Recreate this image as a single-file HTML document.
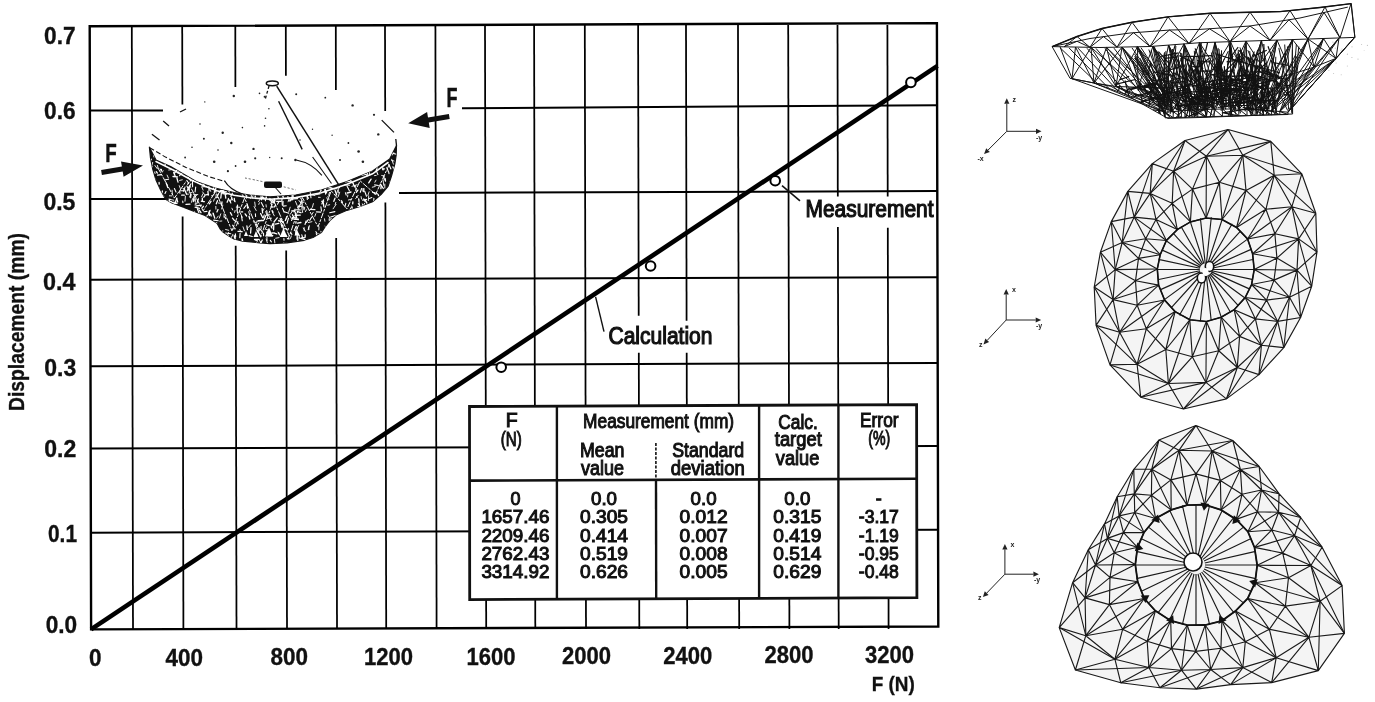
<!DOCTYPE html>
<html><head><meta charset="utf-8"><title>Displacement vs force</title>
<style>html,body{margin:0;padding:0;background:#fff;} body{width:1375px;height:702px;overflow:hidden} svg{display:block}</style>
</head><body>
<svg width="1375" height="702" viewBox="0 0 1375 702">
<rect width="1375" height="702" fill="#fff"/>
<g id="grid">
<line x1="131.8" y1="25.0" x2="133.0" y2="629.0" stroke="#000" stroke-width="1.75" />
<line x1="182.2" y1="25.0" x2="182.4" y2="104.6" stroke="#000" stroke-width="1.75" />
<line x1="182.6" y1="216.4" x2="183.4" y2="629.0" stroke="#000" stroke-width="1.75" />
<line x1="235.3" y1="25.0" x2="235.4" y2="87.0" stroke="#000" stroke-width="1.75" />
<line x1="235.7" y1="245.8" x2="236.5" y2="629.0" stroke="#000" stroke-width="1.75" />
<line x1="285.8" y1="25.0" x2="285.9" y2="75.7" stroke="#000" stroke-width="1.75" />
<line x1="286.2" y1="250.4" x2="287.0" y2="629.0" stroke="#000" stroke-width="1.75" />
<line x1="335.8" y1="25.0" x2="335.9" y2="90.0" stroke="#000" stroke-width="1.75" />
<line x1="336.2" y1="238.0" x2="337.0" y2="629.0" stroke="#000" stroke-width="1.75" />
<line x1="385.0" y1="25.0" x2="385.2" y2="111.0" stroke="#000" stroke-width="1.75" />
<line x1="385.4" y1="202.5" x2="386.2" y2="629.0" stroke="#000" stroke-width="1.75" />
<line x1="435.4" y1="25.0" x2="436.6" y2="629.0" stroke="#000" stroke-width="1.75" />
<line x1="485.0" y1="25.0" x2="486.2" y2="629.0" stroke="#000" stroke-width="1.75" />
<line x1="534.1" y1="25.0" x2="535.3" y2="629.0" stroke="#000" stroke-width="1.75" />
<line x1="584.8" y1="25.0" x2="586.0" y2="629.0" stroke="#000" stroke-width="1.75" />
<line x1="638.1" y1="25.0" x2="638.7" y2="315.8" stroke="#000" stroke-width="1.75" />
<line x1="638.8" y1="352.7" x2="639.3" y2="629.0" stroke="#000" stroke-width="1.75" />
<line x1="686.0" y1="25.0" x2="686.6" y2="320.8" stroke="#000" stroke-width="1.75" />
<line x1="686.7" y1="352.7" x2="687.2" y2="629.0" stroke="#000" stroke-width="1.75" />
<line x1="738.0" y1="25.0" x2="739.2" y2="629.0" stroke="#000" stroke-width="1.75" />
<line x1="788.2" y1="25.0" x2="789.4" y2="629.0" stroke="#000" stroke-width="1.75" />
<line x1="837.5" y1="25.0" x2="837.8" y2="196.6" stroke="#000" stroke-width="1.75" />
<line x1="837.9" y1="227.0" x2="838.7" y2="629.0" stroke="#000" stroke-width="1.75" />
<line x1="887.4" y1="25.0" x2="887.7" y2="196.6" stroke="#000" stroke-width="1.75" />
<line x1="887.8" y1="227.7" x2="888.6" y2="629.0" stroke="#000" stroke-width="1.75" />
<line x1="91.0" y1="279.7" x2="937.0" y2="277.2" stroke="#000" stroke-width="2.0" />
<line x1="91.0" y1="366.3" x2="937.0" y2="362.9" stroke="#000" stroke-width="2.0" />
<line x1="91.0" y1="448.6" x2="937.0" y2="446.0" stroke="#000" stroke-width="2.0" />
<line x1="91.0" y1="532.7" x2="937.0" y2="529.7" stroke="#000" stroke-width="2.0" />
<line x1="91.0" y1="110.6" x2="163.0" y2="110.4" stroke="#000" stroke-width="2.0" />
<line x1="462.0" y1="108.2" x2="937.0" y2="105.2" stroke="#000" stroke-width="2.0" />
<line x1="91.0" y1="199.1" x2="166.0" y2="199.0" stroke="#000" stroke-width="2.0" />
<line x1="399.0" y1="193.0" x2="937.0" y2="191.0" stroke="#000" stroke-width="2.0" />
</g>
<polygon points="149.5,147.5 156.0,160.0 170.6,166.5 183.0,173.8 196.3,181.5 215.0,188.0 234.0,192.5 250.0,195.2 270.0,196.8 295.6,195.0 321.3,190.0 347.0,181.5 372.6,171.0 389.7,159.1 396.5,145.4 396.2,155.0 394.8,164.2 391.5,176.0 388.0,186.4 381.0,194.5 372.6,201.8 360.0,206.5 347.0,210.3 336.0,215.0 329.8,220.6 325.0,227.0 321.3,232.6 313.0,237.5 304.2,240.3 287.1,242.8 270.0,243.7 259.7,242.8 242.6,241.1 234.0,239.0 228.9,236.0 223.0,232.0 220.3,229.1 217.0,223.2 205.0,215.5 193.0,211.0 182.7,206.9 172.0,203.0 165.6,199.2 160.5,189.8 156.0,180.0 152.8,169.3 150.5,158.0 149.4,147.1" fill="#111" stroke="#111" stroke-width="1.2" stroke-linejoin="round"/>
<clipPath id="bandclip"><polygon points="149.5,147.5 156.0,160.0 170.6,166.5 183.0,173.8 196.3,181.5 215.0,188.0 234.0,192.5 250.0,195.2 270.0,196.8 295.6,195.0 321.3,190.0 347.0,181.5 372.6,171.0 389.7,159.1 396.5,145.4 396.2,155.0 394.8,164.2 391.5,176.0 388.0,186.4 381.0,194.5 372.6,201.8 360.0,206.5 347.0,210.3 336.0,215.0 329.8,220.6 325.0,227.0 321.3,232.6 313.0,237.5 304.2,240.3 287.1,242.8 270.0,243.7 259.7,242.8 242.6,241.1 234.0,239.0 228.9,236.0 223.0,232.0 220.3,229.1 217.0,223.2 205.0,215.5 193.0,211.0 182.7,206.9 172.0,203.0 165.6,199.2 160.5,189.8 156.0,180.0 152.8,169.3 150.5,158.0 149.4,147.1"/></clipPath>
<g clip-path="url(#bandclip)" stroke="#fff" stroke-linecap="round">
<line x1="261.3" y1="202.6" x2="263.5" y2="206.8" stroke-width="1.1"/>
<line x1="305.0" y1="224.5" x2="306.1" y2="220.8" stroke-width="1.1"/>
<line x1="387.3" y1="211.5" x2="388.1" y2="210.0" stroke-width="0.9"/>
<line x1="297.5" y1="223.1" x2="300.9" y2="222.5" stroke-width="1.3"/>
<line x1="170.9" y1="211.6" x2="173.6" y2="212.3" stroke-width="0.9"/>
<line x1="276.2" y1="152.8" x2="278.7" y2="148.1" stroke-width="1.3"/>
<line x1="150.1" y1="169.7" x2="152.4" y2="166.7" stroke-width="0.9"/>
<line x1="341.5" y1="175.4" x2="342.1" y2="173.4" stroke-width="1.3"/>
<line x1="174.9" y1="155.6" x2="177.9" y2="160.1" stroke-width="0.9"/>
<line x1="253.1" y1="186.1" x2="258.4" y2="184.5" stroke-width="0.9"/>
<line x1="201.8" y1="187.1" x2="203.1" y2="190.1" stroke-width="0.9"/>
<line x1="340.1" y1="180.9" x2="341.0" y2="182.2" stroke-width="1.1"/>
<line x1="241.4" y1="192.6" x2="243.3" y2="196.2" stroke-width="1.1"/>
<line x1="373.5" y1="226.9" x2="375.9" y2="230.4" stroke-width="1.1"/>
<line x1="367.0" y1="206.7" x2="369.6" y2="210.3" stroke-width="1.1"/>
<line x1="213.2" y1="227.4" x2="214.2" y2="225.7" stroke-width="1.1"/>
<line x1="287.6" y1="230.1" x2="288.5" y2="228.6" stroke-width="1.1"/>
<line x1="259.6" y1="155.7" x2="261.7" y2="155.8" stroke-width="1.1"/>
<line x1="391.2" y1="211.8" x2="393.0" y2="208.8" stroke-width="1.1"/>
<line x1="322.4" y1="240.5" x2="324.5" y2="240.5" stroke-width="0.9"/>
<line x1="168.5" y1="201.3" x2="171.4" y2="201.7" stroke-width="1.3"/>
<line x1="266.4" y1="157.3" x2="268.7" y2="154.0" stroke-width="1.1"/>
<line x1="243.3" y1="151.2" x2="243.7" y2="155.6" stroke-width="1.1"/>
<line x1="379.8" y1="215.3" x2="381.0" y2="212.8" stroke-width="0.9"/>
<line x1="268.3" y1="171.6" x2="273.4" y2="172.0" stroke-width="1.1"/>
<line x1="224.1" y1="213.7" x2="224.0" y2="217.2" stroke-width="0.9"/>
<line x1="230.4" y1="212.6" x2="231.9" y2="215.3" stroke-width="1.3"/>
<line x1="376.5" y1="169.7" x2="378.2" y2="164.7" stroke-width="1.1"/>
<line x1="352.2" y1="160.6" x2="352.4" y2="164.8" stroke-width="1.3"/>
<line x1="356.4" y1="242.3" x2="358.3" y2="238.5" stroke-width="1.1"/>
<line x1="290.4" y1="179.0" x2="292.9" y2="175.2" stroke-width="1.1"/>
<line x1="208.4" y1="163.2" x2="213.7" y2="163.1" stroke-width="1.3"/>
<line x1="198.7" y1="227.4" x2="199.5" y2="225.4" stroke-width="1.1"/>
<line x1="341.5" y1="200.7" x2="342.4" y2="202.4" stroke-width="1.3"/>
<line x1="245.4" y1="192.3" x2="248.7" y2="191.4" stroke-width="1.3"/>
<line x1="391.7" y1="159.3" x2="393.4" y2="164.1" stroke-width="0.9"/>
<line x1="390.4" y1="200.5" x2="393.8" y2="201.3" stroke-width="0.9"/>
<line x1="258.5" y1="201.7" x2="260.2" y2="199.0" stroke-width="0.9"/>
<line x1="192.5" y1="181.5" x2="192.6" y2="186.8" stroke-width="1.1"/>
<line x1="292.4" y1="214.8" x2="294.1" y2="217.9" stroke-width="1.3"/>
<line x1="213.1" y1="213.1" x2="214.8" y2="218.2" stroke-width="1.3"/>
<line x1="217.1" y1="196.8" x2="218.7" y2="193.5" stroke-width="1.1"/>
<line x1="283.8" y1="243.0" x2="283.5" y2="246.1" stroke-width="1.1"/>
<line x1="216.2" y1="194.5" x2="215.9" y2="198.1" stroke-width="0.9"/>
<line x1="197.1" y1="208.1" x2="198.3" y2="209.8" stroke-width="0.9"/>
<line x1="319.0" y1="180.3" x2="321.0" y2="175.8" stroke-width="1.3"/>
<line x1="211.6" y1="168.6" x2="213.4" y2="171.8" stroke-width="1.3"/>
<line x1="281.4" y1="170.5" x2="286.5" y2="170.8" stroke-width="1.1"/>
<line x1="298.4" y1="233.7" x2="299.1" y2="235.6" stroke-width="0.9"/>
<line x1="213.8" y1="159.1" x2="214.4" y2="163.1" stroke-width="0.9"/>
<line x1="173.6" y1="203.6" x2="177.1" y2="203.3" stroke-width="1.3"/>
<line x1="354.9" y1="225.5" x2="354.9" y2="227.6" stroke-width="0.9"/>
<line x1="178.3" y1="166.2" x2="181.1" y2="170.7" stroke-width="1.1"/>
<line x1="169.1" y1="159.1" x2="170.6" y2="159.0" stroke-width="1.3"/>
<line x1="160.1" y1="168.8" x2="161.0" y2="170.4" stroke-width="0.9"/>
<line x1="229.6" y1="158.0" x2="230.7" y2="161.3" stroke-width="1.1"/>
<line x1="348.0" y1="174.3" x2="347.8" y2="176.3" stroke-width="1.1"/>
<line x1="366.4" y1="215.3" x2="369.0" y2="211.4" stroke-width="1.1"/>
<line x1="265.3" y1="151.0" x2="268.2" y2="151.2" stroke-width="1.3"/>
<line x1="249.9" y1="167.1" x2="251.3" y2="162.8" stroke-width="1.3"/>
<line x1="155.6" y1="207.8" x2="157.8" y2="211.3" stroke-width="0.9"/>
<line x1="174.2" y1="173.6" x2="176.6" y2="170.3" stroke-width="1.3"/>
<line x1="168.7" y1="206.2" x2="169.4" y2="211.5" stroke-width="1.1"/>
<line x1="283.3" y1="206.1" x2="286.3" y2="205.7" stroke-width="1.1"/>
<line x1="268.9" y1="175.4" x2="270.4" y2="178.9" stroke-width="1.3"/>
<line x1="188.5" y1="220.9" x2="190.3" y2="221.2" stroke-width="0.9"/>
<line x1="255.7" y1="194.9" x2="255.4" y2="197.0" stroke-width="0.9"/>
<line x1="298.5" y1="160.8" x2="299.4" y2="162.6" stroke-width="1.1"/>
<line x1="184.4" y1="189.2" x2="186.5" y2="194.1" stroke-width="1.3"/>
<line x1="181.7" y1="195.2" x2="184.3" y2="195.2" stroke-width="1.3"/>
<line x1="328.4" y1="215.7" x2="331.0" y2="220.0" stroke-width="0.9"/>
<line x1="304.6" y1="150.9" x2="306.3" y2="150.4" stroke-width="0.9"/>
<line x1="374.6" y1="165.1" x2="377.4" y2="165.1" stroke-width="1.3"/>
<line x1="182.8" y1="231.7" x2="184.4" y2="234.6" stroke-width="1.3"/>
<line x1="213.5" y1="226.1" x2="214.8" y2="229.1" stroke-width="1.1"/>
<line x1="292.8" y1="193.4" x2="292.8" y2="196.1" stroke-width="0.9"/>
<line x1="168.7" y1="170.0" x2="171.3" y2="169.7" stroke-width="0.9"/>
<line x1="203.8" y1="211.8" x2="207.0" y2="211.4" stroke-width="1.1"/>
<line x1="262.7" y1="170.8" x2="264.3" y2="170.8" stroke-width="1.3"/>
<line x1="247.3" y1="186.4" x2="248.3" y2="188.4" stroke-width="1.1"/>
<line x1="366.7" y1="176.5" x2="367.8" y2="172.5" stroke-width="1.1"/>
<line x1="165.8" y1="201.4" x2="167.5" y2="200.9" stroke-width="1.3"/>
<line x1="310.8" y1="159.2" x2="315.3" y2="159.7" stroke-width="1.1"/>
<line x1="236.2" y1="225.9" x2="237.9" y2="221.9" stroke-width="0.9"/>
<line x1="251.0" y1="227.7" x2="250.6" y2="233.0" stroke-width="1.3"/>
<line x1="156.0" y1="184.0" x2="158.6" y2="187.6" stroke-width="1.3"/>
<line x1="242.4" y1="165.8" x2="243.5" y2="162.6" stroke-width="1.3"/>
<line x1="178.2" y1="210.9" x2="178.4" y2="216.0" stroke-width="0.9"/>
<line x1="226.9" y1="168.6" x2="228.3" y2="171.5" stroke-width="1.1"/>
<line x1="249.0" y1="235.6" x2="252.3" y2="236.5" stroke-width="1.1"/>
<line x1="374.9" y1="182.2" x2="376.0" y2="180.1" stroke-width="0.9"/>
<line x1="347.1" y1="186.2" x2="349.4" y2="190.7" stroke-width="1.1"/>
<line x1="372.7" y1="192.3" x2="374.7" y2="192.8" stroke-width="1.3"/>
<line x1="182.3" y1="219.7" x2="182.9" y2="221.1" stroke-width="0.9"/>
<line x1="352.2" y1="157.7" x2="352.3" y2="159.6" stroke-width="1.3"/>
<line x1="294.3" y1="230.6" x2="296.1" y2="226.3" stroke-width="1.1"/>
<line x1="201.3" y1="201.1" x2="204.3" y2="201.7" stroke-width="1.3"/>
<line x1="225.2" y1="193.9" x2="225.8" y2="198.1" stroke-width="1.3"/>
<line x1="387.9" y1="228.0" x2="389.5" y2="230.1" stroke-width="0.9"/>
<line x1="262.7" y1="151.0" x2="266.6" y2="150.3" stroke-width="1.3"/>
<line x1="334.4" y1="239.7" x2="334.9" y2="244.1" stroke-width="1.1"/>
<line x1="226.2" y1="175.7" x2="227.1" y2="173.9" stroke-width="0.9"/>
<line x1="182.3" y1="209.3" x2="183.0" y2="207.5" stroke-width="0.9"/>
<line x1="188.6" y1="161.7" x2="191.1" y2="164.9" stroke-width="0.9"/>
<line x1="352.0" y1="186.3" x2="357.2" y2="184.7" stroke-width="0.9"/>
<line x1="312.4" y1="207.2" x2="313.4" y2="203.6" stroke-width="0.9"/>
<line x1="275.3" y1="224.1" x2="278.9" y2="223.4" stroke-width="1.1"/>
<line x1="300.6" y1="198.3" x2="302.7" y2="201.4" stroke-width="0.9"/>
<line x1="304.3" y1="168.6" x2="306.1" y2="168.7" stroke-width="1.1"/>
<line x1="215.5" y1="233.0" x2="217.1" y2="229.6" stroke-width="1.1"/>
<line x1="191.5" y1="220.1" x2="193.0" y2="218.0" stroke-width="1.1"/>
<line x1="209.3" y1="203.9" x2="211.0" y2="201.4" stroke-width="1.3"/>
<line x1="184.0" y1="221.1" x2="185.2" y2="219.3" stroke-width="1.1"/>
<line x1="265.1" y1="163.4" x2="267.6" y2="163.0" stroke-width="1.1"/>
<line x1="163.2" y1="223.7" x2="164.9" y2="220.8" stroke-width="1.1"/>
<line x1="370.6" y1="235.8" x2="370.1" y2="240.7" stroke-width="1.3"/>
<line x1="250.6" y1="190.8" x2="250.7" y2="194.0" stroke-width="0.9"/>
<line x1="228.9" y1="155.1" x2="233.9" y2="155.8" stroke-width="0.9"/>
<line x1="210.1" y1="229.4" x2="211.4" y2="226.0" stroke-width="0.9"/>
<line x1="284.1" y1="211.7" x2="288.8" y2="213.2" stroke-width="1.1"/>
<line x1="288.7" y1="165.4" x2="289.7" y2="167.2" stroke-width="1.3"/>
<line x1="291.7" y1="192.6" x2="292.3" y2="197.6" stroke-width="1.3"/>
<line x1="247.7" y1="183.5" x2="250.4" y2="182.7" stroke-width="0.9"/>
<line x1="379.7" y1="241.9" x2="380.8" y2="239.8" stroke-width="1.1"/>
<line x1="371.2" y1="151.5" x2="372.1" y2="153.6" stroke-width="0.9"/>
<line x1="309.9" y1="178.8" x2="310.7" y2="181.5" stroke-width="1.1"/>
<line x1="252.1" y1="165.9" x2="254.2" y2="168.8" stroke-width="1.1"/>
<line x1="344.5" y1="185.0" x2="349.5" y2="185.3" stroke-width="0.9"/>
<line x1="314.1" y1="176.0" x2="315.9" y2="172.9" stroke-width="0.9"/>
<line x1="151.7" y1="205.1" x2="152.9" y2="207.3" stroke-width="1.1"/>
<line x1="330.6" y1="152.7" x2="330.6" y2="154.2" stroke-width="1.1"/>
<line x1="164.8" y1="156.0" x2="166.8" y2="153.0" stroke-width="1.3"/>
<line x1="353.5" y1="209.7" x2="354.2" y2="211.5" stroke-width="1.1"/>
<line x1="207.9" y1="191.4" x2="208.3" y2="195.1" stroke-width="1.3"/>
<line x1="298.4" y1="174.6" x2="299.2" y2="177.3" stroke-width="1.3"/>
<line x1="154.4" y1="196.6" x2="155.2" y2="194.9" stroke-width="0.9"/>
<line x1="289.9" y1="201.1" x2="292.3" y2="197.5" stroke-width="1.3"/>
<line x1="331.7" y1="223.4" x2="331.7" y2="225.9" stroke-width="0.9"/>
<line x1="272.2" y1="211.9" x2="274.3" y2="215.8" stroke-width="0.9"/>
<line x1="181.6" y1="221.0" x2="182.3" y2="219.7" stroke-width="1.1"/>
<line x1="369.0" y1="163.3" x2="370.7" y2="159.5" stroke-width="1.3"/>
<line x1="337.8" y1="219.0" x2="337.9" y2="220.8" stroke-width="0.9"/>
<line x1="239.5" y1="181.7" x2="242.3" y2="178.2" stroke-width="1.3"/>
<line x1="320.9" y1="231.3" x2="321.8" y2="234.1" stroke-width="0.9"/>
<line x1="203.0" y1="182.7" x2="204.7" y2="186.1" stroke-width="1.1"/>
<line x1="266.3" y1="196.1" x2="266.3" y2="197.9" stroke-width="1.3"/>
<line x1="218.0" y1="239.2" x2="219.2" y2="241.5" stroke-width="1.1"/>
<line x1="164.1" y1="218.4" x2="165.0" y2="217.1" stroke-width="1.1"/>
<line x1="356.3" y1="192.3" x2="357.9" y2="190.1" stroke-width="1.3"/>
<line x1="208.6" y1="153.8" x2="208.9" y2="157.2" stroke-width="1.3"/>
<line x1="183.5" y1="216.4" x2="185.3" y2="220.9" stroke-width="1.3"/>
<line x1="325.3" y1="188.1" x2="329.2" y2="187.5" stroke-width="0.9"/>
<line x1="160.0" y1="152.3" x2="164.1" y2="153.1" stroke-width="0.9"/>
<line x1="376.1" y1="170.3" x2="377.9" y2="174.6" stroke-width="1.1"/>
<line x1="172.1" y1="190.2" x2="172.4" y2="194.5" stroke-width="0.9"/>
<line x1="189.0" y1="187.8" x2="191.0" y2="183.8" stroke-width="1.1"/>
<line x1="347.8" y1="195.0" x2="347.6" y2="196.9" stroke-width="0.9"/>
<line x1="374.5" y1="175.6" x2="376.2" y2="175.4" stroke-width="0.9"/>
<line x1="235.4" y1="233.8" x2="235.7" y2="236.8" stroke-width="1.1"/>
<line x1="384.8" y1="184.1" x2="384.8" y2="188.0" stroke-width="0.9"/>
<line x1="217.9" y1="228.0" x2="220.0" y2="231.7" stroke-width="1.1"/>
<line x1="225.9" y1="183.9" x2="227.3" y2="185.9" stroke-width="0.9"/>
<line x1="377.9" y1="242.1" x2="379.0" y2="238.3" stroke-width="1.3"/>
<line x1="367.5" y1="215.0" x2="369.8" y2="218.6" stroke-width="1.3"/>
<line x1="188.5" y1="168.1" x2="191.4" y2="168.4" stroke-width="1.1"/>
<line x1="240.2" y1="212.8" x2="242.3" y2="217.4" stroke-width="0.9"/>
<line x1="351.2" y1="233.2" x2="352.0" y2="231.3" stroke-width="1.1"/>
<line x1="364.0" y1="155.0" x2="366.9" y2="155.5" stroke-width="1.3"/>
<line x1="230.4" y1="181.4" x2="230.4" y2="185.4" stroke-width="0.9"/>
<line x1="303.3" y1="228.1" x2="305.6" y2="231.5" stroke-width="0.9"/>
<line x1="266.1" y1="215.2" x2="270.1" y2="214.7" stroke-width="1.1"/>
<line x1="245.1" y1="213.9" x2="246.6" y2="216.0" stroke-width="1.3"/>
<line x1="282.5" y1="225.4" x2="283.4" y2="228.2" stroke-width="1.1"/>
<line x1="257.9" y1="231.8" x2="260.9" y2="236.3" stroke-width="1.1"/>
<line x1="316.0" y1="170.4" x2="321.1" y2="170.2" stroke-width="1.1"/>
<line x1="179.6" y1="180.4" x2="182.3" y2="179.8" stroke-width="0.9"/>
<line x1="268.6" y1="184.4" x2="272.7" y2="183.3" stroke-width="0.9"/>
<line x1="194.9" y1="195.4" x2="195.0" y2="198.3" stroke-width="1.3"/>
<line x1="247.4" y1="155.4" x2="252.3" y2="155.8" stroke-width="1.1"/>
<line x1="290.5" y1="238.4" x2="291.3" y2="236.0" stroke-width="0.9"/>
<line x1="335.4" y1="179.1" x2="337.5" y2="175.1" stroke-width="1.1"/>
<line x1="349.3" y1="224.5" x2="352.1" y2="220.0" stroke-width="1.1"/>
<line x1="249.0" y1="216.3" x2="249.8" y2="219.0" stroke-width="1.3"/>
<line x1="240.9" y1="211.8" x2="242.6" y2="211.9" stroke-width="1.3"/>
<line x1="229.1" y1="158.9" x2="233.3" y2="158.1" stroke-width="0.9"/>
<line x1="235.5" y1="164.6" x2="236.7" y2="161.8" stroke-width="1.1"/>
<line x1="383.9" y1="228.9" x2="385.9" y2="225.7" stroke-width="1.1"/>
<line x1="255.8" y1="240.5" x2="257.6" y2="240.7" stroke-width="1.1"/>
<line x1="383.1" y1="180.3" x2="383.8" y2="185.4" stroke-width="0.9"/>
<line x1="202.2" y1="207.9" x2="203.4" y2="206.3" stroke-width="1.3"/>
<line x1="319.7" y1="192.6" x2="321.5" y2="189.5" stroke-width="0.9"/>
<line x1="279.9" y1="192.5" x2="280.1" y2="195.3" stroke-width="1.1"/>
<line x1="331.5" y1="179.4" x2="332.8" y2="183.8" stroke-width="1.1"/>
<line x1="177.3" y1="167.6" x2="179.4" y2="164.7" stroke-width="1.1"/>
<line x1="165.9" y1="231.8" x2="168.6" y2="227.6" stroke-width="0.9"/>
<line x1="270.3" y1="240.4" x2="271.4" y2="241.9" stroke-width="1.1"/>
<line x1="360.3" y1="222.5" x2="362.5" y2="222.8" stroke-width="1.1"/>
<line x1="159.1" y1="182.5" x2="159.2" y2="184.1" stroke-width="1.3"/>
<line x1="301.8" y1="234.8" x2="302.8" y2="238.4" stroke-width="1.1"/>
<line x1="243.0" y1="226.8" x2="244.4" y2="230.8" stroke-width="0.9"/>
<line x1="338.5" y1="166.1" x2="342.4" y2="165.6" stroke-width="1.1"/>
<line x1="225.6" y1="150.8" x2="225.4" y2="153.0" stroke-width="0.9"/>
<line x1="305.3" y1="189.9" x2="306.9" y2="187.5" stroke-width="1.3"/>
<line x1="252.8" y1="196.3" x2="254.1" y2="192.3" stroke-width="1.1"/>
<line x1="205.5" y1="194.9" x2="208.6" y2="194.4" stroke-width="1.1"/>
<line x1="293.7" y1="211.9" x2="294.9" y2="209.0" stroke-width="0.9"/>
<line x1="296.0" y1="231.4" x2="297.5" y2="228.1" stroke-width="0.9"/>
<line x1="261.5" y1="169.7" x2="266.7" y2="168.1" stroke-width="0.9"/>
<line x1="314.3" y1="164.6" x2="315.9" y2="159.5" stroke-width="0.9"/>
<line x1="394.2" y1="187.1" x2="397.3" y2="182.6" stroke-width="1.3"/>
<line x1="248.7" y1="211.7" x2="249.7" y2="215.1" stroke-width="0.9"/>
<line x1="332.5" y1="157.9" x2="336.6" y2="158.2" stroke-width="1.3"/>
<line x1="266.5" y1="233.1" x2="267.4" y2="231.3" stroke-width="1.1"/>
<line x1="281.8" y1="200.2" x2="282.4" y2="198.5" stroke-width="0.9"/>
<line x1="181.9" y1="158.3" x2="182.2" y2="161.7" stroke-width="0.9"/>
<line x1="294.9" y1="166.0" x2="296.1" y2="167.7" stroke-width="1.3"/>
<line x1="279.1" y1="188.2" x2="280.3" y2="186.1" stroke-width="0.9"/>
<line x1="330.7" y1="217.0" x2="335.6" y2="215.5" stroke-width="1.3"/>
<line x1="308.2" y1="229.7" x2="309.4" y2="225.7" stroke-width="1.1"/>
<line x1="230.9" y1="196.0" x2="232.4" y2="193.3" stroke-width="1.1"/>
<line x1="215.8" y1="206.4" x2="215.9" y2="209.2" stroke-width="0.9"/>
<line x1="162.2" y1="228.6" x2="164.1" y2="232.3" stroke-width="1.3"/>
<line x1="241.5" y1="179.6" x2="242.8" y2="176.9" stroke-width="1.3"/>
<line x1="387.7" y1="150.7" x2="392.6" y2="150.3" stroke-width="0.9"/>
<line x1="299.9" y1="205.4" x2="301.8" y2="200.9" stroke-width="0.9"/>
<line x1="212.0" y1="175.4" x2="215.7" y2="176.2" stroke-width="0.9"/>
<line x1="171.0" y1="242.5" x2="175.1" y2="242.1" stroke-width="0.9"/>
<line x1="395.9" y1="196.1" x2="397.6" y2="192.5" stroke-width="1.3"/>
<line x1="335.2" y1="204.5" x2="335.8" y2="202.4" stroke-width="0.9"/>
<line x1="258.4" y1="220.6" x2="263.5" y2="220.5" stroke-width="1.3"/>
<line x1="167.6" y1="160.9" x2="169.3" y2="158.3" stroke-width="1.3"/>
<line x1="384.7" y1="202.7" x2="385.9" y2="201.0" stroke-width="1.1"/>
<line x1="266.2" y1="152.9" x2="265.9" y2="156.2" stroke-width="1.1"/>
<line x1="275.8" y1="195.3" x2="277.2" y2="192.7" stroke-width="0.9"/>
<line x1="310.2" y1="185.4" x2="310.2" y2="188.4" stroke-width="1.3"/>
<line x1="186.4" y1="216.2" x2="190.8" y2="216.1" stroke-width="1.3"/>
<line x1="161.1" y1="236.6" x2="163.2" y2="233.5" stroke-width="1.1"/>
<line x1="373.8" y1="192.8" x2="377.2" y2="193.4" stroke-width="0.9"/>
<line x1="158.6" y1="215.7" x2="163.3" y2="215.2" stroke-width="0.9"/>
<line x1="210.8" y1="164.7" x2="212.2" y2="169.0" stroke-width="1.3"/>
<line x1="191.4" y1="243.6" x2="195.3" y2="242.7" stroke-width="1.3"/>
<line x1="391.6" y1="160.4" x2="394.0" y2="161.0" stroke-width="0.9"/>
<line x1="214.6" y1="157.1" x2="214.9" y2="159.2" stroke-width="1.3"/>
<line x1="360.3" y1="207.3" x2="363.0" y2="207.3" stroke-width="1.1"/>
<line x1="380.4" y1="184.1" x2="383.3" y2="188.5" stroke-width="1.3"/>
<line x1="216.6" y1="218.3" x2="218.2" y2="216.1" stroke-width="0.9"/>
<line x1="175.1" y1="203.2" x2="176.8" y2="198.1" stroke-width="1.3"/>
<line x1="166.7" y1="152.8" x2="168.3" y2="149.9" stroke-width="1.3"/>
<line x1="195.4" y1="199.5" x2="195.3" y2="201.6" stroke-width="0.9"/>
<line x1="169.4" y1="195.8" x2="171.9" y2="195.9" stroke-width="0.9"/>
<line x1="322.7" y1="238.3" x2="325.1" y2="235.1" stroke-width="1.3"/>
<line x1="395.1" y1="203.7" x2="397.9" y2="208.3" stroke-width="0.9"/>
<line x1="176.9" y1="178.0" x2="178.0" y2="182.1" stroke-width="1.3"/>
<line x1="358.3" y1="222.1" x2="361.5" y2="226.4" stroke-width="0.9"/>
<line x1="250.3" y1="181.5" x2="253.8" y2="182.1" stroke-width="1.1"/>
<line x1="278.2" y1="183.1" x2="278.9" y2="185.5" stroke-width="1.1"/>
<line x1="204.4" y1="236.4" x2="208.1" y2="236.6" stroke-width="0.9"/>
<line x1="195.4" y1="171.8" x2="197.3" y2="175.0" stroke-width="0.9"/>
<line x1="318.4" y1="197.3" x2="320.2" y2="197.4" stroke-width="0.9"/>
<line x1="393.7" y1="186.4" x2="394.7" y2="189.2" stroke-width="1.1"/>
<line x1="288.3" y1="238.7" x2="289.2" y2="235.8" stroke-width="0.9"/>
<line x1="254.5" y1="164.9" x2="257.4" y2="164.9" stroke-width="0.9"/>
<line x1="184.9" y1="217.2" x2="184.8" y2="220.1" stroke-width="1.3"/>
<line x1="179.6" y1="175.7" x2="180.8" y2="174.1" stroke-width="1.1"/>
<line x1="195.0" y1="161.5" x2="200.3" y2="161.8" stroke-width="0.9"/>
<line x1="310.8" y1="151.6" x2="311.4" y2="153.6" stroke-width="1.1"/>
<line x1="307.0" y1="159.9" x2="307.2" y2="163.2" stroke-width="0.9"/>
<line x1="186.3" y1="194.1" x2="188.4" y2="194.2" stroke-width="0.9"/>
<line x1="248.7" y1="227.3" x2="250.7" y2="224.7" stroke-width="0.9"/>
<line x1="234.1" y1="165.6" x2="234.1" y2="168.1" stroke-width="1.3"/>
<line x1="228.0" y1="183.5" x2="228.0" y2="186.0" stroke-width="1.1"/>
<line x1="207.4" y1="238.0" x2="211.9" y2="237.1" stroke-width="1.3"/>
<line x1="227.1" y1="202.2" x2="228.3" y2="199.5" stroke-width="1.3"/>
<line x1="177.6" y1="220.1" x2="177.5" y2="222.6" stroke-width="1.3"/>
<line x1="358.3" y1="203.5" x2="361.1" y2="208.1" stroke-width="1.1"/>
<line x1="282.5" y1="154.7" x2="283.4" y2="152.4" stroke-width="1.3"/>
<line x1="274.0" y1="190.1" x2="276.7" y2="190.0" stroke-width="1.3"/>
<line x1="273.7" y1="182.2" x2="276.1" y2="185.7" stroke-width="1.3"/>
<line x1="325.1" y1="226.1" x2="326.0" y2="227.5" stroke-width="0.9"/>
<line x1="385.2" y1="211.8" x2="387.6" y2="207.0" stroke-width="0.9"/>
<line x1="176.9" y1="242.3" x2="182.3" y2="241.3" stroke-width="1.3"/>
<line x1="309.7" y1="220.4" x2="311.6" y2="217.2" stroke-width="1.1"/>
<line x1="307.2" y1="196.2" x2="308.4" y2="198.3" stroke-width="1.3"/>
<line x1="340.7" y1="215.3" x2="344.9" y2="214.7" stroke-width="0.9"/>
<line x1="231.3" y1="237.1" x2="231.3" y2="241.7" stroke-width="1.1"/>
<line x1="176.8" y1="170.4" x2="178.9" y2="167.8" stroke-width="1.3"/>
<line x1="279.4" y1="177.1" x2="281.1" y2="177.0" stroke-width="1.1"/>
<line x1="222.7" y1="230.8" x2="222.2" y2="236.0" stroke-width="0.9"/>
<line x1="180.0" y1="190.7" x2="183.8" y2="190.8" stroke-width="1.1"/>
<line x1="395.3" y1="199.6" x2="399.8" y2="198.4" stroke-width="1.3"/>
<line x1="328.8" y1="180.0" x2="329.0" y2="185.4" stroke-width="1.1"/>
<line x1="197.7" y1="173.7" x2="197.8" y2="178.7" stroke-width="1.1"/>
<line x1="272.6" y1="223.8" x2="272.4" y2="225.4" stroke-width="1.3"/>
<line x1="288.7" y1="173.1" x2="288.5" y2="177.0" stroke-width="0.9"/>
<line x1="384.6" y1="230.1" x2="385.9" y2="227.6" stroke-width="0.9"/>
<line x1="204.4" y1="231.4" x2="206.0" y2="231.3" stroke-width="0.9"/>
<line x1="324.2" y1="192.1" x2="325.5" y2="189.3" stroke-width="1.1"/>
<line x1="303.0" y1="158.4" x2="302.9" y2="163.4" stroke-width="0.9"/>
<line x1="332.3" y1="177.8" x2="332.2" y2="180.2" stroke-width="1.1"/>
<line x1="205.6" y1="222.4" x2="207.9" y2="218.1" stroke-width="1.1"/>
<line x1="338.5" y1="174.4" x2="341.0" y2="178.1" stroke-width="1.1"/>
<line x1="164.7" y1="204.8" x2="169.2" y2="204.5" stroke-width="1.3"/>
<line x1="267.6" y1="174.1" x2="272.3" y2="173.1" stroke-width="1.3"/>
<line x1="383.8" y1="175.8" x2="384.3" y2="179.9" stroke-width="1.1"/>
<line x1="372.9" y1="240.9" x2="373.0" y2="244.7" stroke-width="1.1"/>
<line x1="236.7" y1="221.3" x2="238.3" y2="223.9" stroke-width="1.1"/>
<line x1="186.0" y1="204.4" x2="190.0" y2="204.1" stroke-width="1.3"/>
<line x1="211.4" y1="166.7" x2="213.0" y2="167.0" stroke-width="0.9"/>
<line x1="321.1" y1="152.6" x2="323.9" y2="152.1" stroke-width="0.9"/>
<line x1="358.1" y1="215.9" x2="360.4" y2="216.3" stroke-width="0.9"/>
<line x1="298.1" y1="180.0" x2="299.5" y2="184.6" stroke-width="1.3"/>
<line x1="316.5" y1="166.1" x2="317.8" y2="169.3" stroke-width="0.9"/>
<line x1="206.3" y1="217.5" x2="206.8" y2="215.7" stroke-width="0.9"/>
<line x1="296.0" y1="221.6" x2="295.9" y2="223.2" stroke-width="1.3"/>
<line x1="301.2" y1="202.0" x2="303.6" y2="202.3" stroke-width="0.9"/>
<line x1="237.5" y1="183.8" x2="240.7" y2="183.4" stroke-width="0.9"/>
<line x1="216.1" y1="160.6" x2="216.4" y2="164.9" stroke-width="1.3"/>
<line x1="210.1" y1="226.8" x2="211.5" y2="229.0" stroke-width="1.1"/>
<line x1="224.1" y1="153.0" x2="224.5" y2="157.2" stroke-width="1.3"/>
<line x1="382.3" y1="158.5" x2="383.2" y2="160.0" stroke-width="0.9"/>
<line x1="281.5" y1="181.6" x2="286.7" y2="180.1" stroke-width="0.9"/>
<line x1="280.8" y1="160.6" x2="280.6" y2="164.3" stroke-width="1.1"/>
<line x1="295.5" y1="201.4" x2="297.1" y2="205.3" stroke-width="0.9"/>
<line x1="380.2" y1="211.3" x2="381.5" y2="209.3" stroke-width="1.3"/>
<line x1="377.4" y1="206.8" x2="379.4" y2="201.7" stroke-width="0.9"/>
<line x1="214.5" y1="226.6" x2="216.2" y2="230.9" stroke-width="1.3"/>
<line x1="157.4" y1="165.4" x2="158.1" y2="168.0" stroke-width="0.9"/>
<line x1="301.3" y1="237.9" x2="304.4" y2="237.7" stroke-width="1.3"/>
<line x1="195.6" y1="196.5" x2="196.7" y2="195.1" stroke-width="0.9"/>
<line x1="321.0" y1="185.8" x2="320.9" y2="191.1" stroke-width="1.1"/>
<line x1="271.4" y1="155.5" x2="272.7" y2="152.9" stroke-width="1.3"/>
<line x1="241.3" y1="181.0" x2="242.5" y2="177.7" stroke-width="1.3"/>
<line x1="289.0" y1="172.5" x2="289.7" y2="170.6" stroke-width="1.1"/>
<line x1="265.1" y1="229.3" x2="266.5" y2="226.8" stroke-width="0.9"/>
<line x1="186.3" y1="165.3" x2="187.6" y2="161.1" stroke-width="0.9"/>
<line x1="358.2" y1="206.5" x2="360.2" y2="209.2" stroke-width="1.1"/>
<line x1="199.3" y1="210.2" x2="201.0" y2="212.7" stroke-width="1.3"/>
<line x1="275.0" y1="186.5" x2="280.2" y2="186.8" stroke-width="1.1"/>
<line x1="368.4" y1="205.2" x2="369.0" y2="209.9" stroke-width="1.1"/>
<line x1="377.4" y1="160.1" x2="379.6" y2="156.4" stroke-width="1.3"/>
<line x1="195.7" y1="187.0" x2="195.1" y2="191.9" stroke-width="1.1"/>
<line x1="295.3" y1="213.6" x2="296.8" y2="218.2" stroke-width="1.3"/>
<line x1="216.3" y1="203.8" x2="217.5" y2="200.7" stroke-width="1.3"/>
<line x1="218.8" y1="180.3" x2="220.1" y2="178.1" stroke-width="1.1"/>
<line x1="274.5" y1="206.9" x2="275.4" y2="205.2" stroke-width="1.3"/>
<line x1="150.5" y1="180.9" x2="151.8" y2="185.4" stroke-width="0.9"/>
<line x1="327.8" y1="230.5" x2="332.1" y2="230.0" stroke-width="1.1"/>
<line x1="282.5" y1="208.2" x2="284.1" y2="212.1" stroke-width="1.1"/>
<line x1="251.8" y1="167.2" x2="253.4" y2="164.7" stroke-width="0.9"/>
<line x1="184.2" y1="213.6" x2="184.8" y2="212.0" stroke-width="1.3"/>
<line x1="156.3" y1="171.6" x2="157.4" y2="173.1" stroke-width="1.3"/>
<line x1="352.7" y1="182.4" x2="354.7" y2="186.9" stroke-width="1.3"/>
<line x1="282.7" y1="180.7" x2="283.1" y2="184.1" stroke-width="1.1"/>
<line x1="268.6" y1="235.5" x2="272.8" y2="235.6" stroke-width="1.3"/>
<line x1="221.4" y1="192.8" x2="220.8" y2="198.0" stroke-width="1.3"/>
<line x1="268.0" y1="183.6" x2="270.0" y2="186.2" stroke-width="1.3"/>
<line x1="254.1" y1="206.6" x2="256.2" y2="210.5" stroke-width="0.9"/>
<line x1="367.9" y1="195.4" x2="369.1" y2="191.8" stroke-width="0.9"/>
<line x1="202.6" y1="191.9" x2="204.5" y2="194.5" stroke-width="0.9"/>
<line x1="176.8" y1="153.5" x2="179.1" y2="157.8" stroke-width="1.3"/>
<line x1="193.9" y1="196.5" x2="193.3" y2="201.7" stroke-width="1.1"/>
<line x1="302.0" y1="180.1" x2="302.7" y2="182.1" stroke-width="1.3"/>
<line x1="276.7" y1="201.4" x2="281.2" y2="201.4" stroke-width="1.1"/>
<line x1="315.9" y1="231.7" x2="317.1" y2="233.5" stroke-width="1.1"/>
<line x1="272.1" y1="210.6" x2="273.1" y2="212.3" stroke-width="1.3"/>
<line x1="274.4" y1="198.8" x2="274.2" y2="201.9" stroke-width="1.3"/>
<line x1="390.9" y1="235.6" x2="395.6" y2="234.9" stroke-width="1.3"/>
<line x1="187.9" y1="177.0" x2="191.0" y2="181.1" stroke-width="1.1"/>
<line x1="295.5" y1="209.8" x2="300.2" y2="209.9" stroke-width="1.1"/>
<line x1="205.6" y1="232.5" x2="206.0" y2="237.2" stroke-width="1.1"/>
<line x1="329.4" y1="152.8" x2="331.0" y2="150.1" stroke-width="0.9"/>
<line x1="344.9" y1="206.7" x2="345.8" y2="203.3" stroke-width="1.1"/>
<line x1="237.0" y1="241.4" x2="237.8" y2="244.1" stroke-width="1.3"/>
<line x1="172.2" y1="202.4" x2="176.0" y2="202.2" stroke-width="1.1"/>
<line x1="385.3" y1="221.2" x2="387.0" y2="224.4" stroke-width="1.1"/>
<line x1="348.2" y1="220.0" x2="348.1" y2="221.9" stroke-width="0.9"/>
<line x1="333.4" y1="231.0" x2="334.7" y2="234.5" stroke-width="1.1"/>
<line x1="304.6" y1="207.3" x2="304.6" y2="209.2" stroke-width="0.9"/>
<line x1="167.1" y1="175.1" x2="168.4" y2="178.0" stroke-width="0.9"/>
<line x1="213.3" y1="213.5" x2="213.3" y2="215.0" stroke-width="0.9"/>
<line x1="355.5" y1="185.7" x2="356.1" y2="190.9" stroke-width="0.9"/>
<line x1="308.9" y1="184.4" x2="310.4" y2="189.3" stroke-width="0.9"/>
<line x1="209.3" y1="210.9" x2="209.5" y2="215.6" stroke-width="1.1"/>
<line x1="274.4" y1="239.4" x2="274.9" y2="243.1" stroke-width="0.9"/>
<line x1="285.3" y1="234.1" x2="286.9" y2="236.6" stroke-width="1.1"/>
<line x1="343.2" y1="155.5" x2="344.8" y2="155.4" stroke-width="0.9"/>
<line x1="195.8" y1="226.9" x2="198.5" y2="223.3" stroke-width="1.1"/>
<line x1="160.8" y1="196.0" x2="162.4" y2="191.0" stroke-width="1.3"/>
<line x1="234.4" y1="199.9" x2="235.1" y2="201.8" stroke-width="1.1"/>
<line x1="372.3" y1="157.1" x2="373.2" y2="155.6" stroke-width="1.1"/>
<line x1="374.5" y1="225.8" x2="374.6" y2="228.3" stroke-width="1.3"/>
<line x1="297.1" y1="191.1" x2="300.2" y2="190.8" stroke-width="1.3"/>
<line x1="282.5" y1="184.7" x2="283.6" y2="182.4" stroke-width="0.9"/>
<line x1="151.9" y1="221.3" x2="152.8" y2="218.5" stroke-width="1.1"/>
<line x1="281.9" y1="165.3" x2="283.1" y2="162.7" stroke-width="1.1"/>
<line x1="273.8" y1="224.5" x2="273.6" y2="229.8" stroke-width="1.3"/>
<line x1="355.7" y1="198.5" x2="358.1" y2="195.4" stroke-width="0.9"/>
<line x1="242.3" y1="239.1" x2="242.2" y2="241.1" stroke-width="1.3"/>
<line x1="225.5" y1="233.0" x2="230.8" y2="233.8" stroke-width="1.1"/>
<line x1="324.5" y1="218.8" x2="324.9" y2="221.2" stroke-width="0.9"/>
<line x1="175.7" y1="233.2" x2="177.0" y2="231.4" stroke-width="1.1"/>
<line x1="250.9" y1="194.4" x2="252.8" y2="198.4" stroke-width="0.9"/>
<line x1="263.1" y1="210.5" x2="264.1" y2="208.7" stroke-width="0.9"/>
<line x1="393.6" y1="239.4" x2="396.7" y2="235.4" stroke-width="1.1"/>
<line x1="284.8" y1="191.8" x2="289.4" y2="192.0" stroke-width="1.3"/>
<line x1="337.7" y1="239.8" x2="343.1" y2="240.6" stroke-width="0.9"/>
<line x1="192.8" y1="219.9" x2="196.5" y2="220.4" stroke-width="0.9"/>
<line x1="367.1" y1="237.9" x2="367.1" y2="239.6" stroke-width="1.3"/>
<line x1="393.7" y1="192.0" x2="396.1" y2="188.1" stroke-width="1.1"/>
<line x1="328.0" y1="225.4" x2="328.9" y2="223.5" stroke-width="1.1"/>
<line x1="376.1" y1="228.5" x2="377.3" y2="232.6" stroke-width="0.9"/>
<line x1="314.8" y1="216.4" x2="315.8" y2="213.7" stroke-width="0.9"/>
<line x1="359.0" y1="201.7" x2="359.5" y2="205.0" stroke-width="0.9"/>
<line x1="297.9" y1="206.6" x2="301.9" y2="206.3" stroke-width="1.1"/>
<line x1="296.0" y1="230.2" x2="295.6" y2="234.5" stroke-width="1.3"/>
<line x1="230.2" y1="183.0" x2="232.5" y2="180.0" stroke-width="1.3"/>
<line x1="247.2" y1="161.7" x2="249.0" y2="165.0" stroke-width="1.1"/>
<line x1="205.7" y1="151.3" x2="209.9" y2="150.8" stroke-width="1.1"/>
<line x1="166.1" y1="182.8" x2="167.8" y2="187.5" stroke-width="1.3"/>
<line x1="242.9" y1="182.6" x2="245.7" y2="186.5" stroke-width="0.9"/>
<line x1="303.6" y1="206.8" x2="303.9" y2="209.9" stroke-width="0.9"/>
<line x1="330.8" y1="152.1" x2="333.6" y2="156.3" stroke-width="1.3"/>
<line x1="212.3" y1="227.5" x2="213.3" y2="229.6" stroke-width="1.3"/>
<line x1="279.7" y1="150.1" x2="279.3" y2="155.0" stroke-width="1.1"/>
<line x1="156.9" y1="215.8" x2="157.6" y2="213.1" stroke-width="0.9"/>
<line x1="322.6" y1="181.0" x2="327.5" y2="180.7" stroke-width="1.3"/>
<line x1="368.7" y1="182.9" x2="371.1" y2="179.1" stroke-width="1.3"/>
<line x1="270.0" y1="194.4" x2="272.5" y2="194.2" stroke-width="0.9"/>
<line x1="204.4" y1="163.8" x2="207.1" y2="163.7" stroke-width="0.9"/>
<line x1="281.0" y1="159.7" x2="282.0" y2="161.9" stroke-width="1.3"/>
<line x1="359.3" y1="225.9" x2="361.1" y2="221.0" stroke-width="1.3"/>
<line x1="271.2" y1="227.1" x2="274.1" y2="223.0" stroke-width="1.1"/>
<line x1="363.5" y1="231.5" x2="364.1" y2="233.3" stroke-width="1.3"/>
<line x1="223.4" y1="161.8" x2="224.1" y2="166.5" stroke-width="1.1"/>
<line x1="150.9" y1="202.1" x2="152.9" y2="207.1" stroke-width="0.9"/>
<line x1="268.5" y1="176.4" x2="270.2" y2="173.3" stroke-width="0.9"/>
<line x1="380.1" y1="229.8" x2="380.7" y2="235.0" stroke-width="0.9"/>
<line x1="394.9" y1="172.8" x2="394.8" y2="174.7" stroke-width="1.3"/>
<line x1="153.5" y1="176.6" x2="155.6" y2="179.9" stroke-width="1.1"/>
<line x1="185.4" y1="196.2" x2="185.0" y2="201.2" stroke-width="0.9"/>
<line x1="355.4" y1="227.9" x2="355.9" y2="231.3" stroke-width="0.9"/>
<line x1="221.2" y1="190.5" x2="223.9" y2="190.9" stroke-width="1.3"/>
<line x1="165.6" y1="213.6" x2="167.4" y2="211.2" stroke-width="0.9"/>
<line x1="336.0" y1="195.1" x2="337.8" y2="190.2" stroke-width="0.9"/>
<line x1="290.2" y1="188.3" x2="291.5" y2="184.5" stroke-width="0.9"/>
<line x1="183.8" y1="227.8" x2="188.9" y2="227.9" stroke-width="1.3"/>
<line x1="293.9" y1="210.7" x2="296.2" y2="213.8" stroke-width="1.1"/>
<line x1="189.0" y1="170.4" x2="189.5" y2="171.9" stroke-width="0.9"/>
<line x1="172.8" y1="227.8" x2="174.4" y2="231.5" stroke-width="1.3"/>
<line x1="280.0" y1="218.4" x2="282.8" y2="222.7" stroke-width="1.1"/>
<line x1="191.5" y1="202.3" x2="192.6" y2="198.6" stroke-width="0.9"/>
<line x1="209.5" y1="159.4" x2="214.5" y2="160.2" stroke-width="0.9"/>
<line x1="353.8" y1="228.5" x2="355.7" y2="228.9" stroke-width="1.3"/>
<line x1="290.2" y1="173.2" x2="291.4" y2="171.1" stroke-width="0.9"/>
<line x1="256.8" y1="229.6" x2="258.5" y2="232.9" stroke-width="1.3"/>
<line x1="296.7" y1="177.5" x2="298.5" y2="174.2" stroke-width="1.3"/>
<line x1="378.0" y1="194.3" x2="378.6" y2="195.7" stroke-width="1.3"/>
<line x1="169.6" y1="199.2" x2="169.6" y2="202.6" stroke-width="0.9"/>
<line x1="222.7" y1="193.6" x2="226.6" y2="194.2" stroke-width="1.3"/>
<line x1="335.5" y1="169.6" x2="336.6" y2="172.3" stroke-width="0.9"/>
<line x1="391.6" y1="196.6" x2="393.3" y2="194.4" stroke-width="1.3"/>
<line x1="359.6" y1="171.6" x2="363.8" y2="171.6" stroke-width="1.3"/>
<line x1="216.1" y1="230.9" x2="218.0" y2="233.3" stroke-width="1.3"/>
<line x1="238.1" y1="165.6" x2="241.2" y2="170.1" stroke-width="0.9"/>
<line x1="310.2" y1="192.5" x2="311.0" y2="197.8" stroke-width="1.1"/>
<line x1="240.9" y1="176.9" x2="243.4" y2="173.0" stroke-width="1.3"/>
<line x1="254.5" y1="167.7" x2="257.7" y2="163.6" stroke-width="0.9"/>
<line x1="269.9" y1="177.1" x2="273.3" y2="176.9" stroke-width="1.3"/>
<line x1="266.5" y1="224.8" x2="269.3" y2="225.6" stroke-width="1.1"/>
<line x1="325.3" y1="191.1" x2="325.6" y2="194.1" stroke-width="1.1"/>
<line x1="292.1" y1="199.2" x2="293.5" y2="196.6" stroke-width="0.9"/>
<line x1="153.8" y1="155.0" x2="154.0" y2="156.9" stroke-width="1.1"/>
<line x1="154.9" y1="165.5" x2="157.2" y2="168.6" stroke-width="0.9"/>
<line x1="315.6" y1="172.6" x2="315.4" y2="174.9" stroke-width="0.9"/>
<line x1="270.9" y1="225.7" x2="272.1" y2="228.3" stroke-width="1.1"/>
<line x1="319.2" y1="171.4" x2="321.6" y2="171.7" stroke-width="1.1"/>
<line x1="262.0" y1="197.9" x2="262.6" y2="196.1" stroke-width="0.9"/>
<line x1="283.5" y1="168.4" x2="284.6" y2="171.5" stroke-width="1.3"/>
<line x1="198.9" y1="220.5" x2="199.7" y2="222.1" stroke-width="0.9"/>
<line x1="195.4" y1="202.8" x2="195.2" y2="205.3" stroke-width="0.9"/>
<line x1="271.1" y1="187.5" x2="272.8" y2="188.0" stroke-width="1.1"/>
<line x1="358.0" y1="170.6" x2="357.6" y2="175.0" stroke-width="1.1"/>
<line x1="366.8" y1="151.7" x2="370.4" y2="152.1" stroke-width="0.9"/>
<line x1="271.0" y1="206.8" x2="273.1" y2="207.0" stroke-width="1.3"/>
<line x1="372.3" y1="187.2" x2="375.2" y2="186.5" stroke-width="0.9"/>
<line x1="338.2" y1="196.6" x2="339.7" y2="192.2" stroke-width="0.9"/>
<line x1="264.7" y1="151.6" x2="266.2" y2="153.8" stroke-width="1.3"/>
<line x1="271.7" y1="189.2" x2="276.7" y2="189.2" stroke-width="0.9"/>
<line x1="353.6" y1="222.6" x2="356.1" y2="222.2" stroke-width="1.3"/>
<line x1="187.1" y1="191.0" x2="189.1" y2="186.4" stroke-width="1.1"/>
<line x1="265.0" y1="197.6" x2="265.5" y2="200.8" stroke-width="1.1"/>
<line x1="276.9" y1="176.6" x2="276.7" y2="179.6" stroke-width="0.9"/>
<line x1="349.2" y1="211.3" x2="351.4" y2="207.2" stroke-width="1.1"/>
<line x1="345.6" y1="211.5" x2="347.1" y2="216.4" stroke-width="0.9"/>
<line x1="335.9" y1="171.2" x2="335.6" y2="173.7" stroke-width="0.9"/>
<line x1="392.1" y1="206.6" x2="394.0" y2="203.3" stroke-width="0.9"/>
<line x1="278.3" y1="220.4" x2="281.7" y2="220.1" stroke-width="0.9"/>
<line x1="363.8" y1="198.7" x2="365.2" y2="201.7" stroke-width="1.1"/>
<line x1="285.7" y1="189.3" x2="285.6" y2="193.8" stroke-width="1.1"/>
<line x1="351.9" y1="163.2" x2="353.1" y2="165.1" stroke-width="1.1"/>
<line x1="318.0" y1="166.8" x2="320.7" y2="166.6" stroke-width="0.9"/>
<line x1="189.5" y1="187.6" x2="189.3" y2="192.8" stroke-width="0.9"/>
<line x1="366.4" y1="216.3" x2="366.4" y2="218.1" stroke-width="1.1"/>
<line x1="289.4" y1="187.6" x2="290.8" y2="184.4" stroke-width="0.9"/>
<line x1="305.6" y1="163.9" x2="305.7" y2="166.4" stroke-width="1.3"/>
<line x1="226.3" y1="240.0" x2="228.2" y2="235.6" stroke-width="1.3"/>
<line x1="327.9" y1="196.6" x2="329.0" y2="199.3" stroke-width="0.9"/>
<line x1="194.8" y1="177.0" x2="197.4" y2="180.3" stroke-width="1.3"/>
<line x1="269.3" y1="200.1" x2="272.2" y2="200.0" stroke-width="0.9"/>
<line x1="319.5" y1="153.3" x2="320.7" y2="157.5" stroke-width="1.1"/>
<line x1="380.1" y1="238.2" x2="380.1" y2="240.1" stroke-width="1.3"/>
<line x1="262.4" y1="243.9" x2="262.2" y2="247.3" stroke-width="1.1"/>
<line x1="209.0" y1="179.7" x2="210.7" y2="177.1" stroke-width="1.1"/>
<line x1="283.9" y1="238.5" x2="284.0" y2="240.3" stroke-width="1.1"/>
<line x1="260.6" y1="213.5" x2="262.6" y2="217.5" stroke-width="1.3"/>
<line x1="190.9" y1="194.8" x2="190.7" y2="197.8" stroke-width="1.1"/>
<line x1="156.3" y1="194.1" x2="156.1" y2="195.9" stroke-width="1.3"/>
<line x1="161.2" y1="226.1" x2="163.4" y2="225.5" stroke-width="1.1"/>
<line x1="276.9" y1="153.6" x2="278.0" y2="151.7" stroke-width="1.3"/>
<line x1="192.4" y1="169.8" x2="194.2" y2="166.1" stroke-width="1.1"/>
<line x1="329.7" y1="212.8" x2="334.9" y2="211.6" stroke-width="1.1"/>
<line x1="330.1" y1="220.3" x2="332.5" y2="223.6" stroke-width="0.9"/>
<line x1="393.0" y1="218.5" x2="394.1" y2="220.8" stroke-width="1.1"/>
<line x1="322.5" y1="169.4" x2="324.9" y2="165.7" stroke-width="1.1"/>
<line x1="330.6" y1="221.7" x2="331.9" y2="218.2" stroke-width="0.9"/>
<line x1="291.5" y1="220.5" x2="293.1" y2="217.5" stroke-width="1.1"/>
<line x1="194.1" y1="241.9" x2="194.3" y2="246.9" stroke-width="1.1"/>
<line x1="339.8" y1="178.0" x2="340.5" y2="180.0" stroke-width="1.3"/>
<line x1="324.7" y1="239.9" x2="326.3" y2="237.7" stroke-width="0.9"/>
<line x1="378.0" y1="212.8" x2="377.9" y2="214.4" stroke-width="1.1"/>
<line x1="352.7" y1="169.2" x2="353.6" y2="165.9" stroke-width="1.1"/>
<line x1="278.6" y1="178.6" x2="280.9" y2="178.6" stroke-width="1.1"/>
<line x1="213.6" y1="220.1" x2="218.2" y2="220.8" stroke-width="1.1"/>
<line x1="151.1" y1="183.1" x2="150.9" y2="187.6" stroke-width="1.3"/>
<line x1="348.4" y1="200.0" x2="351.0" y2="199.3" stroke-width="0.9"/>
<line x1="256.1" y1="178.8" x2="259.4" y2="179.5" stroke-width="1.3"/>
<line x1="220.0" y1="239.3" x2="222.1" y2="236.7" stroke-width="0.9"/>
<line x1="381.8" y1="236.1" x2="384.2" y2="239.4" stroke-width="1.3"/>
<line x1="363.1" y1="206.1" x2="364.6" y2="203.4" stroke-width="0.9"/>
<line x1="179.5" y1="159.7" x2="179.5" y2="161.8" stroke-width="0.9"/>
<line x1="287.4" y1="238.6" x2="289.1" y2="238.8" stroke-width="1.3"/>
<line x1="302.8" y1="168.5" x2="304.7" y2="171.0" stroke-width="1.3"/>
<line x1="282.3" y1="170.0" x2="282.7" y2="172.1" stroke-width="1.1"/>
<line x1="221.6" y1="209.0" x2="222.8" y2="205.2" stroke-width="0.9"/>
<line x1="386.5" y1="167.6" x2="387.2" y2="168.9" stroke-width="0.9"/>
<line x1="208.9" y1="152.6" x2="210.4" y2="157.0" stroke-width="1.3"/>
<line x1="297.6" y1="207.9" x2="298.9" y2="205.7" stroke-width="1.1"/>
<line x1="293.0" y1="158.1" x2="294.8" y2="155.5" stroke-width="1.1"/>
<line x1="238.8" y1="179.1" x2="238.9" y2="181.8" stroke-width="1.3"/>
<line x1="377.4" y1="233.3" x2="378.7" y2="230.7" stroke-width="1.3"/>
<line x1="181.7" y1="225.9" x2="182.3" y2="229.3" stroke-width="0.9"/>
<line x1="297.2" y1="235.4" x2="297.1" y2="239.1" stroke-width="1.3"/>
<line x1="223.8" y1="167.9" x2="225.1" y2="165.4" stroke-width="0.9"/>
<line x1="302.3" y1="187.2" x2="304.1" y2="186.8" stroke-width="1.3"/>
<line x1="259.0" y1="227.8" x2="259.0" y2="230.4" stroke-width="1.3"/>
<line x1="266.2" y1="239.0" x2="267.3" y2="242.7" stroke-width="0.9"/>
<line x1="327.7" y1="205.2" x2="329.7" y2="204.7" stroke-width="0.9"/>
<line x1="335.3" y1="177.6" x2="337.1" y2="173.1" stroke-width="1.1"/>
<line x1="331.9" y1="239.9" x2="336.0" y2="238.9" stroke-width="1.3"/>
<line x1="229.4" y1="164.0" x2="231.0" y2="158.8" stroke-width="1.1"/>
<line x1="170.3" y1="212.1" x2="172.3" y2="212.1" stroke-width="1.3"/>
<line x1="165.1" y1="157.7" x2="165.3" y2="159.4" stroke-width="0.9"/>
<line x1="288.7" y1="212.0" x2="290.2" y2="207.2" stroke-width="0.9"/>
<line x1="227.4" y1="189.0" x2="229.4" y2="191.9" stroke-width="1.3"/>
<line x1="239.8" y1="229.6" x2="240.8" y2="231.8" stroke-width="0.9"/>
<line x1="171.0" y1="202.7" x2="171.7" y2="204.5" stroke-width="0.9"/>
<line x1="278.0" y1="155.4" x2="278.6" y2="157.0" stroke-width="1.3"/>
<line x1="173.0" y1="176.5" x2="177.5" y2="176.9" stroke-width="1.3"/>
<line x1="201.5" y1="219.3" x2="201.6" y2="223.3" stroke-width="0.9"/>
<line x1="266.0" y1="204.7" x2="266.3" y2="207.0" stroke-width="0.9"/>
<line x1="221.5" y1="181.8" x2="225.6" y2="180.6" stroke-width="0.9"/>
<line x1="318.9" y1="233.4" x2="321.6" y2="237.5" stroke-width="0.9"/>
<line x1="154.3" y1="152.6" x2="155.0" y2="153.9" stroke-width="1.3"/>
<line x1="201.8" y1="180.0" x2="203.2" y2="184.2" stroke-width="0.9"/>
<line x1="394.7" y1="217.1" x2="396.5" y2="220.3" stroke-width="1.1"/>
<line x1="284.0" y1="195.7" x2="286.3" y2="192.5" stroke-width="0.9"/>
<line x1="369.4" y1="211.8" x2="372.2" y2="211.5" stroke-width="1.3"/>
<line x1="282.7" y1="195.9" x2="283.4" y2="198.0" stroke-width="1.1"/>
<line x1="329.2" y1="218.7" x2="329.3" y2="220.8" stroke-width="1.1"/>
<line x1="338.2" y1="231.7" x2="338.1" y2="236.5" stroke-width="1.1"/>
<line x1="333.2" y1="188.3" x2="336.9" y2="188.8" stroke-width="0.9"/>
<line x1="237.5" y1="205.2" x2="237.1" y2="209.8" stroke-width="1.3"/>
<line x1="380.0" y1="204.3" x2="382.8" y2="199.7" stroke-width="0.9"/>
<line x1="323.6" y1="170.5" x2="327.3" y2="171.1" stroke-width="0.9"/>
<line x1="179.6" y1="191.0" x2="179.9" y2="193.3" stroke-width="1.1"/>
<line x1="162.8" y1="210.5" x2="167.2" y2="210.7" stroke-width="1.3"/>
<line x1="387.4" y1="218.1" x2="388.1" y2="215.7" stroke-width="0.9"/>
<line x1="161.4" y1="169.4" x2="161.3" y2="171.0" stroke-width="1.3"/>
<line x1="232.6" y1="225.2" x2="234.4" y2="228.0" stroke-width="1.1"/>
<line x1="348.9" y1="158.0" x2="351.2" y2="154.3" stroke-width="1.1"/>
<line x1="316.3" y1="173.1" x2="316.8" y2="177.0" stroke-width="1.1"/>
<line x1="309.3" y1="186.5" x2="310.9" y2="191.7" stroke-width="0.9"/>
<line x1="168.3" y1="208.7" x2="172.2" y2="209.0" stroke-width="0.9"/>
<line x1="389.6" y1="238.6" x2="391.3" y2="238.4" stroke-width="1.3"/>
<line x1="305.4" y1="211.6" x2="306.5" y2="209.7" stroke-width="0.9"/>
<line x1="374.8" y1="194.0" x2="377.2" y2="193.8" stroke-width="1.1"/>
<line x1="297.4" y1="211.6" x2="301.0" y2="212.7" stroke-width="1.3"/>
<line x1="295.1" y1="215.4" x2="300.3" y2="215.1" stroke-width="1.3"/>
<line x1="230.9" y1="196.3" x2="232.9" y2="200.3" stroke-width="0.9"/>
<line x1="338.5" y1="153.8" x2="340.1" y2="151.4" stroke-width="1.1"/>
<line x1="169.1" y1="200.4" x2="171.4" y2="203.3" stroke-width="0.9"/>
<line x1="366.2" y1="151.5" x2="368.0" y2="152.0" stroke-width="1.3"/>
<line x1="380.4" y1="234.6" x2="380.2" y2="239.1" stroke-width="1.1"/>
<line x1="290.7" y1="152.4" x2="290.8" y2="156.9" stroke-width="0.9"/>
<line x1="338.1" y1="239.6" x2="339.0" y2="238.3" stroke-width="1.1"/>
<line x1="307.4" y1="169.4" x2="309.8" y2="165.3" stroke-width="1.1"/>
<line x1="285.4" y1="220.4" x2="287.5" y2="216.0" stroke-width="1.1"/>
<line x1="188.7" y1="152.8" x2="190.8" y2="152.4" stroke-width="0.9"/>
<line x1="394.6" y1="185.2" x2="395.8" y2="183.6" stroke-width="1.3"/>
<line x1="281.2" y1="190.3" x2="282.0" y2="187.6" stroke-width="1.3"/>
<line x1="158.5" y1="233.5" x2="158.9" y2="238.6" stroke-width="1.3"/>
<line x1="356.4" y1="196.4" x2="357.4" y2="197.7" stroke-width="0.9"/>
<line x1="265.9" y1="160.7" x2="269.0" y2="160.1" stroke-width="1.1"/>
<line x1="312.3" y1="156.6" x2="315.4" y2="156.5" stroke-width="1.3"/>
<line x1="266.6" y1="155.6" x2="267.0" y2="159.5" stroke-width="1.1"/>
<line x1="387.3" y1="215.7" x2="389.1" y2="220.3" stroke-width="0.9"/>
<line x1="255.4" y1="213.9" x2="255.6" y2="216.5" stroke-width="1.1"/>
<line x1="387.3" y1="223.6" x2="389.3" y2="220.7" stroke-width="0.9"/>
<line x1="260.9" y1="195.1" x2="261.5" y2="199.9" stroke-width="1.1"/>
<line x1="274.0" y1="173.6" x2="275.9" y2="176.4" stroke-width="1.3"/>
<line x1="387.3" y1="219.7" x2="389.2" y2="223.6" stroke-width="1.1"/>
<line x1="293.7" y1="174.9" x2="294.2" y2="178.3" stroke-width="1.3"/>
<line x1="291.4" y1="210.9" x2="295.6" y2="210.8" stroke-width="0.9"/>
<line x1="234.4" y1="189.6" x2="239.6" y2="189.9" stroke-width="0.9"/>
<line x1="259.0" y1="228.3" x2="259.0" y2="231.2" stroke-width="0.9"/>
<line x1="340.0" y1="231.1" x2="340.2" y2="236.3" stroke-width="1.1"/>
<line x1="268.2" y1="186.4" x2="271.2" y2="185.6" stroke-width="0.9"/>
<line x1="191.1" y1="178.0" x2="192.6" y2="174.2" stroke-width="0.9"/>
<line x1="246.1" y1="190.2" x2="248.2" y2="186.7" stroke-width="1.3"/>
<line x1="205.1" y1="162.2" x2="208.7" y2="161.5" stroke-width="1.3"/>
<line x1="193.7" y1="194.5" x2="197.8" y2="194.6" stroke-width="0.9"/>
<line x1="269.8" y1="156.9" x2="269.7" y2="162.3" stroke-width="1.3"/>
<line x1="388.8" y1="164.4" x2="390.8" y2="168.8" stroke-width="1.3"/>
<line x1="258.8" y1="204.4" x2="259.4" y2="202.8" stroke-width="0.9"/>
<line x1="230.0" y1="239.4" x2="230.3" y2="242.3" stroke-width="0.9"/>
<line x1="236.9" y1="166.9" x2="237.2" y2="168.6" stroke-width="1.1"/>
<line x1="277.5" y1="204.2" x2="278.9" y2="201.6" stroke-width="1.1"/>
<line x1="374.1" y1="166.3" x2="374.8" y2="167.9" stroke-width="0.9"/>
<line x1="182.7" y1="201.0" x2="182.9" y2="202.6" stroke-width="1.1"/>
<line x1="242.0" y1="238.8" x2="243.6" y2="243.4" stroke-width="1.1"/>
<line x1="338.0" y1="176.0" x2="343.1" y2="176.6" stroke-width="0.9"/>
<line x1="369.5" y1="172.1" x2="369.7" y2="175.3" stroke-width="0.9"/>
<line x1="256.7" y1="221.3" x2="261.8" y2="220.4" stroke-width="1.1"/>
<line x1="274.0" y1="221.9" x2="277.2" y2="217.8" stroke-width="1.3"/>
<line x1="159.3" y1="205.8" x2="161.2" y2="202.4" stroke-width="0.9"/>
<line x1="209.1" y1="219.4" x2="211.6" y2="223.6" stroke-width="1.3"/>
<line x1="281.1" y1="224.3" x2="282.1" y2="227.5" stroke-width="1.1"/>
<line x1="382.0" y1="151.4" x2="383.0" y2="153.2" stroke-width="1.3"/>
<line x1="152.8" y1="227.9" x2="156.2" y2="228.8" stroke-width="1.1"/>
<line x1="212.2" y1="222.1" x2="216.7" y2="222.8" stroke-width="1.3"/>
<line x1="276.0" y1="159.4" x2="276.2" y2="160.9" stroke-width="1.1"/>
<line x1="219.7" y1="235.0" x2="222.9" y2="234.6" stroke-width="0.9"/>
<line x1="288.4" y1="200.2" x2="292.9" y2="199.6" stroke-width="1.1"/>
<line x1="239.8" y1="152.6" x2="243.8" y2="153.5" stroke-width="1.1"/>
<line x1="220.9" y1="153.1" x2="222.8" y2="156.9" stroke-width="1.1"/>
<line x1="342.7" y1="223.0" x2="345.6" y2="227.0" stroke-width="1.1"/>
<line x1="285.3" y1="158.0" x2="285.1" y2="159.9" stroke-width="1.3"/>
<line x1="388.4" y1="204.5" x2="389.6" y2="202.2" stroke-width="1.1"/>
<line x1="330.2" y1="244.0" x2="331.7" y2="239.7" stroke-width="0.9"/>
<line x1="376.8" y1="160.1" x2="377.0" y2="161.7" stroke-width="1.3"/>
<line x1="202.8" y1="225.7" x2="204.5" y2="221.7" stroke-width="0.9"/>
<line x1="298.9" y1="200.4" x2="301.4" y2="203.8" stroke-width="0.9"/>
<line x1="346.3" y1="230.5" x2="347.2" y2="233.3" stroke-width="1.1"/>
<line x1="193.8" y1="201.4" x2="194.9" y2="199.1" stroke-width="0.9"/>
<line x1="391.2" y1="214.3" x2="392.1" y2="216.4" stroke-width="0.9"/>
<line x1="357.8" y1="206.8" x2="362.5" y2="206.5" stroke-width="1.3"/>
<line x1="256.0" y1="223.7" x2="257.5" y2="226.4" stroke-width="1.1"/>
<line x1="392.2" y1="155.2" x2="393.7" y2="152.7" stroke-width="0.9"/>
<line x1="187.6" y1="184.3" x2="189.0" y2="182.2" stroke-width="1.1"/>
<line x1="234.3" y1="198.5" x2="234.5" y2="201.0" stroke-width="1.3"/>
<line x1="261.1" y1="226.4" x2="261.1" y2="228.6" stroke-width="1.1"/>
<line x1="172.6" y1="229.9" x2="175.0" y2="225.9" stroke-width="0.9"/>
<line x1="363.0" y1="188.4" x2="362.8" y2="191.2" stroke-width="0.9"/>
<line x1="278.6" y1="220.8" x2="283.4" y2="221.8" stroke-width="1.3"/>
<line x1="321.9" y1="203.9" x2="323.5" y2="199.9" stroke-width="1.3"/>
<line x1="178.4" y1="164.3" x2="177.8" y2="169.4" stroke-width="1.3"/>
<line x1="303.7" y1="171.2" x2="305.5" y2="171.2" stroke-width="1.1"/>
<line x1="260.4" y1="229.3" x2="262.3" y2="231.8" stroke-width="1.1"/>
<line x1="357.5" y1="151.7" x2="358.1" y2="153.6" stroke-width="1.1"/>
<line x1="191.2" y1="219.5" x2="193.4" y2="219.7" stroke-width="1.3"/>
<line x1="335.0" y1="155.0" x2="340.1" y2="153.5" stroke-width="0.9"/>
<line x1="209.6" y1="241.9" x2="210.9" y2="245.3" stroke-width="0.9"/>
<line x1="362.2" y1="215.6" x2="365.1" y2="215.9" stroke-width="0.9"/>
<line x1="306.5" y1="222.4" x2="308.3" y2="219.5" stroke-width="1.1"/>
<line x1="259.1" y1="239.4" x2="261.1" y2="243.4" stroke-width="0.9"/>
<line x1="279.3" y1="188.0" x2="279.9" y2="186.3" stroke-width="1.1"/>
<line x1="223.1" y1="187.1" x2="224.2" y2="188.8" stroke-width="1.3"/>
<line x1="286.4" y1="171.9" x2="289.1" y2="176.4" stroke-width="1.3"/>
<line x1="285.2" y1="220.8" x2="286.7" y2="216.4" stroke-width="0.9"/>
<line x1="316.0" y1="153.8" x2="318.0" y2="153.8" stroke-width="1.3"/>
<line x1="240.5" y1="170.1" x2="241.6" y2="171.8" stroke-width="0.9"/>
<line x1="224.7" y1="216.8" x2="225.8" y2="218.8" stroke-width="1.3"/>
<line x1="294.9" y1="219.3" x2="298.4" y2="219.1" stroke-width="1.1"/>
<line x1="364.4" y1="168.5" x2="365.5" y2="170.4" stroke-width="0.9"/>
<line x1="235.3" y1="158.4" x2="235.9" y2="160.1" stroke-width="1.1"/>
<line x1="291.1" y1="181.4" x2="293.2" y2="185.0" stroke-width="0.9"/>
<line x1="186.8" y1="215.6" x2="188.8" y2="220.4" stroke-width="0.9"/>
<line x1="390.8" y1="191.9" x2="391.8" y2="193.1" stroke-width="0.9"/>
<line x1="185.2" y1="219.6" x2="187.9" y2="223.9" stroke-width="1.3"/>
<line x1="304.1" y1="176.3" x2="304.7" y2="179.9" stroke-width="0.9"/>
<line x1="235.4" y1="159.8" x2="236.8" y2="158.0" stroke-width="1.3"/>
<line x1="369.3" y1="160.0" x2="369.8" y2="158.4" stroke-width="1.1"/>
<line x1="354.2" y1="229.6" x2="355.7" y2="225.9" stroke-width="1.1"/>
<line x1="201.4" y1="169.8" x2="205.7" y2="171.0" stroke-width="0.9"/>
<line x1="287.9" y1="196.6" x2="288.1" y2="198.6" stroke-width="1.3"/>
<line x1="264.2" y1="219.7" x2="265.6" y2="215.8" stroke-width="1.3"/>
<line x1="361.1" y1="196.6" x2="361.5" y2="199.0" stroke-width="0.9"/>
<line x1="225.6" y1="229.5" x2="228.7" y2="230.3" stroke-width="0.9"/>
<line x1="393.1" y1="213.9" x2="395.1" y2="216.8" stroke-width="0.9"/>
<line x1="168.9" y1="199.2" x2="173.7" y2="200.2" stroke-width="0.9"/>
<line x1="387.5" y1="169.3" x2="388.4" y2="171.7" stroke-width="1.1"/>
<line x1="326.8" y1="197.8" x2="327.7" y2="199.6" stroke-width="0.9"/>
<line x1="172.6" y1="238.7" x2="174.1" y2="235.9" stroke-width="0.9"/>
<line x1="229.3" y1="243.7" x2="231.0" y2="246.5" stroke-width="1.1"/>
<line x1="320.1" y1="183.1" x2="322.7" y2="183.6" stroke-width="0.9"/>
<line x1="388.4" y1="201.8" x2="392.0" y2="202.3" stroke-width="1.1"/>
<line x1="267.0" y1="166.6" x2="266.9" y2="170.9" stroke-width="0.9"/>
<line x1="221.9" y1="191.1" x2="223.5" y2="191.5" stroke-width="1.3"/>
<line x1="227.1" y1="185.2" x2="228.3" y2="187.7" stroke-width="1.1"/>
<line x1="309.6" y1="210.6" x2="311.7" y2="208.0" stroke-width="0.9"/>
<line x1="165.8" y1="154.1" x2="168.4" y2="149.3" stroke-width="0.9"/>
<line x1="239.2" y1="182.8" x2="240.6" y2="187.0" stroke-width="0.9"/>
<line x1="190.3" y1="193.4" x2="190.5" y2="195.2" stroke-width="0.9"/>
<line x1="154.4" y1="198.4" x2="154.5" y2="200.4" stroke-width="0.9"/>
<line x1="263.5" y1="233.1" x2="263.6" y2="235.7" stroke-width="1.1"/>
<line x1="330.5" y1="229.4" x2="331.4" y2="231.0" stroke-width="1.1"/>
<line x1="368.6" y1="170.6" x2="370.9" y2="171.3" stroke-width="1.3"/>
<line x1="215.7" y1="235.9" x2="218.0" y2="240.0" stroke-width="1.1"/>
<line x1="393.2" y1="187.6" x2="393.4" y2="191.7" stroke-width="0.9"/>
<line x1="304.0" y1="181.0" x2="307.1" y2="181.5" stroke-width="0.9"/>
<line x1="201.8" y1="169.5" x2="202.4" y2="172.9" stroke-width="0.9"/>
<line x1="183.2" y1="241.1" x2="184.7" y2="244.1" stroke-width="0.9"/>
<line x1="283.9" y1="174.2" x2="283.7" y2="176.3" stroke-width="0.9"/>
<line x1="182.2" y1="242.5" x2="182.4" y2="245.3" stroke-width="0.9"/>
<line x1="323.3" y1="203.6" x2="323.5" y2="205.9" stroke-width="0.9"/>
<line x1="271.9" y1="233.0" x2="274.2" y2="232.9" stroke-width="1.3"/>
<line x1="272.0" y1="177.2" x2="274.0" y2="180.9" stroke-width="1.3"/>
<line x1="267.9" y1="218.5" x2="271.5" y2="218.2" stroke-width="0.9"/>
<line x1="334.6" y1="156.5" x2="334.6" y2="159.2" stroke-width="1.3"/>
<line x1="179.3" y1="185.7" x2="180.3" y2="188.4" stroke-width="0.9"/>
<line x1="321.5" y1="201.2" x2="323.7" y2="201.2" stroke-width="1.1"/>
<line x1="192.2" y1="215.1" x2="194.4" y2="211.6" stroke-width="1.3"/>
<line x1="310.1" y1="194.7" x2="314.8" y2="195.5" stroke-width="0.9"/>
<line x1="274.5" y1="233.2" x2="276.8" y2="233.8" stroke-width="1.3"/>
<line x1="216.9" y1="235.0" x2="222.3" y2="235.2" stroke-width="1.1"/>
<line x1="336.6" y1="177.1" x2="336.4" y2="178.8" stroke-width="0.9"/>
<line x1="152.8" y1="238.3" x2="153.7" y2="241.3" stroke-width="1.1"/>
<line x1="362.7" y1="200.2" x2="366.5" y2="199.4" stroke-width="1.3"/>
<line x1="381.7" y1="175.5" x2="384.0" y2="176.1" stroke-width="0.9"/>
<line x1="372.4" y1="162.3" x2="373.4" y2="158.7" stroke-width="1.3"/>
<line x1="346.0" y1="223.4" x2="347.8" y2="219.1" stroke-width="1.3"/>
<line x1="181.9" y1="164.3" x2="181.9" y2="168.8" stroke-width="1.3"/>
<line x1="283.3" y1="228.9" x2="286.1" y2="228.7" stroke-width="1.3"/>
<line x1="364.7" y1="191.3" x2="366.5" y2="196.2" stroke-width="1.1"/>
<line x1="225.1" y1="152.2" x2="225.8" y2="157.5" stroke-width="1.3"/>
<line x1="165.4" y1="179.8" x2="168.6" y2="179.3" stroke-width="1.1"/>
<line x1="225.4" y1="242.7" x2="227.1" y2="239.2" stroke-width="1.1"/>
<line x1="255.7" y1="243.8" x2="257.2" y2="241.7" stroke-width="0.9"/>
<line x1="150.5" y1="212.5" x2="151.9" y2="215.9" stroke-width="0.9"/>
<line x1="158.6" y1="214.3" x2="158.4" y2="218.3" stroke-width="1.3"/>
<line x1="232.5" y1="218.1" x2="234.5" y2="220.6" stroke-width="1.3"/>
<line x1="234.6" y1="212.4" x2="235.1" y2="210.5" stroke-width="0.9"/>
<line x1="191.9" y1="175.1" x2="192.3" y2="178.0" stroke-width="1.1"/>
<line x1="270.5" y1="189.3" x2="273.0" y2="184.5" stroke-width="0.9"/>
<line x1="211.6" y1="195.7" x2="213.9" y2="195.0" stroke-width="0.9"/>
<line x1="369.5" y1="150.3" x2="373.6" y2="149.6" stroke-width="1.1"/>
<line x1="235.4" y1="187.6" x2="235.4" y2="189.3" stroke-width="1.3"/>
<line x1="384.9" y1="215.2" x2="385.8" y2="217.9" stroke-width="0.9"/>
<line x1="192.4" y1="226.2" x2="193.8" y2="229.2" stroke-width="1.1"/>
<line x1="278.0" y1="232.1" x2="280.7" y2="236.6" stroke-width="0.9"/>
<line x1="284.7" y1="175.6" x2="285.7" y2="173.2" stroke-width="1.1"/>
<line x1="234.2" y1="235.4" x2="234.6" y2="238.0" stroke-width="1.3"/>
<line x1="221.6" y1="165.8" x2="221.9" y2="170.0" stroke-width="1.3"/>
<line x1="324.8" y1="189.1" x2="326.6" y2="192.9" stroke-width="1.3"/>
<line x1="387.3" y1="202.1" x2="387.8" y2="205.2" stroke-width="1.1"/>
<line x1="296.7" y1="226.5" x2="297.0" y2="229.0" stroke-width="0.9"/>
<line x1="288.1" y1="201.8" x2="289.6" y2="197.8" stroke-width="0.9"/>
<line x1="216.9" y1="211.9" x2="218.0" y2="209.5" stroke-width="1.3"/>
<line x1="364.3" y1="165.7" x2="365.1" y2="163.8" stroke-width="0.9"/>
<line x1="352.4" y1="168.8" x2="355.6" y2="164.5" stroke-width="0.9"/>
<line x1="328.7" y1="195.2" x2="329.5" y2="192.4" stroke-width="0.9"/>
<line x1="254.8" y1="172.3" x2="257.9" y2="172.5" stroke-width="0.9"/>
<line x1="300.3" y1="238.3" x2="305.0" y2="239.6" stroke-width="1.1"/>
<line x1="302.1" y1="202.6" x2="302.2" y2="207.7" stroke-width="1.1"/>
<line x1="218.3" y1="173.7" x2="218.2" y2="177.8" stroke-width="1.1"/>
<line x1="380.1" y1="232.9" x2="382.4" y2="229.3" stroke-width="0.9"/>
<line x1="254.5" y1="239.5" x2="259.0" y2="239.4" stroke-width="1.3"/>
<line x1="283.2" y1="196.5" x2="285.8" y2="191.8" stroke-width="0.9"/>
<line x1="347.0" y1="160.3" x2="348.5" y2="163.4" stroke-width="0.9"/>
<line x1="390.1" y1="181.8" x2="394.1" y2="181.5" stroke-width="1.3"/>
<line x1="260.9" y1="242.7" x2="262.3" y2="240.0" stroke-width="1.3"/>
<line x1="216.2" y1="185.8" x2="216.3" y2="188.0" stroke-width="1.1"/>
<line x1="297.9" y1="237.0" x2="297.8" y2="240.7" stroke-width="1.1"/>
<line x1="208.8" y1="212.5" x2="210.2" y2="210.3" stroke-width="1.1"/>
<line x1="165.0" y1="193.5" x2="166.0" y2="191.5" stroke-width="1.1"/>
<line x1="283.1" y1="153.8" x2="287.6" y2="153.7" stroke-width="0.9"/>
<line x1="243.2" y1="163.5" x2="243.4" y2="165.0" stroke-width="1.1"/>
<line x1="345.4" y1="192.7" x2="346.2" y2="195.1" stroke-width="1.1"/>
<line x1="328.5" y1="187.8" x2="333.6" y2="188.8" stroke-width="1.1"/>
<line x1="338.9" y1="188.0" x2="340.1" y2="186.3" stroke-width="1.1"/>
<line x1="351.1" y1="228.1" x2="352.2" y2="229.7" stroke-width="1.1"/>
<line x1="260.1" y1="198.2" x2="263.4" y2="197.5" stroke-width="1.3"/>
<line x1="389.7" y1="237.6" x2="392.2" y2="236.9" stroke-width="1.3"/>
<line x1="228.3" y1="198.4" x2="230.9" y2="203.1" stroke-width="1.1"/>
<line x1="311.8" y1="214.6" x2="313.2" y2="212.3" stroke-width="0.9"/>
<line x1="323.7" y1="169.0" x2="325.7" y2="172.1" stroke-width="1.3"/>
<line x1="310.8" y1="178.0" x2="310.4" y2="183.2" stroke-width="1.1"/>
<line x1="353.6" y1="172.2" x2="356.3" y2="172.1" stroke-width="1.3"/>
<line x1="206.1" y1="169.9" x2="206.6" y2="171.4" stroke-width="1.3"/>
<line x1="165.2" y1="220.1" x2="167.9" y2="215.9" stroke-width="0.9"/>
<line x1="299.1" y1="235.2" x2="299.6" y2="238.4" stroke-width="0.9"/>
<line x1="283.0" y1="201.3" x2="282.8" y2="205.4" stroke-width="1.3"/>
<line x1="170.0" y1="150.3" x2="172.3" y2="150.6" stroke-width="0.9"/>
<line x1="186.4" y1="158.6" x2="190.9" y2="158.6" stroke-width="1.1"/>
<line x1="394.9" y1="186.1" x2="395.2" y2="188.5" stroke-width="0.9"/>
<line x1="351.4" y1="223.4" x2="352.4" y2="225.0" stroke-width="1.3"/>
<line x1="387.8" y1="230.5" x2="388.9" y2="226.6" stroke-width="1.1"/>
<line x1="292.8" y1="195.7" x2="295.6" y2="191.4" stroke-width="1.1"/>
<line x1="209.6" y1="188.6" x2="210.7" y2="191.4" stroke-width="0.9"/>
<line x1="369.3" y1="198.4" x2="371.8" y2="197.6" stroke-width="1.1"/>
<line x1="187.3" y1="232.9" x2="188.9" y2="236.2" stroke-width="1.1"/>
<line x1="157.1" y1="200.3" x2="158.5" y2="197.0" stroke-width="0.9"/>
<line x1="202.0" y1="186.8" x2="206.4" y2="186.7" stroke-width="1.1"/>
<line x1="175.0" y1="229.6" x2="179.0" y2="230.2" stroke-width="1.1"/>
<line x1="193.9" y1="238.1" x2="196.0" y2="241.9" stroke-width="1.3"/>
<line x1="305.3" y1="180.0" x2="310.3" y2="179.8" stroke-width="0.9"/>
<line x1="382.5" y1="169.1" x2="384.6" y2="168.9" stroke-width="1.1"/>
<line x1="316.2" y1="233.7" x2="318.8" y2="238.2" stroke-width="1.1"/>
<line x1="368.7" y1="196.0" x2="368.3" y2="200.6" stroke-width="0.9"/>
<line x1="353.9" y1="164.8" x2="355.2" y2="162.3" stroke-width="1.3"/>
<line x1="283.4" y1="188.2" x2="286.2" y2="192.4" stroke-width="1.1"/>
<line x1="281.9" y1="199.9" x2="282.2" y2="205.0" stroke-width="0.9"/>
<line x1="305.2" y1="234.8" x2="305.1" y2="237.3" stroke-width="1.3"/>
<line x1="385.2" y1="155.6" x2="387.5" y2="156.2" stroke-width="1.1"/>
<line x1="286.2" y1="165.5" x2="286.6" y2="169.0" stroke-width="1.1"/>
<line x1="340.6" y1="224.9" x2="340.3" y2="228.9" stroke-width="1.1"/>
<line x1="295.5" y1="214.9" x2="297.2" y2="215.3" stroke-width="0.9"/>
<line x1="299.4" y1="161.3" x2="302.0" y2="165.5" stroke-width="0.9"/>
<line x1="164.9" y1="243.7" x2="166.6" y2="248.5" stroke-width="1.3"/>
<line x1="154.1" y1="189.5" x2="155.2" y2="191.3" stroke-width="0.9"/>
<line x1="356.9" y1="163.5" x2="357.9" y2="162.1" stroke-width="1.1"/>
<line x1="356.9" y1="153.5" x2="358.6" y2="158.7" stroke-width="0.9"/>
<line x1="197.7" y1="162.4" x2="199.9" y2="162.2" stroke-width="1.1"/>
<line x1="196.3" y1="205.9" x2="201.6" y2="205.1" stroke-width="1.1"/>
<line x1="266.2" y1="190.8" x2="270.1" y2="190.6" stroke-width="1.3"/>
<line x1="385.2" y1="178.6" x2="385.5" y2="181.1" stroke-width="1.3"/>
<line x1="200.4" y1="241.2" x2="205.0" y2="242.0" stroke-width="1.1"/>
<line x1="201.7" y1="201.5" x2="203.7" y2="201.7" stroke-width="0.9"/>
<line x1="356.0" y1="169.1" x2="358.5" y2="172.9" stroke-width="1.1"/>
<line x1="292.3" y1="217.6" x2="294.9" y2="217.3" stroke-width="1.1"/>
<line x1="360.3" y1="192.3" x2="361.6" y2="188.5" stroke-width="1.1"/>
<line x1="395.7" y1="203.2" x2="397.5" y2="203.1" stroke-width="0.9"/>
<line x1="299.7" y1="178.2" x2="305.2" y2="178.2" stroke-width="0.9"/>
<line x1="178.8" y1="152.0" x2="182.9" y2="151.9" stroke-width="0.9"/>
<line x1="233.4" y1="182.5" x2="237.7" y2="181.2" stroke-width="1.1"/>
<line x1="280.5" y1="222.5" x2="283.2" y2="226.1" stroke-width="1.1"/>
<line x1="235.2" y1="236.2" x2="235.3" y2="240.5" stroke-width="1.1"/>
<line x1="269.5" y1="216.7" x2="271.2" y2="220.9" stroke-width="0.9"/>
<line x1="274.2" y1="162.2" x2="278.0" y2="161.7" stroke-width="1.3"/>
<line x1="343.5" y1="230.7" x2="344.5" y2="233.0" stroke-width="1.3"/>
<line x1="368.7" y1="241.5" x2="372.7" y2="241.8" stroke-width="1.3"/>
<line x1="379.1" y1="151.2" x2="383.7" y2="151.7" stroke-width="1.1"/>
<line x1="200.1" y1="166.0" x2="203.0" y2="170.1" stroke-width="1.1"/>
<line x1="192.5" y1="182.6" x2="193.9" y2="179.8" stroke-width="0.9"/>
<line x1="272.2" y1="162.3" x2="274.7" y2="166.9" stroke-width="0.9"/>
<line x1="367.7" y1="157.8" x2="367.9" y2="162.1" stroke-width="1.3"/>
<line x1="379.2" y1="220.1" x2="378.6" y2="224.9" stroke-width="1.3"/>
<line x1="375.4" y1="154.4" x2="377.4" y2="158.1" stroke-width="1.3"/>
<line x1="227.0" y1="156.9" x2="226.8" y2="160.8" stroke-width="1.3"/>
<line x1="213.2" y1="189.3" x2="215.0" y2="184.5" stroke-width="1.3"/>
<line x1="189.6" y1="223.0" x2="192.4" y2="223.0" stroke-width="0.9"/>
<line x1="257.3" y1="157.3" x2="259.4" y2="161.1" stroke-width="1.1"/>
<line x1="280.1" y1="173.4" x2="280.0" y2="177.5" stroke-width="0.9"/>
<line x1="378.0" y1="236.2" x2="377.9" y2="238.5" stroke-width="1.3"/>
<line x1="345.4" y1="172.6" x2="346.4" y2="174.0" stroke-width="1.3"/>
<line x1="301.9" y1="207.9" x2="302.6" y2="212.5" stroke-width="0.9"/>
<line x1="183.0" y1="188.6" x2="184.7" y2="188.7" stroke-width="0.9"/>
<line x1="258.7" y1="243.5" x2="258.9" y2="247.6" stroke-width="1.3"/>
<line x1="304.1" y1="227.6" x2="304.3" y2="230.8" stroke-width="0.9"/>
<line x1="167.0" y1="154.8" x2="168.6" y2="158.9" stroke-width="1.1"/>
<line x1="298.8" y1="150.7" x2="301.1" y2="147.8" stroke-width="1.3"/>
<line x1="230.3" y1="201.5" x2="232.0" y2="197.7" stroke-width="1.1"/>
<line x1="257.3" y1="225.5" x2="258.8" y2="223.0" stroke-width="0.9"/>
<line x1="189.9" y1="197.0" x2="190.9" y2="194.4" stroke-width="1.3"/>
<line x1="247.2" y1="204.1" x2="247.5" y2="208.1" stroke-width="1.1"/>
<line x1="203.9" y1="178.2" x2="203.9" y2="182.2" stroke-width="1.3"/>
<line x1="266.7" y1="210.5" x2="267.4" y2="215.1" stroke-width="1.1"/>
<line x1="290.8" y1="186.7" x2="290.6" y2="192.0" stroke-width="1.1"/>
<line x1="184.1" y1="221.7" x2="185.3" y2="220.0" stroke-width="1.3"/>
<line x1="210.5" y1="214.0" x2="211.2" y2="216.0" stroke-width="1.3"/>
<line x1="323.4" y1="202.5" x2="323.9" y2="206.9" stroke-width="1.1"/>
<line x1="200.9" y1="172.0" x2="201.8" y2="174.1" stroke-width="1.3"/>
<line x1="219.8" y1="221.2" x2="221.8" y2="221.0" stroke-width="0.9"/>
<line x1="293.9" y1="184.1" x2="295.9" y2="179.1" stroke-width="1.3"/>
<line x1="277.4" y1="162.6" x2="279.3" y2="158.8" stroke-width="1.1"/>
<line x1="372.1" y1="150.6" x2="373.3" y2="153.2" stroke-width="1.3"/>
<line x1="232.9" y1="228.8" x2="235.6" y2="228.8" stroke-width="0.9"/>
<line x1="269.0" y1="171.2" x2="272.2" y2="171.1" stroke-width="1.3"/>
<line x1="304.1" y1="156.8" x2="304.1" y2="158.5" stroke-width="0.9"/>
<line x1="365.4" y1="225.1" x2="369.5" y2="224.1" stroke-width="0.9"/>
<line x1="310.2" y1="209.3" x2="314.9" y2="209.6" stroke-width="1.3"/>
<line x1="286.7" y1="155.4" x2="286.8" y2="158.1" stroke-width="0.9"/>
<line x1="196.7" y1="203.9" x2="198.5" y2="198.8" stroke-width="1.1"/>
<line x1="279.2" y1="184.2" x2="281.3" y2="180.8" stroke-width="1.3"/>
<line x1="201.6" y1="196.8" x2="202.9" y2="193.8" stroke-width="0.9"/>
<line x1="208.9" y1="186.6" x2="209.0" y2="190.8" stroke-width="1.1"/>
<line x1="203.3" y1="181.8" x2="205.7" y2="182.3" stroke-width="1.3"/>
<line x1="380.8" y1="154.9" x2="380.7" y2="160.3" stroke-width="1.3"/>
<line x1="244.2" y1="182.4" x2="245.3" y2="180.6" stroke-width="1.3"/>
<line x1="308.4" y1="222.5" x2="311.9" y2="221.7" stroke-width="0.9"/>
<line x1="250.5" y1="198.4" x2="251.7" y2="194.6" stroke-width="0.9"/>
<line x1="350.3" y1="180.2" x2="351.2" y2="178.5" stroke-width="1.1"/>
<line x1="199.0" y1="157.7" x2="200.9" y2="158.2" stroke-width="1.3"/>
<line x1="215.7" y1="167.2" x2="218.7" y2="167.8" stroke-width="1.1"/>
<line x1="300.0" y1="161.0" x2="300.9" y2="162.6" stroke-width="1.1"/>
<line x1="342.5" y1="230.7" x2="347.9" y2="229.6" stroke-width="1.3"/>
<line x1="278.6" y1="232.5" x2="279.1" y2="234.1" stroke-width="1.3"/>
<line x1="226.2" y1="160.3" x2="227.6" y2="165.2" stroke-width="1.3"/>
<line x1="231.9" y1="208.2" x2="232.7" y2="210.0" stroke-width="0.9"/>
<line x1="290.9" y1="232.8" x2="291.9" y2="234.6" stroke-width="1.1"/>
<line x1="340.3" y1="234.5" x2="341.9" y2="232.3" stroke-width="0.9"/>
<line x1="335.2" y1="168.9" x2="338.0" y2="172.6" stroke-width="1.3"/>
<line x1="379.9" y1="222.1" x2="383.4" y2="221.8" stroke-width="0.9"/>
<line x1="267.9" y1="172.2" x2="268.0" y2="177.7" stroke-width="1.1"/>
<line x1="166.5" y1="226.7" x2="166.3" y2="228.4" stroke-width="1.3"/>
<line x1="236.3" y1="207.0" x2="240.0" y2="207.3" stroke-width="1.1"/>
<line x1="201.1" y1="227.0" x2="201.6" y2="230.5" stroke-width="0.9"/>
<line x1="382.7" y1="230.8" x2="386.1" y2="230.9" stroke-width="0.9"/>
<line x1="163.6" y1="195.9" x2="163.7" y2="200.9" stroke-width="1.1"/>
<line x1="207.6" y1="215.8" x2="209.8" y2="211.3" stroke-width="1.1"/>
<line x1="374.4" y1="242.3" x2="374.8" y2="245.2" stroke-width="1.1"/>
<line x1="321.1" y1="170.0" x2="321.6" y2="172.6" stroke-width="1.3"/>
<line x1="273.3" y1="172.4" x2="275.9" y2="168.8" stroke-width="0.9"/>
<line x1="202.3" y1="198.1" x2="202.4" y2="200.6" stroke-width="1.3"/>
<line x1="359.6" y1="217.3" x2="361.4" y2="212.5" stroke-width="0.9"/>
<line x1="193.2" y1="156.8" x2="192.5" y2="162.1" stroke-width="1.1"/>
<line x1="358.7" y1="198.8" x2="359.0" y2="201.2" stroke-width="1.3"/>
<line x1="373.1" y1="216.5" x2="376.1" y2="215.6" stroke-width="1.3"/>
<line x1="254.7" y1="202.1" x2="255.3" y2="206.4" stroke-width="0.9"/>
<line x1="345.5" y1="182.0" x2="350.9" y2="181.3" stroke-width="1.1"/>
<line x1="219.3" y1="218.1" x2="220.8" y2="213.8" stroke-width="0.9"/>
<line x1="196.6" y1="222.7" x2="198.6" y2="219.1" stroke-width="1.1"/>
<line x1="190.3" y1="230.4" x2="192.2" y2="227.9" stroke-width="1.3"/>
<line x1="224.3" y1="160.2" x2="225.4" y2="158.7" stroke-width="1.1"/>
<line x1="173.7" y1="172.3" x2="175.3" y2="176.4" stroke-width="1.3"/>
<line x1="347.4" y1="173.5" x2="347.2" y2="175.7" stroke-width="0.9"/>
<line x1="214.2" y1="192.5" x2="216.0" y2="187.3" stroke-width="1.3"/>
<line x1="364.5" y1="151.3" x2="364.3" y2="154.9" stroke-width="1.1"/>
<line x1="319.7" y1="172.0" x2="322.1" y2="168.4" stroke-width="1.3"/>
<line x1="296.2" y1="183.7" x2="297.1" y2="186.0" stroke-width="0.9"/>
<line x1="313.9" y1="174.2" x2="315.0" y2="175.7" stroke-width="1.3"/>
<line x1="346.4" y1="170.5" x2="347.0" y2="174.4" stroke-width="1.3"/>
<line x1="218.5" y1="175.3" x2="219.4" y2="177.1" stroke-width="1.3"/>
<line x1="245.0" y1="190.3" x2="245.6" y2="194.9" stroke-width="1.3"/>
<line x1="355.3" y1="169.1" x2="356.7" y2="166.1" stroke-width="1.3"/>
<line x1="237.9" y1="231.4" x2="242.2" y2="231.6" stroke-width="1.1"/>
<line x1="259.7" y1="175.4" x2="259.9" y2="179.2" stroke-width="1.3"/>
<line x1="242.2" y1="188.2" x2="243.6" y2="191.4" stroke-width="0.9"/>
<line x1="322.9" y1="231.4" x2="322.7" y2="233.0" stroke-width="0.9"/>
<line x1="302.3" y1="164.5" x2="303.1" y2="161.8" stroke-width="1.3"/>
<line x1="395.7" y1="226.7" x2="400.6" y2="226.1" stroke-width="1.1"/>
<line x1="282.5" y1="161.8" x2="286.7" y2="160.7" stroke-width="0.9"/>
<line x1="163.5" y1="202.9" x2="168.4" y2="203.9" stroke-width="1.1"/>
<line x1="188.3" y1="159.6" x2="188.1" y2="162.6" stroke-width="0.9"/>
<line x1="323.0" y1="234.8" x2="327.1" y2="235.8" stroke-width="1.3"/>
<line x1="358.9" y1="239.6" x2="361.6" y2="239.8" stroke-width="0.9"/>
<line x1="373.9" y1="198.2" x2="373.6" y2="203.6" stroke-width="1.1"/>
<line x1="392.3" y1="232.9" x2="392.1" y2="237.3" stroke-width="0.9"/>
<line x1="308.6" y1="227.0" x2="308.9" y2="229.5" stroke-width="0.9"/>
<line x1="354.2" y1="158.9" x2="354.5" y2="164.1" stroke-width="0.9"/>
<line x1="224.5" y1="191.5" x2="226.4" y2="191.5" stroke-width="0.9"/>
<line x1="174.8" y1="204.2" x2="174.5" y2="207.5" stroke-width="1.1"/>
<line x1="351.8" y1="206.1" x2="353.4" y2="210.4" stroke-width="0.9"/>
<line x1="271.6" y1="150.4" x2="272.3" y2="148.6" stroke-width="1.3"/>
<line x1="369.6" y1="211.8" x2="373.9" y2="211.3" stroke-width="0.9"/>
<line x1="218.4" y1="203.0" x2="221.5" y2="203.4" stroke-width="0.9"/>
<line x1="240.1" y1="233.3" x2="239.8" y2="237.6" stroke-width="1.1"/>
<line x1="192.5" y1="156.3" x2="192.9" y2="161.5" stroke-width="0.9"/>
<line x1="333.1" y1="208.8" x2="336.1" y2="204.4" stroke-width="0.9"/>
<line x1="210.6" y1="232.4" x2="211.6" y2="234.1" stroke-width="1.3"/>
<line x1="236.7" y1="158.0" x2="239.1" y2="158.5" stroke-width="0.9"/>
<line x1="270.8" y1="203.2" x2="271.8" y2="205.0" stroke-width="1.1"/>
<line x1="282.3" y1="170.4" x2="287.7" y2="170.4" stroke-width="0.9"/>
<line x1="289.8" y1="215.7" x2="291.5" y2="218.8" stroke-width="0.9"/>
<line x1="191.2" y1="222.3" x2="195.6" y2="222.3" stroke-width="1.3"/>
<line x1="253.3" y1="221.8" x2="257.0" y2="222.8" stroke-width="0.9"/>
<line x1="203.8" y1="197.2" x2="204.9" y2="195.6" stroke-width="1.3"/>
<line x1="374.4" y1="225.8" x2="376.1" y2="225.5" stroke-width="1.3"/>
<line x1="177.6" y1="172.8" x2="182.2" y2="173.5" stroke-width="0.9"/>
<line x1="375.9" y1="224.3" x2="378.0" y2="223.8" stroke-width="1.3"/>
<line x1="363.4" y1="220.0" x2="363.7" y2="225.1" stroke-width="0.9"/>
<line x1="250.7" y1="193.1" x2="252.4" y2="190.2" stroke-width="1.3"/>
<line x1="157.6" y1="175.2" x2="161.4" y2="174.6" stroke-width="1.3"/>
<line x1="262.1" y1="208.3" x2="262.6" y2="212.9" stroke-width="1.3"/>
<line x1="219.2" y1="192.3" x2="220.5" y2="190.6" stroke-width="1.3"/>
<line x1="384.1" y1="222.3" x2="386.2" y2="222.8" stroke-width="1.3"/>
<line x1="325.7" y1="242.6" x2="328.2" y2="238.6" stroke-width="1.1"/>
<line x1="290.2" y1="214.3" x2="293.1" y2="210.2" stroke-width="0.9"/>
<line x1="347.2" y1="193.0" x2="351.0" y2="192.0" stroke-width="1.3"/>
<line x1="169.3" y1="200.8" x2="170.1" y2="199.2" stroke-width="1.1"/>
<line x1="226.9" y1="150.9" x2="229.1" y2="146.4" stroke-width="1.3"/>
<line x1="242.9" y1="175.3" x2="243.5" y2="179.2" stroke-width="1.1"/>
<line x1="276.3" y1="168.4" x2="279.5" y2="172.7" stroke-width="1.3"/>
<line x1="166.7" y1="209.6" x2="168.8" y2="209.4" stroke-width="1.3"/>
<line x1="392.9" y1="166.8" x2="394.2" y2="170.1" stroke-width="1.3"/>
<line x1="307.1" y1="195.3" x2="307.3" y2="199.5" stroke-width="1.1"/>
<line x1="365.3" y1="200.0" x2="366.9" y2="203.1" stroke-width="1.3"/>
<line x1="379.2" y1="218.0" x2="380.9" y2="218.4" stroke-width="1.3"/>
<line x1="224.9" y1="180.7" x2="224.7" y2="182.5" stroke-width="1.1"/>
<line x1="162.4" y1="172.1" x2="163.1" y2="170.6" stroke-width="0.9"/>
<line x1="213.6" y1="201.2" x2="214.4" y2="198.8" stroke-width="0.9"/>
<line x1="292.9" y1="218.9" x2="298.3" y2="219.7" stroke-width="1.3"/>
<line x1="180.5" y1="166.2" x2="184.3" y2="166.9" stroke-width="0.9"/>
<line x1="391.6" y1="184.7" x2="394.2" y2="188.1" stroke-width="0.9"/>
<line x1="162.2" y1="197.0" x2="163.8" y2="201.5" stroke-width="0.9"/>
<line x1="344.2" y1="222.0" x2="345.6" y2="226.4" stroke-width="1.1"/>
<line x1="272.3" y1="200.4" x2="274.1" y2="203.1" stroke-width="1.3"/>
<line x1="369.7" y1="162.2" x2="369.6" y2="164.6" stroke-width="1.3"/>
<line x1="386.5" y1="197.1" x2="388.8" y2="200.4" stroke-width="0.9"/>
<line x1="237.1" y1="210.3" x2="237.6" y2="213.1" stroke-width="1.1"/>
<line x1="160.1" y1="233.7" x2="161.8" y2="233.5" stroke-width="1.1"/>
<line x1="347.2" y1="150.4" x2="349.6" y2="145.6" stroke-width="1.3"/>
<line x1="266.9" y1="237.2" x2="267.1" y2="240.5" stroke-width="0.9"/>
<line x1="390.1" y1="211.9" x2="393.3" y2="212.0" stroke-width="0.9"/>
<line x1="320.9" y1="206.8" x2="321.5" y2="211.0" stroke-width="1.1"/>
<line x1="329.4" y1="187.3" x2="332.2" y2="188.0" stroke-width="0.9"/>
<line x1="173.8" y1="224.0" x2="177.1" y2="228.3" stroke-width="0.9"/>
<line x1="262.3" y1="169.1" x2="262.4" y2="171.0" stroke-width="0.9"/>
<line x1="338.2" y1="188.1" x2="338.3" y2="192.9" stroke-width="0.9"/>
<line x1="246.7" y1="195.3" x2="246.6" y2="198.1" stroke-width="1.1"/>
<line x1="316.4" y1="211.9" x2="320.7" y2="212.1" stroke-width="1.1"/>
<line x1="190.4" y1="214.4" x2="190.7" y2="217.4" stroke-width="0.9"/>
<line x1="382.8" y1="167.8" x2="383.1" y2="169.9" stroke-width="1.3"/>
<line x1="334.9" y1="189.9" x2="336.7" y2="195.0" stroke-width="1.3"/>
<line x1="369.4" y1="235.4" x2="374.5" y2="236.1" stroke-width="1.1"/>
<line x1="277.8" y1="196.4" x2="278.4" y2="198.3" stroke-width="1.3"/>
<line x1="263.1" y1="218.0" x2="264.3" y2="214.9" stroke-width="1.1"/>
<line x1="333.5" y1="228.9" x2="336.5" y2="229.1" stroke-width="1.3"/>
<line x1="174.4" y1="188.6" x2="176.0" y2="192.0" stroke-width="1.1"/>
<line x1="362.4" y1="203.9" x2="363.3" y2="207.1" stroke-width="0.9"/>
<line x1="254.8" y1="193.3" x2="255.1" y2="197.0" stroke-width="1.1"/>
<line x1="351.5" y1="150.1" x2="352.5" y2="153.0" stroke-width="1.3"/>
<line x1="154.6" y1="172.0" x2="155.1" y2="173.5" stroke-width="0.9"/>
<line x1="152.9" y1="220.8" x2="158.1" y2="222.3" stroke-width="1.3"/>
<line x1="151.3" y1="167.1" x2="152.7" y2="162.4" stroke-width="0.9"/>
<line x1="164.3" y1="162.8" x2="165.5" y2="165.0" stroke-width="1.3"/>
<line x1="160.7" y1="228.7" x2="162.8" y2="224.5" stroke-width="1.3"/>
<line x1="202.5" y1="216.3" x2="202.9" y2="219.0" stroke-width="0.9"/>
<line x1="161.0" y1="243.9" x2="161.2" y2="247.8" stroke-width="1.3"/>
<line x1="301.1" y1="173.1" x2="301.9" y2="175.7" stroke-width="0.9"/>
<line x1="269.9" y1="198.5" x2="272.0" y2="203.0" stroke-width="1.3"/>
<line x1="155.2" y1="151.3" x2="156.1" y2="148.7" stroke-width="1.1"/>
<line x1="265.7" y1="211.5" x2="266.6" y2="214.4" stroke-width="0.9"/>
<line x1="220.0" y1="186.0" x2="220.0" y2="187.8" stroke-width="0.9"/>
<line x1="339.0" y1="153.7" x2="342.7" y2="153.8" stroke-width="1.3"/>
<line x1="389.1" y1="150.1" x2="392.4" y2="149.7" stroke-width="1.3"/>
<line x1="179.1" y1="214.1" x2="180.1" y2="217.5" stroke-width="1.1"/>
<line x1="231.7" y1="237.1" x2="232.9" y2="234.3" stroke-width="0.9"/>
<line x1="234.0" y1="177.1" x2="235.0" y2="175.0" stroke-width="1.1"/>
<line x1="373.3" y1="159.8" x2="377.0" y2="160.6" stroke-width="0.9"/>
<line x1="341.5" y1="228.2" x2="341.6" y2="230.9" stroke-width="0.9"/>
<line x1="374.6" y1="184.9" x2="378.4" y2="185.5" stroke-width="1.1"/>
<line x1="246.9" y1="226.0" x2="247.4" y2="229.7" stroke-width="1.3"/>
<line x1="251.3" y1="157.1" x2="251.5" y2="159.4" stroke-width="0.9"/>
<line x1="240.9" y1="191.6" x2="242.8" y2="191.8" stroke-width="1.1"/>
<line x1="178.2" y1="169.0" x2="179.0" y2="171.5" stroke-width="1.1"/>
<line x1="371.1" y1="217.1" x2="371.7" y2="218.8" stroke-width="0.9"/>
<line x1="381.2" y1="185.4" x2="380.9" y2="188.7" stroke-width="1.3"/>
<line x1="322.6" y1="233.1" x2="323.5" y2="231.4" stroke-width="1.3"/>
<line x1="352.9" y1="201.9" x2="352.7" y2="203.9" stroke-width="1.3"/>
<line x1="281.2" y1="177.7" x2="285.3" y2="178.7" stroke-width="1.1"/>
<line x1="275.7" y1="238.2" x2="279.0" y2="237.6" stroke-width="0.9"/>
<line x1="343.5" y1="181.1" x2="345.2" y2="176.9" stroke-width="0.9"/>
<line x1="350.9" y1="180.3" x2="352.8" y2="183.1" stroke-width="0.9"/>
<line x1="333.8" y1="201.3" x2="335.0" y2="198.2" stroke-width="1.3"/>
<line x1="215.6" y1="197.7" x2="218.5" y2="197.3" stroke-width="0.9"/>
<line x1="361.9" y1="175.1" x2="366.5" y2="174.1" stroke-width="1.3"/>
<line x1="225.8" y1="173.0" x2="228.1" y2="168.6" stroke-width="1.1"/>
<line x1="334.1" y1="181.3" x2="335.1" y2="183.1" stroke-width="1.3"/>
<line x1="274.2" y1="199.1" x2="275.0" y2="201.0" stroke-width="1.3"/>
<line x1="208.5" y1="156.7" x2="209.3" y2="158.2" stroke-width="0.9"/>
<line x1="176.6" y1="198.3" x2="177.7" y2="202.0" stroke-width="1.3"/>
<line x1="317.6" y1="183.7" x2="320.3" y2="184.3" stroke-width="1.3"/>
<line x1="315.3" y1="194.8" x2="320.0" y2="194.0" stroke-width="0.9"/>
<line x1="227.4" y1="235.6" x2="228.7" y2="232.3" stroke-width="0.9"/>
<line x1="344.8" y1="150.2" x2="346.8" y2="154.8" stroke-width="1.3"/>
<line x1="263.0" y1="191.4" x2="263.2" y2="195.5" stroke-width="0.9"/>
<line x1="275.2" y1="190.7" x2="276.7" y2="188.4" stroke-width="1.1"/>
<line x1="392.7" y1="233.7" x2="392.9" y2="238.3" stroke-width="1.3"/>
<line x1="319.0" y1="226.9" x2="318.8" y2="229.9" stroke-width="0.9"/>
<line x1="260.5" y1="241.9" x2="262.2" y2="245.4" stroke-width="1.1"/>
<line x1="199.6" y1="241.8" x2="204.0" y2="242.0" stroke-width="1.3"/>
<line x1="251.6" y1="173.5" x2="251.4" y2="178.3" stroke-width="0.9"/>
<line x1="222.0" y1="201.9" x2="221.7" y2="204.7" stroke-width="1.3"/>
<line x1="181.1" y1="160.5" x2="181.5" y2="163.7" stroke-width="1.1"/>
<line x1="195.1" y1="207.1" x2="199.4" y2="208.3" stroke-width="1.3"/>
<line x1="348.4" y1="165.4" x2="348.8" y2="170.0" stroke-width="1.3"/>
<line x1="198.6" y1="216.7" x2="199.1" y2="221.4" stroke-width="0.9"/>
<line x1="306.3" y1="168.1" x2="306.4" y2="170.7" stroke-width="1.1"/>
<line x1="341.9" y1="170.2" x2="343.0" y2="166.4" stroke-width="1.1"/>
<line x1="264.2" y1="157.9" x2="267.4" y2="153.6" stroke-width="1.1"/>
<line x1="380.7" y1="199.3" x2="384.4" y2="198.8" stroke-width="1.1"/>
<line x1="231.0" y1="163.6" x2="232.0" y2="162.3" stroke-width="1.1"/>
<line x1="293.0" y1="176.0" x2="298.4" y2="176.6" stroke-width="1.1"/>
<line x1="391.4" y1="152.9" x2="396.4" y2="154.3" stroke-width="1.1"/>
<line x1="156.6" y1="193.7" x2="157.9" y2="197.9" stroke-width="0.9"/>
<line x1="306.6" y1="242.8" x2="311.9" y2="244.0" stroke-width="1.1"/>
<line x1="345.6" y1="154.9" x2="346.7" y2="158.0" stroke-width="1.1"/>
<line x1="237.7" y1="182.8" x2="239.1" y2="179.4" stroke-width="1.3"/>
<line x1="156.9" y1="203.5" x2="158.4" y2="203.8" stroke-width="0.9"/>
<line x1="224.3" y1="152.0" x2="225.2" y2="150.3" stroke-width="0.9"/>
<line x1="175.8" y1="241.4" x2="175.2" y2="245.6" stroke-width="0.9"/>
<line x1="265.8" y1="229.4" x2="268.3" y2="230.0" stroke-width="0.9"/>
<line x1="297.2" y1="228.2" x2="298.7" y2="225.4" stroke-width="0.9"/>
<line x1="313.6" y1="187.5" x2="313.9" y2="189.5" stroke-width="0.9"/>
<line x1="190.0" y1="192.7" x2="192.0" y2="192.6" stroke-width="0.9"/>
<line x1="241.5" y1="216.2" x2="242.3" y2="220.8" stroke-width="1.1"/>
<line x1="197.5" y1="209.2" x2="199.1" y2="213.3" stroke-width="1.1"/>
<line x1="252.4" y1="163.7" x2="254.0" y2="167.0" stroke-width="0.9"/>
<line x1="389.5" y1="231.1" x2="392.6" y2="235.1" stroke-width="1.1"/>
<line x1="327.3" y1="151.6" x2="328.9" y2="146.4" stroke-width="1.1"/>
<line x1="177.5" y1="227.2" x2="178.8" y2="230.1" stroke-width="0.9"/>
<line x1="363.9" y1="188.7" x2="363.7" y2="191.6" stroke-width="1.3"/>
<line x1="237.9" y1="170.4" x2="238.5" y2="172.2" stroke-width="0.9"/>
<line x1="176.6" y1="243.6" x2="177.4" y2="245.0" stroke-width="0.9"/>
<line x1="315.8" y1="243.9" x2="315.7" y2="245.4" stroke-width="0.9"/>
<line x1="245.4" y1="185.3" x2="246.1" y2="183.1" stroke-width="1.1"/>
<line x1="287.0" y1="223.3" x2="288.5" y2="218.2" stroke-width="1.1"/>
<line x1="320.9" y1="172.6" x2="324.3" y2="171.6" stroke-width="0.9"/>
<line x1="293.2" y1="198.8" x2="297.6" y2="198.6" stroke-width="1.3"/>
<line x1="298.3" y1="168.6" x2="301.4" y2="164.1" stroke-width="1.1"/>
<line x1="357.5" y1="220.8" x2="357.6" y2="223.8" stroke-width="1.1"/>
<line x1="150.4" y1="160.8" x2="151.4" y2="159.2" stroke-width="1.1"/>
<line x1="183.4" y1="191.3" x2="185.1" y2="186.9" stroke-width="1.1"/>
<line x1="306.0" y1="182.7" x2="306.4" y2="185.1" stroke-width="1.1"/>
<line x1="187.8" y1="227.8" x2="188.9" y2="230.2" stroke-width="1.3"/>
<line x1="377.7" y1="160.9" x2="379.8" y2="160.4" stroke-width="0.9"/>
<line x1="221.0" y1="163.7" x2="222.3" y2="161.6" stroke-width="1.3"/>
<line x1="189.1" y1="170.0" x2="190.8" y2="167.8" stroke-width="0.9"/>
<line x1="193.9" y1="225.4" x2="197.5" y2="226.3" stroke-width="1.1"/>
<line x1="389.5" y1="234.2" x2="392.7" y2="230.0" stroke-width="0.9"/>
<line x1="392.2" y1="197.9" x2="392.1" y2="202.2" stroke-width="1.1"/>
<line x1="243.8" y1="208.4" x2="246.1" y2="205.4" stroke-width="1.1"/>
<line x1="388.7" y1="171.8" x2="389.0" y2="173.7" stroke-width="1.1"/>
<line x1="372.9" y1="224.5" x2="374.4" y2="220.9" stroke-width="0.9"/>
<line x1="390.2" y1="182.8" x2="390.0" y2="185.3" stroke-width="1.3"/>
<line x1="352.0" y1="171.8" x2="354.5" y2="171.2" stroke-width="0.9"/>
<line x1="387.6" y1="237.7" x2="388.3" y2="243.0" stroke-width="1.1"/>
<line x1="328.2" y1="182.8" x2="330.0" y2="179.1" stroke-width="0.9"/>
<line x1="186.9" y1="186.0" x2="189.1" y2="190.6" stroke-width="1.1"/>
<polyline points="158.0,168.0 174.4,198.1 186.9,180.3 203.1,210.9 215.8,191.2 231.9,230.8 244.6,198.0 260.6,237.2 273.5,200.3 289.4,236.1 302.4,197.6 318.1,226.8 331.2,190.8 346.9,208.8 360.1,180.8 375.6,194.4 389.0,165.0" fill="none" stroke="#fff" stroke-width="1.0" stroke-dasharray="5,2,2,2"/>
<polygon points="265.0,236.5 273.0,236.5 269,227.5" fill="#fff" stroke="none"/>
<polygon points="279.75,237 287.25,237 283.5,228" fill="#fff" stroke="none"/>
<polygon points="253.5,237 258.5,237 256,231" fill="#fff" stroke="none"/>
<polygon points="294.5,235.5 299.5,235.5 297,229.5" fill="#fff" stroke="none"/>
<polygon points="244.0,236 248.0,236 246,231" fill="#fff" stroke="none"/>
<polyline points="156.0,161.5 174.2,170.5 191.0,179.8 205.0,186.3 217.0,190.8 234.0,195.2 250.0,197.8 270.0,199.2 295.6,197.6 321.3,192.7 347.0,184.2 372.6,173.8 388.0,162.5" fill="none" stroke="#fff" stroke-width="1.6"/>
</g>
<polyline points="149.7,147.7 165.5,157.1 186,167.4 209.1,176.8 225,181.5" fill="none" stroke="#111" stroke-width="1.1" stroke-dasharray="5,2.5"/>
<ellipse cx="272.3" cy="83.3" rx="6" ry="2.4" fill="#fff" stroke="#111" stroke-width="1.5"/>
<line x1="276.7" y1="86.1" x2="339.1" y2="185.4" stroke="#111" stroke-width="1.5"/>
<line x1="278.6" y1="101.2" x2="302.2" y2="149.4" stroke="#111" stroke-width="1.4"/>
<line x1="312.6" y1="157" x2="331.5" y2="183.5" stroke="#111" stroke-width="1.1"/>
<line x1="269" y1="86" x2="265" y2="100" stroke="#111" stroke-width="1.3" stroke-dasharray="3,2"/>
<line x1="163.2" y1="121" x2="169" y2="126" stroke="#111" stroke-width="1.3"/>
<line x1="151.9" y1="134.3" x2="159.5" y2="140" stroke="#111" stroke-width="1.3"/>
<line x1="381.7" y1="120.1" x2="394" y2="132.4" stroke="#111" stroke-width="1.3"/>
<line x1="395.8" y1="139" x2="396.5" y2="145.6" stroke="#111" stroke-width="1.3"/>
<line x1="180" y1="112" x2="186" y2="109" stroke="#111" stroke-width="1.3"/>
<path d="M224.4,180.6 Q230,190 243.2,194.2" fill="none" stroke="#111" stroke-width="1.1"/>
<path d="M296.2,160 Q312,163 321.9,175.4" fill="none" stroke="#111" stroke-width="1.1"/>
<path d="M245,178 Q262,181 296,190" fill="none" stroke="#333" stroke-width="0.8" stroke-dasharray="2,2"/>
<rect x="264" y="181.5" width="18" height="6.5" rx="2" fill="#111"/>
<line x1="274" y1="186" x2="281" y2="194" stroke="#111" stroke-width="1.1"/>
<circle cx="259.5" cy="93.4" r="0.8" fill="#222"/>
<circle cx="264.6" cy="96.8" r="1.0" fill="#222"/>
<circle cx="268.9" cy="108.8" r="0.8" fill="#222"/>
<circle cx="265.5" cy="118.2" r="0.8" fill="#222"/>
<circle cx="264.6" cy="125.9" r="0.8" fill="#222"/>
<circle cx="242.4" cy="127.6" r="0.8" fill="#222"/>
<circle cx="222.7" cy="132.7" r="1.2" fill="#222"/>
<circle cx="203.9" cy="138.7" r="1.0" fill="#222"/>
<circle cx="192" cy="147.2" r="0.8" fill="#222"/>
<circle cx="185.1" cy="157.5" r="0.9" fill="#222"/>
<circle cx="214.2" cy="161.8" r="1.3" fill="#222"/>
<circle cx="231.3" cy="143" r="1.2" fill="#222"/>
<circle cx="253.5" cy="148.9" r="1.2" fill="#222"/>
<circle cx="255.2" cy="158.3" r="1.1" fill="#222"/>
<circle cx="245" cy="161.8" r="1.3" fill="#222"/>
<circle cx="235.6" cy="166" r="0.9" fill="#222"/>
<circle cx="227.9" cy="171.2" r="1.1" fill="#222"/>
<circle cx="281.7" cy="158.3" r="1.0" fill="#222"/>
<circle cx="269.7" cy="157.5" r="0.7" fill="#222"/>
<circle cx="295.4" cy="160" r="1.2" fill="#222"/>
<circle cx="312.5" cy="129.3" r="0.7" fill="#222"/>
<circle cx="332.1" cy="135.3" r="0.7" fill="#222"/>
<circle cx="348.4" cy="143" r="0.9" fill="#222"/>
<circle cx="358.6" cy="151.5" r="1.3" fill="#222"/>
<circle cx="362.9" cy="161.8" r="1.3" fill="#222"/>
<circle cx="352.6" cy="105.4" r="1.2" fill="#222"/>
<circle cx="374" cy="114.8" r="1.1" fill="#222"/>
<circle cx="325.3" cy="97.7" r="0.9" fill="#222"/>
<circle cx="296.2" cy="94.2" r="1.0" fill="#222"/>
<circle cx="233.8" cy="96" r="1.2" fill="#222"/>
<circle cx="204.8" cy="101.9" r="0.7" fill="#222"/>
<circle cx="378.3" cy="134.4" r="1.2" fill="#222"/>
<circle cx="218" cy="150" r="0.8" fill="#222"/>
<circle cx="300" cy="140" r="0.8" fill="#222"/>
<circle cx="340" cy="160" r="1.0" fill="#222"/>
<circle cx="200" cy="124" r="0.8" fill="#222"/>
<polygon points="101.9,175.1 122.7,171.5 123.6,176.7 143.0,165.5 121.0,161.4 121.9,166.6 101.1,170.1" fill="#111"/>
<polygon points="448.9,114.1 428.0,117.5 427.1,112.1 408.2,123.3 429.7,127.9 428.8,122.5 449.7,119.1" fill="#111"/>
<g fill="#111" stroke="#111" stroke-width="0.5" style="font-family:'Liberation Sans',Arial,sans-serif">
<text x="105.2" y="162.0" font-size="26.5" font-weight="bold" text-anchor="start" textLength="11.5" lengthAdjust="spacingAndGlyphs" >F</text>
<text x="446.5" y="106.6" font-size="27" font-weight="bold" text-anchor="start" textLength="11" lengthAdjust="spacingAndGlyphs" >F</text>
</g>
<polygon points="89.7,26.3 936.9,23.1 938.3,626.5 91.1,629.4" fill="none" stroke="#000" stroke-width="2.4" stroke-linejoin="miter"/>
<polygon points="469.5,406.5 916.6,404.6 916.9,597.6 469.7,599.6" fill="#fff" stroke="#111" stroke-width="2.8"/>
<line x1="469.5" y1="480.6" x2="916.6" y2="478.8" stroke="#111" stroke-width="2.6" />
<line x1="556.9" y1="406.1" x2="556.9" y2="599.2" stroke="#111" stroke-width="2.4" />
<line x1="759.1" y1="405.3" x2="759.1" y2="598.3" stroke="#111" stroke-width="2.4" />
<line x1="838.4" y1="404.9" x2="838.4" y2="598.0" stroke="#111" stroke-width="2.4" />
<line x1="655.9" y1="443.0" x2="655.9" y2="479.6" stroke="#111" stroke-width="1.6" stroke-dasharray="3,1.5"/>
<line x1="656.0" y1="479.6" x2="656.2" y2="598.8" stroke="#111" stroke-width="2.4" />
<g fill="#111" stroke="#111" stroke-width="1.0" style="font-family:'Liberation Sans',Arial,sans-serif">
<text x="511.6" y="427.0" font-size="19.5" font-weight="normal" text-anchor="middle" >F</text>
<text x="511.2" y="445.5" font-size="19.5" font-weight="normal" text-anchor="middle" textLength="21" lengthAdjust="spacingAndGlyphs" >(N)</text>
<text x="658.6" y="427.8" font-size="19.5" font-weight="normal" text-anchor="middle" textLength="151" lengthAdjust="spacingAndGlyphs" >Measurement (mm)</text>
<text x="602.2" y="456.6" font-size="19.5" font-weight="normal" text-anchor="middle" textLength="44.5" lengthAdjust="spacingAndGlyphs" >Mean</text>
<text x="602.4" y="474.8" font-size="19.5" font-weight="normal" text-anchor="middle" textLength="43" lengthAdjust="spacingAndGlyphs" >value</text>
<text x="708.2" y="456.8" font-size="19.5" font-weight="normal" text-anchor="middle" textLength="72" lengthAdjust="spacingAndGlyphs" >Standard</text>
<text x="707.8" y="474.8" font-size="19.5" font-weight="normal" text-anchor="middle" textLength="74" lengthAdjust="spacingAndGlyphs" >deviation</text>
<text x="798.0" y="429.0" font-size="19.5" font-weight="normal" text-anchor="middle" textLength="39.5" lengthAdjust="spacingAndGlyphs" >Calc.</text>
<text x="798.3" y="445.8" font-size="19.5" font-weight="normal" text-anchor="middle" textLength="47" lengthAdjust="spacingAndGlyphs" >target</text>
<text x="797.6" y="465.0" font-size="19.5" font-weight="normal" text-anchor="middle" textLength="43.5" lengthAdjust="spacingAndGlyphs" >value</text>
<text x="879.3" y="427.0" font-size="19.5" font-weight="normal" text-anchor="middle" textLength="38.5" lengthAdjust="spacingAndGlyphs" >Error</text>
<text x="879.3" y="445.0" font-size="19.5" font-weight="normal" text-anchor="middle" textLength="22" lengthAdjust="spacingAndGlyphs" >(%)</text>
<text x="515.4" y="504.8" font-size="18" font-weight="normal" text-anchor="middle" >0</text>
<text x="515.4" y="523.3" font-size="18" font-weight="normal" text-anchor="middle" textLength="68" lengthAdjust="spacingAndGlyphs" >1657.46</text>
<text x="515.4" y="541.6" font-size="18" font-weight="normal" text-anchor="middle" textLength="68" lengthAdjust="spacingAndGlyphs" >2209.46</text>
<text x="515.4" y="559.9" font-size="18" font-weight="normal" text-anchor="middle" textLength="68" lengthAdjust="spacingAndGlyphs" >2762.43</text>
<text x="515.4" y="578.2" font-size="18" font-weight="normal" text-anchor="middle" textLength="68" lengthAdjust="spacingAndGlyphs" >3314.92</text>
<text x="604.0" y="504.8" font-size="18" font-weight="normal" text-anchor="middle" textLength="26" lengthAdjust="spacingAndGlyphs" >0.0</text>
<text x="604.0" y="523.3" font-size="18" font-weight="normal" text-anchor="middle" textLength="48" lengthAdjust="spacingAndGlyphs" >0.305</text>
<text x="604.0" y="541.6" font-size="18" font-weight="normal" text-anchor="middle" textLength="48" lengthAdjust="spacingAndGlyphs" >0.414</text>
<text x="604.0" y="559.9" font-size="18" font-weight="normal" text-anchor="middle" textLength="48" lengthAdjust="spacingAndGlyphs" >0.519</text>
<text x="604.0" y="578.2" font-size="18" font-weight="normal" text-anchor="middle" textLength="48" lengthAdjust="spacingAndGlyphs" >0.626</text>
<text x="703.6" y="504.8" font-size="18" font-weight="normal" text-anchor="middle" textLength="26" lengthAdjust="spacingAndGlyphs" >0.0</text>
<text x="703.6" y="523.3" font-size="18" font-weight="normal" text-anchor="middle" textLength="48" lengthAdjust="spacingAndGlyphs" >0.012</text>
<text x="703.6" y="541.6" font-size="18" font-weight="normal" text-anchor="middle" textLength="48" lengthAdjust="spacingAndGlyphs" >0.007</text>
<text x="703.6" y="559.9" font-size="18" font-weight="normal" text-anchor="middle" textLength="48" lengthAdjust="spacingAndGlyphs" >0.008</text>
<text x="703.6" y="578.2" font-size="18" font-weight="normal" text-anchor="middle" textLength="48" lengthAdjust="spacingAndGlyphs" >0.005</text>
<text x="797.3" y="504.8" font-size="18" font-weight="normal" text-anchor="middle" textLength="26" lengthAdjust="spacingAndGlyphs" >0.0</text>
<text x="797.3" y="523.3" font-size="18" font-weight="normal" text-anchor="middle" textLength="48" lengthAdjust="spacingAndGlyphs" >0.315</text>
<text x="797.3" y="541.6" font-size="18" font-weight="normal" text-anchor="middle" textLength="48" lengthAdjust="spacingAndGlyphs" >0.419</text>
<text x="797.3" y="559.9" font-size="18" font-weight="normal" text-anchor="middle" textLength="48" lengthAdjust="spacingAndGlyphs" >0.514</text>
<text x="797.3" y="578.2" font-size="18" font-weight="normal" text-anchor="middle" textLength="48" lengthAdjust="spacingAndGlyphs" >0.629</text>
<text x="878.8" y="504.8" font-size="18" font-weight="normal" text-anchor="middle" >-</text>
<text x="878.8" y="523.3" font-size="18" font-weight="normal" text-anchor="middle" textLength="40" lengthAdjust="spacingAndGlyphs" >-3.17</text>
<text x="878.8" y="541.6" font-size="18" font-weight="normal" text-anchor="middle" textLength="40" lengthAdjust="spacingAndGlyphs" >-1.19</text>
<text x="878.8" y="559.9" font-size="18" font-weight="normal" text-anchor="middle" textLength="40" lengthAdjust="spacingAndGlyphs" >-0.95</text>
<text x="878.8" y="578.2" font-size="18" font-weight="normal" text-anchor="middle" textLength="40" lengthAdjust="spacingAndGlyphs" >-0.48</text>
</g>
<line x1="91" y1="629.4" x2="937.5" y2="65.8" stroke="#000" stroke-width="4.6" stroke-linecap="butt"/>
<circle cx="501.2" cy="367.2" r="4.8" fill="#fff" stroke="#000" stroke-width="2"/>
<circle cx="650.6" cy="266.0" r="4.8" fill="#fff" stroke="#000" stroke-width="2"/>
<circle cx="775.2" cy="180.7" r="4.8" fill="#fff" stroke="#000" stroke-width="2"/>
<circle cx="910.9" cy="82.4" r="4.8" fill="#fff" stroke="#000" stroke-width="2"/>
<line x1="595.6" y1="296.8" x2="604.0" y2="331.7" stroke="#111" stroke-width="1.4" />
<line x1="782.0" y1="185.6" x2="800.0" y2="200.8" stroke="#111" stroke-width="1.6" />
<g fill="#111" stroke="#111" stroke-width="0.35" style="font-family:'Liberation Sans',Arial,sans-serif">
<text x="608.5" y="343.7" font-size="23.5" font-weight="normal" text-anchor="start" textLength="104" lengthAdjust="spacingAndGlyphs" stroke-width="1.2">Calculation</text>
<text x="805.5" y="216.7" font-size="23" font-weight="normal" text-anchor="start" textLength="128" lengthAdjust="spacingAndGlyphs" stroke-width="1.2">Measurement</text>
<text x="75.6" y="43.5" font-size="24" font-weight="bold" text-anchor="end" textLength="31.5" lengthAdjust="spacingAndGlyphs" >0.7</text>
<text x="75.6" y="118.8" font-size="24" font-weight="bold" text-anchor="end" textLength="31.5" lengthAdjust="spacingAndGlyphs" >0.6</text>
<text x="75.4" y="209.5" font-size="24" font-weight="bold" text-anchor="end" textLength="32" lengthAdjust="spacingAndGlyphs" >0.5</text>
<text x="75.6" y="289.5" font-size="24" font-weight="bold" text-anchor="end" textLength="32.5" lengthAdjust="spacingAndGlyphs" >0.4</text>
<text x="76.2" y="375.6" font-size="24" font-weight="bold" text-anchor="end" textLength="32" lengthAdjust="spacingAndGlyphs" >0.3</text>
<text x="76.2" y="456.8" font-size="24" font-weight="bold" text-anchor="end" textLength="32" lengthAdjust="spacingAndGlyphs" >0.2</text>
<text x="77.0" y="542.2" font-size="24" font-weight="bold" text-anchor="end" textLength="29" lengthAdjust="spacingAndGlyphs" >0.1</text>
<text x="77.2" y="632.8" font-size="24" font-weight="bold" text-anchor="end" textLength="31.5" lengthAdjust="spacingAndGlyphs" >0.0</text>
<text x="95.3" y="666.0" font-size="23.5" font-weight="bold" text-anchor="middle" textLength="12.5" lengthAdjust="spacingAndGlyphs" >0</text>
<text x="184.2" y="665.5" font-size="23.5" font-weight="bold" text-anchor="middle" textLength="37.5" lengthAdjust="spacingAndGlyphs" >400</text>
<text x="289.2" y="665.1" font-size="23.5" font-weight="bold" text-anchor="middle" textLength="37.5" lengthAdjust="spacingAndGlyphs" >800</text>
<text x="388.5" y="664.8" font-size="23.5" font-weight="bold" text-anchor="middle" textLength="49" lengthAdjust="spacingAndGlyphs" >1200</text>
<text x="491.1" y="664.5" font-size="23.5" font-weight="bold" text-anchor="middle" textLength="49" lengthAdjust="spacingAndGlyphs" >1600</text>
<text x="586.4" y="664.1" font-size="23.5" font-weight="bold" text-anchor="middle" textLength="49" lengthAdjust="spacingAndGlyphs" >2000</text>
<text x="687.8" y="663.7" font-size="23.5" font-weight="bold" text-anchor="middle" textLength="49" lengthAdjust="spacingAndGlyphs" >2400</text>
<text x="789.0" y="663.3" font-size="23.5" font-weight="bold" text-anchor="middle" textLength="49" lengthAdjust="spacingAndGlyphs" >2800</text>
<text x="889.5" y="662.8" font-size="23.5" font-weight="bold" text-anchor="middle" textLength="49" lengthAdjust="spacingAndGlyphs" >3200</text>
<text x="893.3" y="690.5" font-size="21" font-weight="bold" text-anchor="middle" textLength="43" lengthAdjust="spacingAndGlyphs" >F (N)</text>
<text x="24.4" y="411.0" font-size="22.4" font-weight="bold" text-anchor="start" textLength="178" lengthAdjust="spacingAndGlyphs" transform="rotate(-90 24.4 411)">Displacement (mm)</text>
</g>
<path d="M1052.1,46.6 L1077.0,36.5 L1102.0,28.5 L1132.2,22.2 L1167.8,16.9 L1210.0,13.3 L1250.0,12.2 L1280.0,11.6 L1320.0,7.5 L1351.3,3.6 M1052.1,46.6 L1090.0,38.5 L1130.0,33.0 L1170.0,30.0 L1200.0,29.4 L1250.0,26.0 L1300.0,18.0 L1347.8,7.1 M1052.1,46.6 L1100.0,47.5 L1150.0,46.5 L1200.0,42.7 L1280.0,40.0 L1354.9,37.4 M1351.3,3.6 L1354.9,37.4 M1052.1,46.6 L1070.0,78.3 L1110.9,86.3 L1167.8,118.4 L1200.0,117.5 L1292.6,114.0 L1292.6,107.0 L1354.9,37.4 M1064.0,46.8 L1077.0,36.5 M1077.0,36.5 L1090.0,47.3 M1090.0,47.3 L1102.0,28.5 M1102.0,28.5 L1117.0,47.2 M1117.0,47.2 L1132.0,22.2 M1132.0,22.2 L1150.0,46.5 M1150.0,46.5 L1168.0,16.9 M1168.0,16.9 L1189.0,43.5 M1189.0,43.5 L1210.0,13.3 M1210.0,13.3 L1230.0,41.7 M1230.0,41.7 L1250.0,12.2 M1250.0,12.2 L1270.0,40.3 M1270.0,40.3 L1290.0,10.6 M1290.0,10.6 L1308.0,39.0 M1308.0,39.0 L1325.0,6.9 M1325.0,6.9 L1340.0,37.9 M1340.0,37.9 L1351.0,3.6 M1351.0,3.6 L1354.9,37.4 M1064.0,46.8 L1077.0,41.3 M1077.0,41.3 L1090.0,47.3 M1090.0,47.3 L1103.5,36.6 M1103.5,36.6 L1117.0,47.2 M1117.0,47.2 L1133.5,32.7 M1133.5,32.7 L1150.0,46.5 M1150.0,46.5 L1169.5,30.0 M1169.5,30.0 L1189.0,43.5 M1189.0,43.5 L1209.5,28.8 M1209.5,28.8 L1230.0,41.7 M1230.0,41.7 L1250.0,26.0 M1250.0,26.0 L1270.0,40.3 M1270.0,40.3 L1289.0,19.8 M1289.0,19.8 L1308.0,39.0 M1308.0,39.0 L1324.0,12.5 M1324.0,12.5 L1340.0,37.9 M1165.0,112.2 L1173.2,111.6 L1181.4,110.9 L1189.6,110.3 L1197.8,109.8 L1206.0,109.4 L1214.2,109.2 L1222.4,109.0 L1230.6,109.0 L1238.8,109.1 L1247.0,109.4 L1255.2,109.8 L1263.4,110.3 L1271.6,110.8 L1279.8,111.5 L1288.0,112.2 M1165.0,117.8 L1173.2,117.6 L1181.4,117.4 L1189.6,117.1 L1197.8,116.9 L1206.0,116.7 L1214.2,116.5 L1222.4,116.3 L1230.6,116.0 L1238.8,115.8 L1247.0,115.6 L1255.2,115.4 L1263.4,115.1 L1271.6,114.9 L1279.8,114.7 L1288.0,114.5 M1165.0,112.2 L1165.0,117.8 M1173.2,111.6 L1173.2,117.6 M1181.4,110.9 L1181.4,117.4 M1189.6,110.3 L1189.6,117.1 M1197.8,109.8 L1197.8,116.9 M1206.0,109.4 L1206.0,116.7 M1214.2,109.2 L1214.2,116.5 M1222.4,109.0 L1222.4,116.3 M1230.6,109.0 L1230.6,116.0 M1238.8,109.1 L1238.8,115.8 M1247.0,109.4 L1247.0,115.6 M1255.2,109.8 L1255.2,115.4 M1263.4,110.3 L1263.4,115.1 M1271.6,110.8 L1271.6,114.9 M1279.8,111.5 L1279.8,114.7 M1288.0,112.2 L1288.0,114.5 M1165.0,112.2 L1173.2,117.6 M1173.2,111.6 L1181.4,117.4 M1181.4,110.9 L1189.6,117.1 M1189.6,110.3 L1197.8,116.9 M1197.8,109.8 L1206.0,116.7 M1206.0,109.4 L1214.2,116.5 M1214.2,109.2 L1222.4,116.3 M1222.4,109.0 L1230.6,116.0 M1230.6,109.0 L1238.8,115.8 M1238.8,109.1 L1247.0,115.6 M1247.0,109.4 L1255.2,115.4 M1255.2,109.8 L1263.4,115.1 M1263.4,110.3 L1271.6,114.9 M1271.6,110.8 L1279.8,114.7 M1279.8,111.5 L1288.0,114.5 M1072.0,78.7 L1094.0,83.0 L1116.0,86.5 L1138.0,87.2 L1160.0,88.0 L1182.0,86.5 L1204.0,85.1 L1226.0,83.4 L1248.0,81.2 L1270.0,79.0 L1292.0,74.2 L1314.0,67.1 L1336.0,58.4 M1060.0,46.7 L1072.0,78.7 M1075.5,47.0 L1072.0,78.7 M1075.5,47.0 L1094.0,83.0 M1091.0,47.3 L1072.0,78.7 M1091.0,47.3 L1094.0,83.0 M1091.0,47.3 L1116.0,86.5 M1091.0,47.3 L1165.0,112.2 M1106.5,47.4 L1094.0,83.0 M1106.5,47.4 L1116.0,86.5 M1106.5,47.4 L1165.0,112.2 M1106.5,47.4 L1173.2,111.6 M1122.0,47.1 L1094.0,83.0 M1122.0,47.1 L1116.0,86.5 M1122.0,47.1 L1138.0,87.2 M1122.0,47.1 L1165.0,112.2 M1122.0,47.1 L1173.2,111.6 M1122.0,47.1 L1181.4,110.9 M1137.5,46.8 L1116.0,86.5 M1137.5,46.8 L1138.0,87.2 M1137.5,46.8 L1160.0,88.0 M1137.5,46.8 L1165.0,112.2 M1137.5,46.8 L1173.2,111.6 M1137.5,46.8 L1181.4,110.9 M1137.5,46.8 L1189.6,110.3 M1153.0,46.3 L1138.0,87.2 M1153.0,46.3 L1160.0,88.0 M1153.0,46.3 L1182.0,86.5 M1153.0,46.3 L1173.2,111.6 M1153.0,46.3 L1181.4,110.9 M1153.0,46.3 L1189.6,110.3 M1153.0,46.3 L1197.8,109.8 M1168.5,45.1 L1160.0,88.0 M1168.5,45.1 L1182.0,86.5 M1168.5,45.1 L1181.4,110.9 M1168.5,45.1 L1189.6,110.3 M1168.5,45.1 L1197.8,109.8 M1168.5,45.1 L1206.0,109.4 M1184.0,43.9 L1160.0,88.0 M1184.0,43.9 L1182.0,86.5 M1184.0,43.9 L1204.0,85.1 M1184.0,43.9 L1189.6,110.3 M1184.0,43.9 L1197.8,109.8 M1184.0,43.9 L1206.0,109.4 M1184.0,43.9 L1214.2,109.2 M1199.5,42.7 L1182.0,86.5 M1199.5,42.7 L1204.0,85.1 M1199.5,42.7 L1226.0,83.4 M1199.5,42.7 L1197.8,109.8 M1199.5,42.7 L1206.0,109.4 M1199.5,42.7 L1214.2,109.2 M1199.5,42.7 L1222.4,109.0 M1215.0,42.2 L1204.0,85.1 M1215.0,42.2 L1226.0,83.4 M1215.0,42.2 L1206.0,109.4 M1215.0,42.2 L1214.2,109.2 M1215.0,42.2 L1222.4,109.0 M1215.0,42.2 L1230.6,109.0 M1230.5,41.7 L1204.0,85.1 M1230.5,41.7 L1226.0,83.4 M1230.5,41.7 L1248.0,81.2 M1230.5,41.7 L1222.4,109.0 M1230.5,41.7 L1230.6,109.0 M1230.5,41.7 L1238.8,109.1 M1246.0,41.1 L1226.0,83.4 M1246.0,41.1 L1248.0,81.2 M1246.0,41.1 L1270.0,79.0 M1246.0,41.1 L1230.6,109.0 M1246.0,41.1 L1238.8,109.1 M1246.0,41.1 L1247.0,109.4 M1261.5,40.6 L1248.0,81.2 M1261.5,40.6 L1270.0,79.0 M1261.5,40.6 L1238.8,109.1 M1261.5,40.6 L1247.0,109.4 M1261.5,40.6 L1255.2,109.8 M1277.0,40.1 L1248.0,81.2 M1277.0,40.1 L1270.0,79.0 M1277.0,40.1 L1292.0,74.2 M1277.0,40.1 L1247.0,109.4 M1277.0,40.1 L1255.2,109.8 M1277.0,40.1 L1263.4,110.3 M1292.5,39.6 L1270.0,79.0 M1292.5,39.6 L1292.0,74.2 M1292.5,39.6 L1314.0,67.1 M1292.5,39.6 L1255.2,109.8 M1292.5,39.6 L1263.4,110.3 M1292.5,39.6 L1271.6,110.8 M1308.0,39.0 L1292.0,74.2 M1308.0,39.0 L1314.0,67.1 M1308.0,39.0 L1336.0,58.4 M1308.0,39.0 L1263.4,110.3 M1308.0,39.0 L1271.6,110.8 M1308.0,39.0 L1279.8,111.5 M1323.5,38.5 L1314.0,67.1 M1323.5,38.5 L1336.0,58.4 M1323.5,38.5 L1271.6,110.8 M1323.5,38.5 L1279.8,111.5 M1323.5,38.5 L1288.0,112.2 M1339.0,38.0 L1314.0,67.1 M1339.0,38.0 L1336.0,58.4 M1339.0,38.0 L1279.8,111.5 M1339.0,38.0 L1288.0,112.2 M1354.5,37.4 L1336.0,58.4 M1354.5,37.4 L1288.0,112.2 M1072.0,78.7 L1165.0,112.2 M1094.0,83.0 L1165.0,112.2 M1094.0,83.0 L1173.2,111.6 M1116.0,86.5 L1165.0,112.2 M1116.0,86.5 L1173.2,111.6 M1116.0,86.5 L1181.4,110.9 M1138.0,87.2 L1165.0,112.2 M1138.0,87.2 L1173.2,111.6 M1138.0,87.2 L1181.4,110.9 M1138.0,87.2 L1189.6,110.3 M1138.0,87.2 L1197.8,109.8 M1160.0,88.0 L1181.4,110.9 M1160.0,88.0 L1189.6,110.3 M1160.0,88.0 L1197.8,109.8 M1160.0,88.0 L1206.0,109.4 M1182.0,86.5 L1189.6,110.3 M1182.0,86.5 L1197.8,109.8 M1182.0,86.5 L1206.0,109.4 M1182.0,86.5 L1214.2,109.2 M1204.0,85.1 L1197.8,109.8 M1204.0,85.1 L1206.0,109.4 M1204.0,85.1 L1214.2,109.2 M1204.0,85.1 L1222.4,109.0 M1204.0,85.1 L1230.6,109.0 M1226.0,83.4 L1214.2,109.2 M1226.0,83.4 L1222.4,109.0 M1226.0,83.4 L1230.6,109.0 M1226.0,83.4 L1238.8,109.1 M1248.0,81.2 L1222.4,109.0 M1248.0,81.2 L1230.6,109.0 M1248.0,81.2 L1238.8,109.1 M1248.0,81.2 L1247.0,109.4 M1270.0,79.0 L1230.6,109.0 M1270.0,79.0 L1238.8,109.1 M1270.0,79.0 L1247.0,109.4 M1270.0,79.0 L1255.2,109.8 M1270.0,79.0 L1263.4,110.3 M1292.0,74.2 L1247.0,109.4 M1292.0,74.2 L1255.2,109.8 M1292.0,74.2 L1263.4,110.3 M1292.0,74.2 L1271.6,110.8 M1314.0,67.1 L1255.2,109.8 M1314.0,67.1 L1263.4,110.3 M1314.0,67.1 L1271.6,110.8 M1314.0,67.1 L1279.8,111.5 M1336.0,58.4 L1263.4,110.3 M1336.0,58.4 L1271.6,110.8 M1336.0,58.4 L1279.8,111.5 M1336.0,58.4 L1288.0,112.2 M1218.7,65.0 L1246.4,101.1 M1260.2,62.3 L1269.9,97.3 M1134.6,54.0 L1165.0,100.3 M1215.3,52.3 L1236.1,114.8 M1198.3,70.0 L1172.0,112.1 M1278.8,47.9 L1291.1,106.7 M1292.4,49.5 L1292.0,113.5 M1238.6,52.0 L1213.5,114.7 M1210.6,69.9 L1189.1,112.1 M1268.3,67.9 L1239.3,102.8 M1138.8,63.6 L1165.0,115.1 M1193.7,64.1 L1215.8,100.0 M1224.7,68.9 L1226.3,102.6 M1175.4,64.4 L1165.0,107.7 M1224.4,58.4 L1202.2,108.8 M1285.8,52.3 L1275.7,114.1 M1228.3,51.1 L1198.9,110.8 M1189.2,56.1 L1175.5,108.3 M1253.9,52.1 L1228.4,115.7 M1284.7,44.5 L1288.6,109.4 M1198.5,63.0 L1226.1,107.4 M1196.6,49.1 L1181.7,98.2 M1148.8,49.5 L1169.3,106.3 M1266.8,67.9 L1285.5,96.0 M1287.4,46.4 L1292.0,112.6 M1241.8,54.5 L1216.3,96.8 M1238.2,50.3 L1240.1,100.6 M1157.8,51.7 L1171.3,105.2 M1196.8,56.6 L1200.0,105.8 M1205.7,69.2 L1220.8,99.8 M1184.1,48.9 L1175.9,95.6 M1256.6,58.8 L1251.9,113.8 M1185.9,59.0 L1211.7,106.7 M1234.2,53.6 L1264.1,110.9 M1181.6,53.2 L1187.1,105.9 M1219.0,49.0 L1223.5,109.8 M1260.0,55.7 L1256.8,105.6 M1221.2,56.3 L1191.9,100.5 M1297.9,65.5 L1292.0,110.8 M1165.9,50.9 L1167.0,109.7 M1134.7,56.3 L1165.0,107.9 M1298.8,46.6 L1292.0,112.6 M1134.4,58.0 L1165.0,99.7 M1240.4,66.1 L1258.0,104.0 M1139.9,58.0 L1165.0,106.3 M1175.8,53.0 L1178.4,112.2 M1295.8,54.5 L1266.3,110.8 M1187.7,63.7 L1207.5,95.7 M1254.2,51.4 L1243.5,102.0 M1221.5,50.3 L1221.2,100.9 M1151.2,50.5 L1165.0,101.5 M1164.1,53.5 L1165.0,115.7 M1263.8,47.9 L1251.5,104.2 M1219.8,54.1 L1221.2,111.0 M1156.2,58.5 L1165.0,106.2 M1183.9,64.9 L1206.8,115.1 M1199.2,60.0 L1179.3,109.9 M1262.3,55.1 L1251.6,110.9 M1257.6,64.8 L1244.9,100.1 M1172.6,49.0 L1165.0,97.6 M1213.8,55.2 L1237.1,102.9 M1159.0,68.2 L1165.0,102.1 M1259.8,52.4 L1287.7,110.6 M1182.4,66.4 L1207.7,105.8 M1154.4,46.7 L1173.5,113.6 M1241.2,64.1 L1258.8,100.0 M1166.2,66.6 L1186.6,104.2 M1175.9,46.0 L1170.2,114.1 M1164.6,52.2 L1165.0,106.9 M1140.2,61.5 L1165.0,103.9 M1174.1,51.9 L1197.7,114.8 M1257.8,49.5 L1240.3,102.6 M1278.9,68.5 L1262.7,108.3 M1194.6,55.8 L1176.4,110.2 M1263.0,68.4 L1262.0,104.3 M1239.9,47.4 L1262.6,111.1 M1168.7,54.4 L1167.9,112.9 M1247.8,50.2 L1274.8,114.5 M1275.8,56.8 L1274.2,103.5 M1296.2,56.5 L1292.0,98.9 M1135.2,56.3 L1165.0,100.4 M1136.1,47.2 L1165.0,96.8 M1180.4,59.9 L1166.0,101.5 M1194.3,50.8 L1198.1,111.3 M1135.3,57.9 L1165.0,114.3 M1249.7,51.1 L1256.7,113.9 M1291.7,64.0 L1268.2,102.8 M1211.4,52.6 L1226.9,105.4 M1296.4,44.2 L1292.0,97.4 M1218.2,47.9 L1211.1,107.8 M1060.0,47.7 L1100.0,86.0 M1069.0,47.9 L1109.0,88.5 M1078.0,48.1 L1118.0,91.0 M1087.0,48.3 L1127.0,93.5 M1096.0,48.4 L1136.0,96.0 M1105.0,48.4 L1145.0,98.5 M1114.0,48.2 L1154.0,101.0 M1123.0,48.0 L1163.0,103.5 M1132.0,47.9 L1172.0,106.0 M1141.0,47.7 L1181.0,108.5" fill="none" stroke="#151515" stroke-width="1.0" stroke-linejoin="round"/>
<clipPath id="sideclip"><polygon points="1052.1,46.6 1100.0,47.5 1150.0,46.5 1200.0,42.7 1280.0,40.0 1354.9,37.4 1292.6,107.0 1292.6,114.0 1200.0,117.5 1167.8,118.4 1110.9,86.3 1070.0,78.3"/></clipPath>
<path clip-path="url(#sideclip)" d="M1268.0,46.3 L1276.3,69.7 M1215.9,80.5 L1219.7,90.5 M1138.2,85.9 L1160.5,88.1 M1192.3,86.5 L1218.4,79.1 M1263.8,44.1 L1265.1,76.3 M1223.3,89.3 L1248.6,94.0 M1254.1,92.6 L1249.5,111.0 M1132.8,104.9 L1160.2,96.1 M1231.1,84.2 L1230.5,98.0 M1193.1,69.5 L1190.2,79.7 M1173.0,84.7 L1171.2,93.9 M1258.4,71.7 L1286.9,79.6 M1195.1,48.4 L1202.9,69.0 M1228.1,93.4 L1250.8,98.0 M1234.2,89.0 L1224.5,94.9 M1253.5,83.1 L1264.6,88.9 M1186.3,92.0 L1208.9,99.3 M1257.9,75.8 L1283.0,84.2 M1252.3,82.9 L1264.9,90.5 M1222.0,76.1 L1249.5,76.2 M1262.7,70.6 L1279.0,76.1 M1191.4,61.2 L1190.6,85.2 M1203.1,100.5 L1219.4,104.2 M1215.3,85.4 L1219.0,97.2 M1226.1,103.8 L1254.9,96.7 M1164.1,86.9 L1164.7,106.8 M1245.7,82.4 L1250.9,105.4 M1256.8,94.7 L1265.6,120.7 M1153.0,109.8 L1163.2,111.0 M1232.0,85.4 L1211.8,90.6 M1212.3,74.6 L1234.0,84.4 M1255.8,75.7 L1233.9,93.2 M1221.5,78.2 L1233.6,90.1 M1152.4,80.8 L1167.1,78.5 M1206.4,91.4 L1207.8,108.1 M1174.9,88.9 L1171.5,106.0 M1176.0,82.8 L1185.7,80.9 M1207.6,42.5 L1200.9,70.9 M1237.7,98.2 L1240.4,113.4 M1252.5,100.2 L1278.8,100.7 M1222.4,90.7 L1251.4,89.6 M1213.6,93.4 L1236.0,90.2 M1178.2,35.6 L1168.2,67.5 M1261.9,65.9 L1261.9,89.0 M1224.3,66.1 L1225.6,90.9 M1177.6,107.0 L1198.7,102.6 M1185.1,95.9 L1185.0,122.5 M1239.3,57.5 L1223.9,72.4 M1204.9,78.1 L1210.2,106.9 M1168.3,78.4 L1171.6,111.8 M1238.0,104.0 L1259.4,99.4 M1249.7,64.3 L1279.9,72.9 M1226.8,70.7 L1225.8,97.0 M1185.8,77.5 L1172.9,79.4 M1197.6,76.0 L1204.2,103.5 M1218.9,104.1 L1243.1,101.9 M1158.4,51.6 L1169.5,63.8 M1229.0,84.9 L1259.0,89.6 M1152.7,83.9 L1159.0,93.4 M1202.5,83.2 L1225.1,78.7 M1217.6,107.5 L1235.2,105.4 M1161.5,72.8 L1185.5,64.7 M1264.4,75.4 L1260.7,106.6 M1276.0,75.1 L1276.4,87.6 M1262.5,96.1 L1269.0,116.1 M1141.0,82.8 L1138.2,90.8 M1099.3,108.5 L1127.6,100.2 M1252.3,108.1 L1222.5,112.9 M1197.0,60.5 L1210.1,62.2 M1256.3,74.3 L1254.0,100.7 M1178.0,54.9 L1180.2,80.8 M1144.8,83.0 L1155.9,83.9 M1152.8,91.6 L1123.7,99.5 M1239.2,53.8 L1242.4,85.5 M1125.0,80.5 L1131.4,106.3 M1201.7,96.2 L1225.4,104.1 M1196.1,71.2 L1210.9,71.2 M1143.7,85.2 L1147.8,95.3 M1254.3,88.6 L1269.8,84.0 M1179.3,99.6 L1212.4,106.1 M1192.3,97.6 L1205.1,102.9 M1208.7,60.1 L1217.8,74.2 M1234.3,64.4 L1224.9,96.9 M1188.8,95.9 L1208.2,100.7 M1275.2,79.5 L1293.5,100.9 M1184.6,68.8 L1189.5,90.3 M1240.5,50.0 L1246.2,77.4 M1200.9,65.1 L1199.8,84.0 M1214.4,80.3 L1240.3,79.6 M1223.6,103.3 L1237.1,101.3 M1202.0,91.1 L1213.8,98.1 M1186.8,87.9 L1192.2,117.1 M1207.0,89.7 L1188.1,105.9 M1261.3,90.0 L1260.0,115.2 M1176.6,93.7 L1194.8,100.2 M1119.8,79.7 L1129.2,76.4 M1206.8,73.3 L1207.5,82.6 M1273.2,62.5 L1287.8,65.4 M1200.0,91.4 L1174.8,93.3 M1190.3,102.9 L1185.9,117.7 M1259.6,88.4 L1279.1,87.9 M1218.4,88.3 L1241.7,89.3 M1209.9,74.9 L1218.3,73.8 M1216.4,54.2 L1247.9,63.9 M1192.0,91.4 L1174.0,97.7 M1242.4,102.5 L1265.2,97.6 M1202.0,104.3 L1174.6,105.3 M1267.7,70.9 L1263.4,104.3 M1202.0,32.9 L1199.4,66.5 M1153.4,71.9 L1173.8,75.7 M1221.1,85.2 L1222.3,100.9 M1228.6,39.4 L1230.8,58.2 M1246.2,100.7 L1252.6,119.2 M1180.5,58.1 L1190.0,89.6 M1266.8,50.2 L1252.7,56.6 M1237.7,58.6 L1235.3,68.4 M1247.6,56.7 L1255.6,85.1 M1204.9,81.0 L1200.0,103.8 M1227.8,81.9 L1258.3,75.7 M1134.1,94.1 L1163.2,99.1 M1156.2,91.9 L1161.3,119.1 M1121.6,105.9 L1137.8,105.0 M1211.1,91.5 L1206.4,115.7 M1178.0,103.2 L1178.7,117.5 M1176.8,89.1 L1190.3,85.0 M1253.8,79.8 L1250.6,98.8 M1224.3,95.2 L1210.6,98.9 M1210.0,107.4 L1188.4,116.4 M1162.8,80.5 L1175.6,83.2 M1237.7,94.1 L1254.4,103.9 M1187.5,81.6 L1190.3,95.8 M1158.3,109.2 L1160.4,122.5 M1211.8,55.7 L1184.0,56.6 M1242.7,107.4 L1273.4,111.6 M1237.9,85.6 L1240.7,103.7 M1165.9,84.8 L1168.1,97.1 M1196.9,66.9 L1208.5,95.9 M1182.8,88.2 L1183.0,98.6 M1199.5,57.1 L1194.2,84.4 M1252.2,85.5 L1280.5,78.1 M1273.3,99.4 L1271.9,111.4 M1184.1,93.4 L1196.5,104.7 M1225.3,80.6 L1227.2,97.0 M1230.9,80.1 L1227.6,95.6 M1182.6,84.9 L1175.4,100.0 M1150.7,61.8 L1148.1,75.1 M1173.1,72.5 L1191.4,82.2 M1129.0,88.3 L1123.1,96.1 M1220.5,61.6 L1215.6,87.2 M1159.0,83.8 L1128.8,88.4 M1207.2,92.0 L1226.6,98.9 M1284.5,80.8 L1292.1,103.8 M1213.1,82.5 L1223.4,84.3 M1190.0,89.1 L1195.4,115.5 M1140.1,93.5 L1143.2,103.2 M1218.9,94.5 L1193.8,116.9 M1184.3,83.7 L1186.2,99.0 M1200.7,62.6 L1201.1,71.8 M1201.4,89.3 L1207.3,122.5 M1231.7,77.2 L1228.2,105.9 M1190.9,108.7 L1218.9,124.5 M1253.6,59.6 L1250.9,86.6 M1146.8,84.3 L1167.1,106.3 M1242.4,52.4 L1238.2,81.3 M1222.4,112.6 L1248.2,117.9 M1240.2,61.9 L1243.7,88.8 M1206.7,92.7 L1226.6,88.9 M1238.5,69.5 L1233.6,88.5 M1238.2,47.1 L1228.8,59.3 M1249.2,86.1 L1243.6,104.5 M1206.3,88.4 L1215.1,87.3 M1248.5,57.2 L1253.1,65.2 M1283.3,80.4 L1279.1,98.6 M1209.3,58.2 L1192.4,71.8 M1233.0,70.8 L1240.5,95.7 M1267.2,72.4 L1267.1,94.9 M1202.9,87.9 L1210.4,92.6 M1193.5,98.9 L1171.3,122.7 M1132.6,61.3 L1141.3,89.6 M1186.9,73.9 L1183.0,89.9 M1196.3,66.0 L1202.1,89.5 M1187.6,72.9 L1206.8,96.6 M1250.6,84.0 L1232.9,109.8 M1129.9,99.9 L1136.7,121.5 M1163.1,110.7 L1169.9,116.8 M1238.4,49.9 L1261.2,72.4 M1244.5,58.7 L1226.6,61.9 M1250.2,61.8 L1240.2,81.3 M1193.3,75.1 L1203.2,103.9 M1182.0,87.4 L1191.1,84.7 M1184.9,98.0 L1197.9,102.5 M1201.6,66.4 L1192.2,66.6 M1157.0,94.3 L1167.7,124.1 M1161.2,73.9 L1153.2,90.6 M1192.1,68.4 L1197.4,82.3 M1149.2,80.1 L1151.6,98.7 M1257.8,87.9 L1250.3,113.7 M1254.9,66.2 L1255.0,88.3 M1210.8,75.1 L1234.8,70.0 M1219.9,74.6 L1243.2,82.3 M1163.3,84.8 L1162.2,95.5 M1216.6,65.6 L1216.6,74.2 M1149.7,60.7 L1156.6,82.0 M1220.3,62.7 L1219.1,89.3 M1208.9,83.7 L1213.4,107.5 M1224.3,86.1 L1222.4,101.9 M1196.4,93.7 L1201.4,109.8 M1213.8,74.4 L1217.2,105.9 M1228.9,88.7 L1232.3,120.1 M1266.1,87.3 L1261.9,102.8 M1258.7,66.4 L1247.2,79.0 M1195.8,88.1 L1206.9,98.8 M1232.0,76.4 L1255.2,74.1 M1273.5,89.9 L1266.2,114.4 M1164.9,58.3 L1177.2,56.9 M1271.6,89.0 L1276.4,113.3 M1199.4,90.3 L1232.6,83.6 M1203.8,81.1 L1202.6,92.2 M1217.7,79.7 L1217.5,91.0 M1277.2,86.8 L1257.3,103.1 M1217.8,86.2 L1225.8,109.4 M1199.6,89.7 L1226.9,81.2 M1200.9,89.4 L1196.7,111.0 M1216.5,101.8 L1240.7,98.2 M1191.0,96.5 L1214.1,97.7 M1216.5,90.5 L1209.7,118.8 M1176.9,81.1 L1171.3,90.7 M1236.9,79.0 L1235.4,109.7 M1265.0,85.1 L1275.5,103.1 M1169.3,96.6 L1140.8,101.1 M1180.4,52.6 L1185.8,77.7 M1238.3,88.6 L1221.2,88.6 M1255.6,100.6 L1251.3,117.8 M1173.3,82.6 L1165.3,111.7 M1234.5,84.7 L1261.4,77.9 M1187.0,90.0 L1194.5,117.0 M1265.9,70.1 L1274.0,77.6 M1241.0,88.3 L1245.4,111.4 M1207.2,87.3 L1203.9,105.8 M1231.0,91.1 L1250.8,90.2 M1213.2,101.1 L1225.1,97.2 M1214.4,94.6 L1234.4,92.7 M1268.3,88.4 L1269.0,109.4 M1185.6,84.0 L1185.4,103.6 M1115.5,84.4 L1135.3,79.5 M1280.5,86.1 L1292.7,85.0 M1129.0,90.2 L1155.7,82.7 M1271.1,59.8 L1278.1,86.8 M1170.0,80.1 L1176.6,96.1 M1241.2,77.8 L1249.6,105.8 M1263.7,93.8 L1254.8,121.0 M1231.9,81.8 L1262.9,87.5 M1203.5,87.6 L1227.8,89.2 M1218.4,58.8 L1216.4,74.7 M1119.4,106.2 L1112.5,112.0 M1178.5,52.9 L1160.5,56.5 M1231.2,47.7 L1231.2,58.7 M1169.4,83.0 L1161.3,107.4 M1219.9,53.6 L1217.0,79.7 M1155.6,95.7 L1184.6,90.2 M1231.7,97.8 L1244.9,95.3 M1266.2,62.9 L1242.8,85.5 M1153.6,76.1 L1149.0,105.9 M1179.3,55.6 L1194.4,63.0 M1233.1,55.9 L1227.3,65.3 M1261.9,107.2 L1264.8,122.6 M1237.0,104.3 L1259.9,99.6 M1119.7,85.3 L1115.1,107.8 M1170.1,60.2 L1167.4,78.5 M1230.9,106.0 L1253.2,105.1" fill="none" stroke="#111" stroke-width="1.2"/>
<path d="M1052.1,46.6 L1077.0,36.5 L1102.0,28.5 L1132.2,22.2 L1167.8,16.9 L1210.0,13.3 L1250.0,12.2 L1280.0,11.6 L1320.0,7.5 L1351.3,3.6" fill="none" stroke="#111" stroke-width="1.4"/>
<circle cx="1347.3" cy="65.9" r="0.5" fill="#bbb"/>
<circle cx="1341.2" cy="74.8" r="0.5" fill="#bbb"/>
<circle cx="1330.8" cy="56.5" r="0.6" fill="#bbb"/>
<circle cx="1361.6" cy="44.5" r="0.5" fill="#bbb"/>
<circle cx="1367.4" cy="45.3" r="0.6" fill="#bbb"/>
<circle cx="1351.9" cy="57.5" r="0.6" fill="#bbb"/>
<circle cx="1358.0" cy="59.1" r="0.6" fill="#bbb"/>
<circle cx="1333.6" cy="73.5" r="0.5" fill="#bbb"/>
<circle cx="1347.4" cy="54.2" r="0.6" fill="#bbb"/>
<circle cx="1336.1" cy="63.1" r="0.5" fill="#bbb"/>
<circle cx="1341.0" cy="50.3" r="0.5" fill="#bbb"/>
<circle cx="1335.3" cy="48.2" r="0.6" fill="#bbb"/>
<circle cx="1332.9" cy="42.1" r="0.6" fill="#bbb"/>
<circle cx="1328.9" cy="70.6" r="0.5" fill="#bbb"/>
<circle cx="1364.1" cy="50.7" r="0.4" fill="#bbb"/>
<circle cx="1335.0" cy="60.7" r="0.5" fill="#bbb"/>
<circle cx="1342.0" cy="49.0" r="0.6" fill="#bbb"/>
<circle cx="1352.0" cy="46.8" r="0.6" fill="#bbb"/>
<path d="M1311.7,286.2 L1300.6,317.5 L1283.8,347.6 L1259.0,374.6 L1226.4,398.9 L1183.4,409.0 L1140.7,397.2 L1110.0,364.9 L1096.1,325.4 L1094.2,287.0 L1100.4,252.2 L1111.3,221.6 L1127.8,191.4 L1152.3,163.6 L1185.0,140.5 L1228.1,129.5 L1270.8,141.4 L1301.8,173.8 L1315.8,213.3 L1317.0,252.0 Z" fill="#f4f4f4" stroke="none"/>
<path d="M1254.2,269.6 L1251.6,284.5 L1245.2,297.5 L1234.2,309.7 L1221.1,317.2 L1206.4,321.5 L1189.8,319.8 L1175.1,311.6 L1164.6,300.0 L1158.6,285.1 L1157.3,269.0 L1160.2,254.7 L1166.4,240.5 L1177.3,229.6 L1190.4,221.9 L1206.1,218.0 L1222.0,219.5 L1236.6,227.5 L1247.6,239.0 L1252.6,253.8 Z M1274.0,280.1 L1266.5,300.1 L1255.4,318.9 L1239.6,336.4 L1218.7,350.7 L1192.3,356.8 L1165.8,349.5 L1146.3,328.8 L1137.2,305.2 L1135.5,280.8 L1138.5,258.4 L1145.7,238.8 L1156.0,219.4 L1172.2,203.3 L1192.5,189.1 L1219.4,182.3 L1246.0,190.4 L1265.9,209.3 L1274.9,233.8 L1276.9,258.1 Z M1297.0,270.1 L1289.5,297.3 L1277.7,321.4 L1261.4,345.3 L1237.3,367.5 L1205.9,382.4 L1168.4,383.5 L1137.1,364.3 L1119.6,332.3 L1113.1,299.6 L1115.2,269.6 L1122.2,242.5 L1134.2,217.1 L1150.2,193.4 L1173.6,171.2 L1206.4,156.2 L1242.8,155.3 L1274.2,175.3 L1291.9,206.7 L1298.6,238.9 Z M1311.7,286.2 L1300.6,317.5 L1283.8,347.6 L1259.0,374.6 L1226.4,398.9 L1183.4,409.0 L1140.7,397.2 L1110.0,364.9 L1096.1,325.4 L1094.2,287.0 L1100.4,252.2 L1111.3,221.6 L1127.8,191.4 L1152.3,163.6 L1185.0,140.5 L1228.1,129.5 L1270.8,141.4 L1301.8,173.8 L1315.8,213.3 L1317.0,252.0 Z M1254.2,269.6 L1274.0,280.1 L1251.6,284.5 M1251.6,284.5 L1266.5,300.1 L1245.2,297.5 M1245.2,297.5 L1255.4,318.9 L1234.2,309.7 M1234.2,309.7 L1239.6,336.4 L1221.1,317.2 M1221.1,317.2 L1218.7,350.7 L1206.4,321.5 M1206.4,321.5 L1192.3,356.8 L1189.8,319.8 M1189.8,319.8 L1165.8,349.5 L1175.1,311.6 M1175.1,311.6 L1146.3,328.8 L1164.6,300.0 M1164.6,300.0 L1137.2,305.2 L1158.6,285.1 M1158.6,285.1 L1135.5,280.8 L1157.3,269.0 M1157.3,269.0 L1138.5,258.4 L1160.2,254.7 M1160.2,254.7 L1145.7,238.8 L1166.4,240.5 M1166.4,240.5 L1156.0,219.4 L1177.3,229.6 M1177.3,229.6 L1172.2,203.3 L1190.4,221.9 M1190.4,221.9 L1192.5,189.1 L1206.1,218.0 M1206.1,218.0 L1219.4,182.3 L1222.0,219.5 M1222.0,219.5 L1246.0,190.4 L1236.6,227.5 M1236.6,227.5 L1265.9,209.3 L1247.6,239.0 M1247.6,239.0 L1274.9,233.8 L1252.6,253.8 M1252.6,253.8 L1276.9,258.1 L1254.2,269.6 M1274.0,280.1 L1289.5,297.3 M1274.0,280.1 L1297.0,270.1 M1266.5,300.1 L1277.7,321.4 M1266.5,300.1 L1289.5,297.3 M1255.4,318.9 L1261.4,345.3 M1255.4,318.9 L1277.7,321.4 M1239.6,336.4 L1237.3,367.5 M1239.6,336.4 L1261.4,345.3 M1218.7,350.7 L1205.9,382.4 M1218.7,350.7 L1237.3,367.5 M1192.3,356.8 L1168.4,383.5 M1192.3,356.8 L1205.9,382.4 M1165.8,349.5 L1137.1,364.3 M1165.8,349.5 L1168.4,383.5 M1146.3,328.8 L1119.6,332.3 M1146.3,328.8 L1137.1,364.3 M1137.2,305.2 L1113.1,299.6 M1137.2,305.2 L1119.6,332.3 M1135.5,280.8 L1115.2,269.6 M1135.5,280.8 L1113.1,299.6 M1138.5,258.4 L1122.2,242.5 M1138.5,258.4 L1115.2,269.6 M1145.7,238.8 L1134.2,217.1 M1145.7,238.8 L1122.2,242.5 M1156.0,219.4 L1150.2,193.4 M1156.0,219.4 L1134.2,217.1 M1172.2,203.3 L1173.6,171.2 M1172.2,203.3 L1150.2,193.4 M1192.5,189.1 L1206.4,156.2 M1192.5,189.1 L1173.6,171.2 M1219.4,182.3 L1242.8,155.3 M1219.4,182.3 L1206.4,156.2 M1246.0,190.4 L1274.2,175.3 M1246.0,190.4 L1242.8,155.3 M1265.9,209.3 L1291.9,206.7 M1265.9,209.3 L1274.2,175.3 M1274.9,233.8 L1298.6,238.9 M1274.9,233.8 L1291.9,206.7 M1276.9,258.1 L1297.0,270.1 M1276.9,258.1 L1298.6,238.9 M1297.0,270.1 L1311.7,286.2 L1289.5,297.3 M1289.5,297.3 L1300.6,317.5 L1277.7,321.4 M1277.7,321.4 L1283.8,347.6 L1261.4,345.3 M1261.4,345.3 L1259.0,374.6 L1237.3,367.5 M1237.3,367.5 L1226.4,398.9 L1205.9,382.4 M1205.9,382.4 L1183.4,409.0 L1168.4,383.5 M1168.4,383.5 L1140.7,397.2 L1137.1,364.3 M1137.1,364.3 L1110.0,364.9 L1119.6,332.3 M1119.6,332.3 L1096.1,325.4 L1113.1,299.6 M1113.1,299.6 L1094.2,287.0 L1115.2,269.6 M1115.2,269.6 L1100.4,252.2 L1122.2,242.5 M1122.2,242.5 L1111.3,221.6 L1134.2,217.1 M1134.2,217.1 L1127.8,191.4 L1150.2,193.4 M1150.2,193.4 L1152.3,163.6 L1173.6,171.2 M1173.6,171.2 L1185.0,140.5 L1206.4,156.2 M1206.4,156.2 L1228.1,129.5 L1242.8,155.3 M1242.8,155.3 L1270.8,141.4 L1274.2,175.3 M1274.2,175.3 L1301.8,173.8 L1291.9,206.7 M1291.9,206.7 L1315.8,213.3 L1298.6,238.9 M1298.6,238.9 L1317.0,252.0 L1297.0,270.1 M1211.8,269.5 L1254.5,269.5 M1211.7,270.7 L1253.1,279.6 M1211.3,271.9 L1249.9,289.1 M1210.7,273.0 L1245.0,298.0 M1209.8,274.0 L1238.5,305.8 M1208.8,274.7 L1230.6,312.5 M1207.7,275.2 L1221.4,317.6 M1206.4,275.5 L1211.2,320.8 M1205.2,275.5 L1200.3,321.7 M1203.9,275.2 L1189.4,319.8 M1202.8,274.7 L1179.4,315.2 M1201.8,274.0 L1170.9,308.2 M1200.9,273.0 L1164.4,299.6 M1200.3,271.9 L1160.0,289.9 M1199.9,270.7 L1157.6,279.7 M1199.8,269.5 L1157.1,269.5 M1199.9,268.3 L1158.5,259.4 M1200.3,267.1 L1161.7,249.9 M1200.9,266.0 L1166.6,241.0 M1201.8,265.0 L1173.1,233.2 M1202.8,264.3 L1181.0,226.5 M1203.9,263.8 L1190.2,221.4 M1205.2,263.5 L1200.4,218.2 M1206.4,263.5 L1211.3,217.3 M1207.7,263.8 L1222.2,219.2 M1208.8,264.3 L1232.2,223.8 M1209.8,265.0 L1240.7,230.8 M1210.7,266.0 L1247.2,239.4 M1211.3,267.1 L1251.6,249.1 M1211.7,268.3 L1254.0,259.3" fill="none" stroke="#1a1a1a" stroke-width="1.15" stroke-linejoin="round"/>
<path d="M1254.2,269.6 L1297.0,270.1 M1251.6,284.5 L1289.5,297.3 M1245.2,297.5 L1277.7,321.4 M1234.2,309.7 L1261.4,345.3 M1221.1,317.2 L1237.3,367.5 M1206.4,321.5 L1205.9,382.4 M1189.8,319.8 L1168.4,383.5 M1175.1,311.6 L1137.1,364.3 M1164.6,300.0 L1119.6,332.3 M1158.6,285.1 L1113.1,299.6 M1157.3,269.0 L1115.2,269.6 M1160.2,254.7 L1122.2,242.5 M1166.4,240.5 L1134.2,217.1 M1177.3,229.6 L1150.2,193.4 M1190.4,221.9 L1173.6,171.2 M1206.1,218.0 L1206.4,156.2 M1222.0,219.5 L1242.8,155.3 M1236.6,227.5 L1274.2,175.3 M1247.6,239.0 L1291.9,206.7 M1252.6,253.8 L1298.6,238.9 M1297.0,270.1 L1300.6,317.5 M1289.5,297.3 L1283.8,347.6 M1277.7,321.4 L1259.0,374.6 M1261.4,345.3 L1226.4,398.9 M1237.3,367.5 L1183.4,409.0 M1205.9,382.4 L1140.7,397.2 M1168.4,383.5 L1110.0,364.9 M1137.1,364.3 L1096.1,325.4 M1119.6,332.3 L1094.2,287.0 M1113.1,299.6 L1100.4,252.2 M1115.2,269.6 L1111.3,221.6 M1122.2,242.5 L1127.8,191.4 M1134.2,217.1 L1152.3,163.6 M1150.2,193.4 L1185.0,140.5 M1173.6,171.2 L1228.1,129.5 M1206.4,156.2 L1270.8,141.4 M1242.8,155.3 L1301.8,173.8 M1274.2,175.3 L1315.8,213.3 M1291.9,206.7 L1317.0,252.0 M1298.6,238.9 L1311.7,286.2" fill="none" stroke="#1a1a1a" stroke-width="1.1"/>
<path d="M1254.2,269.6 L1251.6,284.5 L1245.2,297.5 L1234.2,309.7 L1221.1,317.2 L1206.4,321.5 L1189.8,319.8 L1175.1,311.6 L1164.6,300.0 L1158.6,285.1 L1157.3,269.0 L1160.2,254.7 L1166.4,240.5 L1177.3,229.6 L1190.4,221.9 L1206.1,218.0 L1222.0,219.5 L1236.6,227.5 L1247.6,239.0 L1252.6,253.8 Z" fill="none" stroke="#111" stroke-width="1.6"/>
<ellipse cx="1209.5" cy="266.5" rx="4.2" ry="5" fill="#fff" stroke="#111" stroke-width="1.6"/>
<ellipse cx="1201.5" cy="278" rx="4.2" ry="5" fill="#fff" stroke="#111" stroke-width="1.6"/>
<ellipse cx="1205.5" cy="272" rx="3" ry="4" fill="#fff" stroke="none"/>
<path d="M1342.1,585.6 L1344.4,633.4 L1318.3,670.6 L1271.7,682.6 L1230.7,684.6 L1196.3,689.1 L1159.9,687.7 L1120.8,682.8 L1075.4,670.0 L1059.2,627.6 L1072.6,582.7 L1088.3,549.7 L1104.5,523.9 L1117.2,496.7 L1133.8,469.3 L1158.9,440.0 L1196.0,425.5 L1232.8,440.5 L1259.2,466.5 L1279.0,493.7 L1300.7,517.5 L1322.1,547.2 Z" fill="#f4f4f4" stroke="none"/>
<path d="M1257.2,565.3 L1255.0,582.7 L1247.7,598.5 L1235.4,611.1 L1221.9,620.8 L1205.2,625.0 L1187.3,625.2 L1170.7,620.7 L1155.4,610.8 L1144.3,598.5 L1137.7,581.8 L1135.3,564.6 L1137.5,547.3 L1144.0,532.4 L1155.6,518.5 L1171.2,509.9 L1187.1,505.1 L1204.7,504.7 L1221.0,509.9 L1236.2,519.4 L1247.9,531.7 L1254.5,547.4 Z M1288.5,577.8 L1285.4,606.1 L1269.4,629.3 L1245.3,641.7 L1220.9,648.3 L1195.8,651.4 L1171.5,648.6 L1147.2,641.3 L1122.6,629.3 L1109.4,604.6 L1110.0,577.4 L1114.2,552.8 L1123.5,532.6 L1134.7,512.5 L1151.4,495.3 L1170.9,479.9 L1196.0,473.9 L1220.4,480.4 L1242.0,494.3 L1257.5,511.8 L1271.8,530.0 L1282.7,553.1 Z M1310.9,565.5 L1320.1,601.2 L1308.9,637.3 L1276.2,657.7 L1242.8,667.6 L1210.7,669.5 L1181.5,670.2 L1148.9,667.5 L1114.9,659.2 L1085.8,635.7 L1085.1,597.9 L1095.5,565.0 L1107.4,538.4 L1119.1,515.9 L1134.3,493.9 L1151.8,469.2 L1179.0,450.3 L1212.1,451.0 L1240.4,469.5 L1261.5,490.0 L1278.6,512.2 L1294.5,535.8 Z M1342.1,585.6 L1344.4,633.4 L1318.3,670.6 L1271.7,682.6 L1230.7,684.6 L1196.3,689.1 L1159.9,687.7 L1120.8,682.8 L1075.4,670.0 L1059.2,627.6 L1072.6,582.7 L1088.3,549.7 L1104.5,523.9 L1117.2,496.7 L1133.8,469.3 L1158.9,440.0 L1196.0,425.5 L1232.8,440.5 L1259.2,466.5 L1279.0,493.7 L1300.7,517.5 L1322.1,547.2 Z M1257.2,565.3 L1288.5,577.8 L1255.0,582.7 M1255.0,582.7 L1285.4,606.1 L1247.7,598.5 M1247.7,598.5 L1269.4,629.3 L1235.4,611.1 M1235.4,611.1 L1245.3,641.7 L1221.9,620.8 M1221.9,620.8 L1220.9,648.3 L1205.2,625.0 M1205.2,625.0 L1195.8,651.4 L1187.3,625.2 M1187.3,625.2 L1171.5,648.6 L1170.7,620.7 M1170.7,620.7 L1147.2,641.3 L1155.4,610.8 M1155.4,610.8 L1122.6,629.3 L1144.3,598.5 M1144.3,598.5 L1109.4,604.6 L1137.7,581.8 M1137.7,581.8 L1110.0,577.4 L1135.3,564.6 M1135.3,564.6 L1114.2,552.8 L1137.5,547.3 M1137.5,547.3 L1123.5,532.6 L1144.0,532.4 M1144.0,532.4 L1134.7,512.5 L1155.6,518.5 M1155.6,518.5 L1151.4,495.3 L1171.2,509.9 M1171.2,509.9 L1170.9,479.9 L1187.1,505.1 M1187.1,505.1 L1196.0,473.9 L1204.7,504.7 M1204.7,504.7 L1220.4,480.4 L1221.0,509.9 M1221.0,509.9 L1242.0,494.3 L1236.2,519.4 M1236.2,519.4 L1257.5,511.8 L1247.9,531.7 M1247.9,531.7 L1271.8,530.0 L1254.5,547.4 M1254.5,547.4 L1282.7,553.1 L1257.2,565.3 M1288.5,577.8 L1320.1,601.2 M1288.5,577.8 L1310.9,565.5 M1285.4,606.1 L1308.9,637.3 M1285.4,606.1 L1320.1,601.2 M1269.4,629.3 L1276.2,657.7 M1269.4,629.3 L1308.9,637.3 M1245.3,641.7 L1242.8,667.6 M1245.3,641.7 L1276.2,657.7 M1220.9,648.3 L1210.7,669.5 M1220.9,648.3 L1242.8,667.6 M1195.8,651.4 L1181.5,670.2 M1195.8,651.4 L1210.7,669.5 M1171.5,648.6 L1148.9,667.5 M1171.5,648.6 L1181.5,670.2 M1147.2,641.3 L1114.9,659.2 M1147.2,641.3 L1148.9,667.5 M1122.6,629.3 L1085.8,635.7 M1122.6,629.3 L1114.9,659.2 M1109.4,604.6 L1085.1,597.9 M1109.4,604.6 L1085.8,635.7 M1110.0,577.4 L1095.5,565.0 M1110.0,577.4 L1085.1,597.9 M1114.2,552.8 L1107.4,538.4 M1114.2,552.8 L1095.5,565.0 M1123.5,532.6 L1119.1,515.9 M1123.5,532.6 L1107.4,538.4 M1134.7,512.5 L1134.3,493.9 M1134.7,512.5 L1119.1,515.9 M1151.4,495.3 L1151.8,469.2 M1151.4,495.3 L1134.3,493.9 M1170.9,479.9 L1179.0,450.3 M1170.9,479.9 L1151.8,469.2 M1196.0,473.9 L1212.1,451.0 M1196.0,473.9 L1179.0,450.3 M1220.4,480.4 L1240.4,469.5 M1220.4,480.4 L1212.1,451.0 M1242.0,494.3 L1261.5,490.0 M1242.0,494.3 L1240.4,469.5 M1257.5,511.8 L1278.6,512.2 M1257.5,511.8 L1261.5,490.0 M1271.8,530.0 L1294.5,535.8 M1271.8,530.0 L1278.6,512.2 M1282.7,553.1 L1310.9,565.5 M1282.7,553.1 L1294.5,535.8 M1310.9,565.5 L1342.1,585.6 L1320.1,601.2 M1320.1,601.2 L1344.4,633.4 L1308.9,637.3 M1308.9,637.3 L1318.3,670.6 L1276.2,657.7 M1276.2,657.7 L1271.7,682.6 L1242.8,667.6 M1242.8,667.6 L1230.7,684.6 L1210.7,669.5 M1210.7,669.5 L1196.3,689.1 L1181.5,670.2 M1181.5,670.2 L1159.9,687.7 L1148.9,667.5 M1148.9,667.5 L1120.8,682.8 L1114.9,659.2 M1114.9,659.2 L1075.4,670.0 L1085.8,635.7 M1085.8,635.7 L1059.2,627.6 L1085.1,597.9 M1085.1,597.9 L1072.6,582.7 L1095.5,565.0 M1095.5,565.0 L1088.3,549.7 L1107.4,538.4 M1107.4,538.4 L1104.5,523.9 L1119.1,515.9 M1119.1,515.9 L1117.2,496.7 L1134.3,493.9 M1134.3,493.9 L1133.8,469.3 L1151.8,469.2 M1151.8,469.2 L1158.9,440.0 L1179.0,450.3 M1179.0,450.3 L1196.0,425.5 L1212.1,451.0 M1212.1,451.0 L1232.8,440.5 L1240.4,469.5 M1240.4,469.5 L1259.2,466.5 L1261.5,490.0 M1261.5,490.0 L1279.0,493.7 L1278.6,512.2 M1278.6,512.2 L1300.7,517.5 L1294.5,535.8 M1294.5,535.8 L1322.1,547.2 L1310.9,565.5 M1205.0,565.0 L1257.1,565.0 M1204.8,567.0 L1255.6,578.6 M1204.1,568.9 L1251.1,591.5 M1203.0,570.6 L1243.8,603.1 M1201.6,572.0 L1234.1,612.8 M1199.9,573.1 L1222.5,620.1 M1198.0,573.8 L1209.6,624.6 M1196.0,574.0 L1196.0,626.1 M1194.0,573.8 L1182.4,624.6 M1192.1,573.1 L1169.5,620.1 M1190.4,572.0 L1157.9,612.8 M1189.0,570.6 L1148.2,603.1 M1187.9,568.9 L1140.9,591.5 M1187.2,567.0 L1136.4,578.6 M1187.0,565.0 L1134.9,565.0 M1187.2,563.0 L1136.4,551.4 M1187.9,561.1 L1140.9,538.5 M1189.0,559.4 L1148.2,526.9 M1190.4,558.0 L1157.9,517.2 M1192.1,556.9 L1169.5,509.9 M1194.0,556.2 L1182.4,505.4 M1196.0,556.0 L1196.0,503.9 M1198.0,556.2 L1209.6,505.4 M1199.9,556.9 L1222.5,509.9 M1201.6,558.0 L1234.1,517.2 M1203.0,559.4 L1243.8,526.9 M1204.1,561.1 L1251.1,538.5 M1204.8,563.0 L1255.6,551.4" fill="none" stroke="#1a1a1a" stroke-width="1.15" stroke-linejoin="round"/>
<path d="M1257.2,565.3 L1310.9,565.5 M1255.0,582.7 L1320.1,601.2 M1247.7,598.5 L1308.9,637.3 M1235.4,611.1 L1276.2,657.7 M1221.9,620.8 L1242.8,667.6 M1205.2,625.0 L1210.7,669.5 M1187.3,625.2 L1181.5,670.2 M1170.7,620.7 L1148.9,667.5 M1155.4,610.8 L1114.9,659.2 M1144.3,598.5 L1085.8,635.7 M1137.7,581.8 L1085.1,597.9 M1135.3,564.6 L1095.5,565.0 M1137.5,547.3 L1107.4,538.4 M1144.0,532.4 L1119.1,515.9 M1155.6,518.5 L1134.3,493.9 M1171.2,509.9 L1151.8,469.2 M1187.1,505.1 L1179.0,450.3 M1204.7,504.7 L1212.1,451.0 M1221.0,509.9 L1240.4,469.5 M1236.2,519.4 L1261.5,490.0 M1247.9,531.7 L1278.6,512.2 M1254.5,547.4 L1294.5,535.8 M1310.9,565.5 L1344.4,633.4 M1320.1,601.2 L1318.3,670.6 M1308.9,637.3 L1271.7,682.6 M1276.2,657.7 L1230.7,684.6 M1242.8,667.6 L1196.3,689.1 M1210.7,669.5 L1159.9,687.7 M1181.5,670.2 L1120.8,682.8 M1148.9,667.5 L1075.4,670.0 M1114.9,659.2 L1059.2,627.6 M1085.8,635.7 L1072.6,582.7 M1085.1,597.9 L1088.3,549.7 M1095.5,565.0 L1104.5,523.9 M1107.4,538.4 L1117.2,496.7 M1119.1,515.9 L1133.8,469.3 M1134.3,493.9 L1158.9,440.0 M1151.8,469.2 L1196.0,425.5 M1179.0,450.3 L1232.8,440.5 M1212.1,451.0 L1259.2,466.5 M1240.4,469.5 L1279.0,493.7 M1261.5,490.0 L1300.7,517.5 M1278.6,512.2 L1322.1,547.2 M1294.5,535.8 L1342.1,585.6" fill="none" stroke="#1a1a1a" stroke-width="1.1"/>
<path d="M1257.2,565.3 L1255.0,582.7 L1247.7,598.5 L1235.4,611.1 L1221.9,620.8 L1205.2,625.0 L1187.3,625.2 L1170.7,620.7 L1155.4,610.8 L1144.3,598.5 L1137.7,581.8 L1135.3,564.6 L1137.5,547.3 L1144.0,532.4 L1155.6,518.5 L1171.2,509.9 L1187.1,505.1 L1204.7,504.7 L1221.0,509.9 L1236.2,519.4 L1247.9,531.7 L1254.5,547.4 Z" fill="none" stroke="#111" stroke-width="1.8"/>
<polygon points="1255.1,587.5 1257.7,578.9 1249.2,581.0" fill="#111"/>
<polygon points="1218.5,624.0 1226.6,620.2 1219.4,615.3" fill="#111"/>
<polygon points="1166.0,620.2 1174.1,623.9 1173.2,615.2" fill="#111"/>
<polygon points="1140.6,595.6 1145.5,603.1 1149.4,595.3" fill="#111"/>
<polygon points="1137.4,542.6 1134.8,551.2 1143.3,549.1" fill="#111"/>
<polygon points="1158.1,514.4 1151.3,520.3 1159.6,523.0" fill="#111"/>
<polygon points="1209.4,503.9 1200.5,502.6 1203.9,510.7" fill="#111"/>
<polygon points="1240.6,521.2 1233.9,515.3 1232.3,523.9" fill="#111"/>
<circle cx="1193" cy="562" r="9" fill="#fff" stroke="#111" stroke-width="1.6"/>
<line x1="1006.8" y1="131.3" x2="1006.8" y2="103.8" stroke="#222" stroke-width="1"/>
<polygon points="1006.8,98.3 1009.4,103.8 1004.2,103.8" fill="#222"/>
<line x1="1006.8" y1="131.3" x2="1036.0" y2="131.3" stroke="#222" stroke-width="1"/>
<polygon points="1041.5,131.3 1036.0,133.9 1036.0,128.7" fill="#222"/>
<line x1="1006.8" y1="131.3" x2="988.0" y2="150.1" stroke="#222" stroke-width="1"/>
<polygon points="984.1,154.0 986.2,148.3 989.8,151.9" fill="#222"/>
<text x="1012.5" y="102.0" font-size="7" font-weight="bold" font-family="Liberation Sans, sans-serif" fill="#222">z</text>
<text x="1036.0" y="139.5" font-size="7" font-weight="bold" font-family="Liberation Sans, sans-serif" fill="#222">-y</text>
<text x="977.5" y="160.5" font-size="7" font-weight="bold" font-family="Liberation Sans, sans-serif" fill="#222">-x</text>
<line x1="1006.2" y1="320.0" x2="1006.2" y2="294.5" stroke="#222" stroke-width="1"/>
<polygon points="1006.2,289.0 1008.8,294.5 1003.6,294.5" fill="#222"/>
<line x1="1006.2" y1="320.0" x2="1035.7" y2="320.0" stroke="#222" stroke-width="1"/>
<polygon points="1041.2,320.0 1035.7,322.6 1035.7,317.4" fill="#222"/>
<line x1="1006.2" y1="320.0" x2="987.2" y2="340.4" stroke="#222" stroke-width="1"/>
<polygon points="983.5,344.4 985.3,338.6 989.1,342.1" fill="#222"/>
<text x="1012.0" y="292.0" font-size="7" font-weight="bold" font-family="Liberation Sans, sans-serif" fill="#222">x</text>
<text x="1036.0" y="328.0" font-size="7" font-weight="bold" font-family="Liberation Sans, sans-serif" fill="#222">-y</text>
<text x="979.0" y="347.0" font-size="7" font-weight="bold" font-family="Liberation Sans, sans-serif" fill="#222">z</text>
<line x1="1004.9" y1="574.2" x2="1004.9" y2="549.4" stroke="#222" stroke-width="1"/>
<polygon points="1004.9,543.9 1007.5,549.4 1002.3,549.4" fill="#222"/>
<line x1="1004.9" y1="574.2" x2="1033.4" y2="574.2" stroke="#222" stroke-width="1"/>
<polygon points="1038.9,574.2 1033.4,576.8 1033.4,571.6" fill="#222"/>
<line x1="1004.9" y1="574.2" x2="986.7" y2="593.1" stroke="#222" stroke-width="1"/>
<polygon points="982.9,597.1 984.8,591.3 988.6,594.9" fill="#222"/>
<text x="1010.5" y="547.0" font-size="7" font-weight="bold" font-family="Liberation Sans, sans-serif" fill="#222">x</text>
<text x="1034.0" y="582.0" font-size="7" font-weight="bold" font-family="Liberation Sans, sans-serif" fill="#222">-y</text>
<text x="978.0" y="600.0" font-size="7" font-weight="bold" font-family="Liberation Sans, sans-serif" fill="#222">z</text>
</svg>
</body></html>
